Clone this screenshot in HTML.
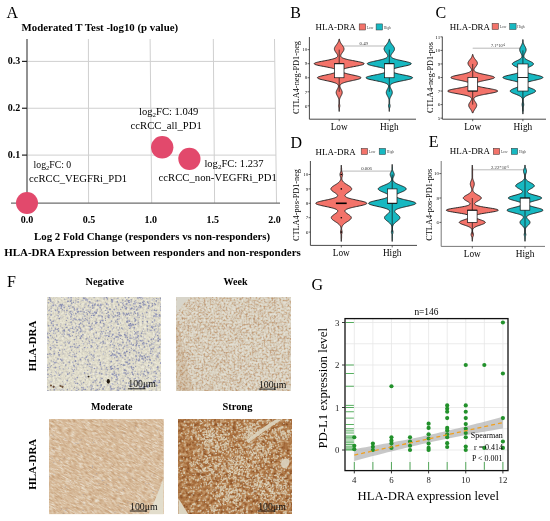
<!DOCTYPE html>
<html><head><meta charset="utf-8"><style>
html,body{margin:0;padding:0;background:#fff;}
svg{display:block;filter:blur(0.4px);font-family:"Liberation Serif", serif;}
</style></head><body>
<svg width="550" height="521" viewBox="0 0 550 521">
<text x="6.40" y="17.70" font-size="16">A</text>
<text x="21.60" y="31.00" font-size="10.9" font-weight="bold" textLength="156.50" lengthAdjust="spacingAndGlyphs">Moderated T Test -log10 (p value)</text>
<line x1="27.00" y1="155.10" x2="276.02" y2="155.10" stroke="#cfcfcf" stroke-width="1"/>
<line x1="27.00" y1="108.25" x2="275.44" y2="108.25" stroke="#cfcfcf" stroke-width="1"/>
<line x1="27.00" y1="61.40" x2="274.87" y2="61.40" stroke="#cfcfcf" stroke-width="1"/>
<line x1="88.40" y1="39.00" x2="88.60" y2="203.00" stroke="#cfcfcf" stroke-width="1"/>
<line x1="150.10" y1="39.00" x2="151.70" y2="203.00" stroke="#cfcfcf" stroke-width="1"/>
<line x1="213.30" y1="39.00" x2="214.60" y2="203.00" stroke="#cfcfcf" stroke-width="1"/>
<line x1="274.50" y1="39.00" x2="276.50" y2="203.00" stroke="#cfcfcf" stroke-width="1"/>
<line x1="27.00" y1="39.00" x2="27.00" y2="203.20" stroke="#6e6e6e" stroke-width="1.5"/>
<line x1="11.00" y1="203.20" x2="280.00" y2="203.20" stroke="#6e6e6e" stroke-width="1.3"/>
<line x1="22.00" y1="155.10" x2="27.00" y2="155.10" stroke="#222" stroke-width="1.2"/>
<text x="20.30" y="157.70" font-size="10" font-weight="bold" text-anchor="end">0.1</text>
<line x1="22.00" y1="108.25" x2="27.00" y2="108.25" stroke="#222" stroke-width="1.2"/>
<text x="20.30" y="110.85" font-size="10" font-weight="bold" text-anchor="end">0.2</text>
<line x1="22.00" y1="61.40" x2="27.00" y2="61.40" stroke="#222" stroke-width="1.2"/>
<text x="20.30" y="64.00" font-size="10" font-weight="bold" text-anchor="end">0.3</text>
<text x="27.00" y="222.70" font-size="10" font-weight="bold" text-anchor="middle">0.0</text>
<text x="88.90" y="222.70" font-size="10" font-weight="bold" text-anchor="middle">0.5</text>
<text x="150.80" y="222.70" font-size="10" font-weight="bold" text-anchor="middle">1.0</text>
<text x="212.70" y="222.70" font-size="10" font-weight="bold" text-anchor="middle">1.5</text>
<text x="274.60" y="222.70" font-size="10" font-weight="bold" text-anchor="middle">2.0</text>
<text x="34.00" y="240.20" font-size="10.9" font-weight="bold" textLength="236.20" lengthAdjust="spacingAndGlyphs">Log 2 Fold Change (responders vs non-responders)</text>
<text x="4.20" y="256.20" font-size="10.9" font-weight="bold" textLength="296.60" lengthAdjust="spacingAndGlyphs">HLA-DRA Expression between responders and non-responders</text>
<circle cx="27.00" cy="203.00" r="11" fill="#e2496c"/>
<circle cx="162.20" cy="147.30" r="11.2" fill="#e2496c"/>
<circle cx="189.40" cy="158.80" r="11.1" fill="#e2496c"/>
<text x="33.60" y="168.00" font-size="10.6" textLength="37.60" lengthAdjust="spacingAndGlyphs">log<tspan font-size="7" dy="2.2">2</tspan><tspan dy="-2.2">FC: 0</tspan></text>
<text x="29.00" y="182.40" font-size="10.6" textLength="98.20" lengthAdjust="spacingAndGlyphs">ccRCC_VEGFRi_PD1</text>
<text x="139.00" y="114.60" font-size="10.6" textLength="59.40" lengthAdjust="spacingAndGlyphs">log<tspan font-size="7" dy="2.2">2</tspan><tspan dy="-2.2">FC: 1.049</tspan></text>
<text x="130.60" y="129.00" font-size="10.6" textLength="71.20" lengthAdjust="spacingAndGlyphs">ccRCC_all_PD1</text>
<text x="204.40" y="167.00" font-size="10.6" textLength="59.20" lengthAdjust="spacingAndGlyphs">log<tspan font-size="7" dy="2.2">2</tspan><tspan dy="-2.2">FC: 1.237</tspan></text>
<text x="158.60" y="181.00" font-size="10.6" textLength="118.20" lengthAdjust="spacingAndGlyphs">ccRCC_non-VEGFRi_PD1</text>
<text x="315.60" y="30.00" font-size="9.2" textLength="40.20" lengthAdjust="spacingAndGlyphs">HLA-DRA</text>
<rect x="359.20" y="23.90" width="6.40" height="6.10" fill="#f3736a" stroke="#333" stroke-width="0.5"/>
<text x="366.80" y="28.50" font-size="3.6" fill="#444">Low</text>
<rect x="376.10" y="23.90" width="6.40" height="6.10" fill="#17b8c1" stroke="#333" stroke-width="0.5"/>
<text x="383.70" y="28.50" font-size="3.6" fill="#444">High</text>
<text x="290.20" y="17.70" font-size="16">B</text>
<line x1="309.40" y1="37.00" x2="309.40" y2="119.20" stroke="#333" stroke-width="0.9"/>
<line x1="309.40" y1="119.20" x2="416.00" y2="119.20" stroke="#333" stroke-width="0.9"/>
<line x1="307.60" y1="49.65" x2="309.40" y2="49.65" stroke="#222" stroke-width="0.7"/>
<text x="307.30" y="51.35" font-size="5" text-anchor="end" fill="#111">10</text>
<line x1="307.60" y1="63.70" x2="309.40" y2="63.70" stroke="#222" stroke-width="0.7"/>
<text x="307.30" y="65.40" font-size="5" text-anchor="end" fill="#111">9</text>
<line x1="307.60" y1="77.75" x2="309.40" y2="77.75" stroke="#222" stroke-width="0.7"/>
<text x="307.30" y="79.45" font-size="5" text-anchor="end" fill="#111">8</text>
<line x1="307.60" y1="91.80" x2="309.40" y2="91.80" stroke="#222" stroke-width="0.7"/>
<text x="307.30" y="93.50" font-size="5" text-anchor="end" fill="#111">7</text>
<line x1="307.60" y1="105.85" x2="309.40" y2="105.85" stroke="#222" stroke-width="0.7"/>
<text x="307.30" y="107.55" font-size="5" text-anchor="end" fill="#111">6</text>
<text x="299.10" y="77.50" font-size="8.8" text-anchor="middle" textLength="73.00" lengthAdjust="spacingAndGlyphs" transform="rotate(-90 299.10 77.50)">CTLA4-neg-PD1-neg</text>
<line x1="339.20" y1="46.00" x2="389.20" y2="46.00" stroke="#8a8a8a" stroke-width="0.6"/>
<text x="359.60" y="44.90" font-size="4.6" textLength="8.40" lengthAdjust="spacingAndGlyphs" fill="#333">0.49</text>
<polygon points="339.41,39.11 339.45,39.39 339.50,39.67 339.55,39.95 339.61,40.23 339.68,40.50 339.76,40.78 339.84,41.06 339.94,41.34 340.05,41.62 340.16,41.90 340.29,42.17 340.43,42.45 340.58,42.73 340.74,43.01 340.90,43.29 341.08,43.57 341.27,43.84 341.46,44.12 341.66,44.40 341.86,44.68 342.07,44.96 342.28,45.24 342.48,45.51 342.68,45.79 342.87,46.07 343.06,46.35 343.23,46.63 343.39,46.90 343.54,47.18 343.67,47.46 343.78,47.74 343.87,48.02 343.93,48.30 343.98,48.57 344.00,48.85 343.99,49.13 343.97,49.41 343.92,49.69 343.84,49.97 343.75,50.24 343.63,50.52 343.50,50.80 343.35,51.08 343.18,51.36 343.00,51.64 342.82,51.91 342.62,52.19 342.42,52.47 342.22,52.75 342.02,53.03 341.83,53.31 341.64,53.58 341.45,53.86 341.29,54.14 341.13,54.42 341.00,54.70 340.89,54.98 340.80,55.25 340.75,55.53 340.73,55.81 340.76,56.09 340.84,56.37 340.98,56.65 341.18,56.92 341.46,57.20 341.81,57.48 342.26,57.76 342.81,58.04 343.47,58.32 344.23,58.59 345.11,58.87 346.11,59.15 347.21,59.43 348.42,59.71 349.73,59.98 351.11,60.26 352.55,60.54 354.03,60.82 355.52,61.10 356.99,61.38 358.41,61.65 359.74,61.93 360.94,62.21 362.00,62.49 362.87,62.77 363.54,63.05 363.98,63.32 364.19,63.60 364.15,63.88 363.87,64.16 363.36,64.44 362.62,64.72 361.69,64.99 360.58,65.27 359.33,65.55 357.97,65.83 356.52,66.11 355.04,66.39 353.54,66.66 352.06,66.94 350.62,67.22 349.25,67.50 347.97,67.78 346.78,68.06 345.70,68.33 344.74,68.61 343.89,68.89 343.17,69.17 342.56,69.45 342.08,69.73 341.71,70.00 341.45,70.28 341.30,70.56 341.25,70.84 341.31,71.12 341.48,71.40 341.75,71.67 342.13,71.95 342.62,72.23 343.21,72.51 343.92,72.79 344.73,73.06 345.64,73.34 346.66,73.62 347.76,73.90 348.94,74.18 350.18,74.46 351.47,74.73 352.77,75.01 354.07,75.29 355.34,75.57 356.54,75.85 357.65,76.13 358.64,76.40 359.48,76.68 360.16,76.96 360.64,77.24 360.93,77.52 361.00,77.80 360.86,78.07 360.51,78.35 359.96,78.63 359.22,78.91 358.33,79.19 357.29,79.47 356.15,79.74 354.92,80.02 353.64,80.30 352.34,80.58 351.04,80.86 349.76,81.14 348.53,81.41 347.37,81.69 346.28,81.97 345.28,82.25 344.38,82.53 343.57,82.81 342.86,83.08 342.24,83.36 341.72,83.64 341.28,83.92 340.91,84.20 340.62,84.48 340.39,84.75 340.22,85.03 340.09,85.31 340.01,85.59 339.97,85.87 339.96,86.14 339.98,86.42 340.02,86.70 340.08,86.98 340.17,87.26 340.26,87.54 340.38,87.81 340.50,88.09 340.63,88.37 340.77,88.65 340.92,88.93 341.07,89.21 341.21,89.48 341.36,89.76 341.50,90.04 341.63,90.32 341.76,90.60 341.87,90.88 341.97,91.15 342.05,91.43 342.12,91.71 342.17,91.99 342.19,92.27 342.20,92.55 342.19,92.82 342.15,93.10 342.10,93.38 342.03,93.66 341.94,93.94 341.84,94.22 341.72,94.49 341.59,94.77 341.45,95.05 341.31,95.33 341.16,95.61 341.01,95.89 340.86,96.16 340.72,96.44 340.57,96.72 340.43,97.00 340.30,97.28 340.18,97.56 340.06,97.83 339.95,98.11 339.85,98.39 339.76,98.67 339.68,98.95 339.61,99.22 339.55,99.50 339.50,99.78 339.50,100.06 339.50,100.34 339.50,100.62 339.50,100.89 339.50,101.17 339.50,101.45 339.50,101.73 339.50,102.01 339.50,102.29 339.50,102.56 339.50,102.84 339.50,103.12 339.50,103.40 339.50,103.68 339.53,103.96 339.59,104.23 339.64,104.51 339.70,104.79 339.74,105.07 339.78,105.35 339.80,105.63 339.80,105.90 339.79,106.18 339.76,106.46 339.72,106.74 339.67,107.02 339.62,107.30 339.56,107.57 339.50,107.85 339.49,108.13 339.46,108.41 339.44,108.69 339.41,108.97 339.39,109.24 339.37,109.52 339.34,109.80 339.32,110.08 339.30,110.36 339.27,110.64 339.25,110.91 339.22,111.19 339.20,111.47 339.20,111.47 339.18,111.19 339.15,110.91 339.13,110.64 339.10,110.36 339.08,110.08 339.06,109.80 339.03,109.52 339.01,109.24 338.99,108.97 338.96,108.69 338.94,108.41 338.91,108.13 338.90,107.85 338.84,107.57 338.78,107.30 338.73,107.02 338.68,106.74 338.64,106.46 338.61,106.18 338.60,105.90 338.60,105.63 338.62,105.35 338.66,105.07 338.70,104.79 338.76,104.51 338.81,104.23 338.87,103.96 338.90,103.68 338.90,103.40 338.90,103.12 338.90,102.84 338.90,102.56 338.90,102.29 338.90,102.01 338.90,101.73 338.90,101.45 338.90,101.17 338.90,100.89 338.90,100.62 338.90,100.34 338.90,100.06 338.90,99.78 338.85,99.50 338.79,99.22 338.72,98.95 338.64,98.67 338.55,98.39 338.45,98.11 338.34,97.83 338.22,97.56 338.10,97.28 337.97,97.00 337.83,96.72 337.68,96.44 337.54,96.16 337.39,95.89 337.24,95.61 337.09,95.33 336.95,95.05 336.81,94.77 336.68,94.49 336.56,94.22 336.46,93.94 336.37,93.66 336.30,93.38 336.25,93.10 336.21,92.82 336.20,92.55 336.21,92.27 336.23,91.99 336.28,91.71 336.35,91.43 336.43,91.15 336.53,90.88 336.64,90.60 336.77,90.32 336.90,90.04 337.04,89.76 337.19,89.48 337.33,89.21 337.48,88.93 337.63,88.65 337.77,88.37 337.90,88.09 338.02,87.81 338.14,87.54 338.23,87.26 338.32,86.98 338.38,86.70 338.42,86.42 338.44,86.14 338.43,85.87 338.39,85.59 338.31,85.31 338.18,85.03 338.01,84.75 337.78,84.48 337.49,84.20 337.12,83.92 336.68,83.64 336.16,83.36 335.54,83.08 334.83,82.81 334.02,82.53 333.12,82.25 332.12,81.97 331.03,81.69 329.87,81.41 328.64,81.14 327.36,80.86 326.06,80.58 324.76,80.30 323.48,80.02 322.25,79.74 321.11,79.47 320.07,79.19 319.18,78.91 318.44,78.63 317.89,78.35 317.54,78.07 317.40,77.80 317.47,77.52 317.76,77.24 318.24,76.96 318.92,76.68 319.76,76.40 320.75,76.13 321.86,75.85 323.06,75.57 324.33,75.29 325.63,75.01 326.93,74.73 328.22,74.46 329.46,74.18 330.64,73.90 331.74,73.62 332.76,73.34 333.67,73.06 334.48,72.79 335.19,72.51 335.78,72.23 336.27,71.95 336.65,71.67 336.92,71.40 337.09,71.12 337.15,70.84 337.10,70.56 336.95,70.28 336.69,70.00 336.32,69.73 335.84,69.45 335.23,69.17 334.51,68.89 333.66,68.61 332.70,68.33 331.62,68.06 330.43,67.78 329.15,67.50 327.78,67.22 326.34,66.94 324.86,66.66 323.36,66.39 321.88,66.11 320.43,65.83 319.07,65.55 317.82,65.27 316.71,64.99 315.78,64.72 315.04,64.44 314.53,64.16 314.25,63.88 314.21,63.60 314.42,63.32 314.86,63.05 315.53,62.77 316.40,62.49 317.46,62.21 318.66,61.93 319.99,61.65 321.41,61.38 322.88,61.10 324.37,60.82 325.85,60.54 327.29,60.26 328.67,59.98 329.98,59.71 331.19,59.43 332.29,59.15 333.29,58.87 334.17,58.59 334.93,58.32 335.59,58.04 336.14,57.76 336.59,57.48 336.94,57.20 337.22,56.92 337.42,56.65 337.56,56.37 337.64,56.09 337.67,55.81 337.65,55.53 337.60,55.25 337.51,54.98 337.40,54.70 337.27,54.42 337.11,54.14 336.95,53.86 336.76,53.58 336.57,53.31 336.38,53.03 336.18,52.75 335.98,52.47 335.78,52.19 335.58,51.91 335.40,51.64 335.22,51.36 335.05,51.08 334.90,50.80 334.77,50.52 334.65,50.24 334.56,49.97 334.48,49.69 334.43,49.41 334.41,49.13 334.40,48.85 334.42,48.57 334.47,48.30 334.53,48.02 334.62,47.74 334.73,47.46 334.86,47.18 335.01,46.90 335.17,46.63 335.34,46.35 335.53,46.07 335.72,45.79 335.92,45.51 336.12,45.24 336.33,44.96 336.54,44.68 336.74,44.40 336.94,44.12 337.13,43.84 337.32,43.57 337.50,43.29 337.66,43.01 337.82,42.73 337.97,42.45 338.11,42.17 338.24,41.90 338.35,41.62 338.46,41.34 338.56,41.06 338.64,40.78 338.72,40.50 338.79,40.23 338.85,39.95 338.90,39.67 338.95,39.39 338.99,39.11" fill="#f3736a" stroke="#1a1a1a" stroke-width="0.9" stroke-linejoin="round"/>
<line x1="339.20" y1="91.80" x2="339.20" y2="49.65" stroke="#111" stroke-width="0.7"/>
<rect x="334.40" y="63.70" width="9.60" height="14.05" fill="#fff" stroke="#111" stroke-width="0.7"/>
<line x1="334.40" y1="63.70" x2="344.00" y2="63.70" stroke="#111" stroke-width="0.9"/>
<line x1="339.20" y1="119.20" x2="339.20" y2="121.20" stroke="#222" stroke-width="0.7"/>
<text x="339.20" y="129.60" font-size="9.3" text-anchor="middle">Low</text>
<polygon points="389.53,39.11 389.57,39.39 389.62,39.67 389.68,39.95 389.75,40.23 389.82,40.50 389.90,40.78 390.00,41.06 390.10,41.34 390.22,41.62 390.34,41.90 390.48,42.17 390.63,42.45 390.79,42.73 390.96,43.01 391.15,43.29 391.34,43.57 391.54,43.84 391.75,44.12 391.97,44.40 392.19,44.68 392.41,44.96 392.63,45.24 392.85,45.51 393.07,45.79 393.28,46.07 393.48,46.35 393.67,46.63 393.84,46.90 394.00,47.18 394.14,47.46 394.26,47.74 394.36,48.02 394.43,48.30 394.48,48.57 394.50,48.85 394.49,49.13 394.46,49.41 394.41,49.69 394.33,49.97 394.23,50.24 394.10,50.52 393.95,50.80 393.79,51.08 393.61,51.36 393.42,51.64 393.22,51.91 393.01,52.19 392.79,52.47 392.57,52.75 392.35,53.03 392.14,53.31 391.93,53.58 391.73,53.86 391.54,54.14 391.37,54.42 391.22,54.70 391.09,54.98 390.98,55.25 390.90,55.53 390.86,55.81 390.86,56.09 390.91,56.37 391.01,56.65 391.17,56.92 391.39,57.20 391.69,57.48 392.08,57.76 392.55,58.04 393.11,58.32 393.78,58.59 394.54,58.87 395.41,59.15 396.38,59.43 397.44,59.71 398.58,59.98 399.80,60.26 401.06,60.54 402.36,60.82 403.67,61.10 404.96,61.38 406.21,61.65 407.38,61.93 408.44,62.21 409.36,62.49 410.13,62.77 410.72,63.05 411.11,63.32 411.29,63.60 411.26,63.88 411.01,64.16 410.56,64.44 409.91,64.72 409.09,64.99 408.11,65.27 407.01,65.55 405.81,65.83 404.55,66.11 403.24,66.39 401.92,66.66 400.62,66.94 399.36,67.22 398.15,67.50 397.02,67.78 395.98,68.06 395.03,68.33 394.19,68.61 393.46,68.89 392.83,69.17 392.31,69.45 391.90,69.73 391.60,70.00 391.40,70.28 391.30,70.56 391.30,70.84 391.41,71.12 391.62,71.40 391.94,71.67 392.37,71.95 392.90,72.23 393.55,72.51 394.31,72.79 395.19,73.06 396.17,73.34 397.26,73.62 398.44,73.90 399.71,74.18 401.04,74.46 402.41,74.73 403.81,75.01 405.19,75.29 406.55,75.57 407.83,75.85 409.02,76.13 410.08,76.40 410.98,76.68 411.70,76.96 412.22,77.24 412.52,77.52 412.60,77.80 412.45,78.07 412.07,78.35 411.48,78.63 410.70,78.91 409.74,79.19 408.64,79.47 407.42,79.74 406.11,80.02 404.74,80.30 403.34,80.58 401.95,80.86 400.59,81.14 399.27,81.41 398.03,81.69 396.87,81.97 395.80,82.25 394.83,82.53 393.97,82.81 393.21,83.08 392.55,83.36 391.98,83.64 391.51,83.92 391.12,84.20 390.81,84.48 390.56,84.75 390.37,85.03 390.23,85.31 390.14,85.59 390.09,85.87 390.08,86.14 390.09,86.42 390.13,86.70 390.19,86.98 390.27,87.26 390.37,87.54 390.48,87.81 390.60,88.09 390.73,88.37 390.87,88.65 391.02,88.93 391.17,89.21 391.31,89.48 391.46,89.76 391.60,90.04 391.73,90.32 391.86,90.60 391.97,90.88 392.07,91.15 392.15,91.43 392.22,91.71 392.27,91.99 392.29,92.27 392.30,92.55 392.29,92.82 392.25,93.10 392.20,93.38 392.13,93.66 392.04,93.94 391.94,94.22 391.82,94.49 391.69,94.77 391.55,95.05 391.41,95.33 391.26,95.61 391.11,95.89 390.96,96.16 390.82,96.44 390.67,96.72 390.53,97.00 390.40,97.28 390.28,97.56 390.16,97.83 390.05,98.11 389.95,98.39 389.86,98.67 389.78,98.95 389.71,99.22 389.65,99.50 389.60,99.78 389.60,100.06 389.60,100.34 389.60,100.62 389.60,100.89 389.60,101.17 389.60,101.45 389.60,101.73 389.60,102.01 389.60,102.29 389.60,102.56 389.60,102.84 389.60,103.12 389.60,103.40 389.66,103.68 389.74,103.96 389.81,104.23 389.89,104.51 389.96,104.79 390.02,105.07 390.07,105.35 390.09,105.63 390.10,105.90 390.09,106.18 390.05,106.46 390.00,106.74 389.93,107.02 389.85,107.30 389.77,107.57 389.70,107.85 389.62,108.13 389.56,108.41 389.54,108.69 389.51,108.97 389.49,109.24 389.47,109.52 389.44,109.80 389.42,110.08 389.40,110.36 389.37,110.64 389.35,110.91 389.32,111.19 389.30,111.47 389.30,111.47 389.28,111.19 389.25,110.91 389.23,110.64 389.20,110.36 389.18,110.08 389.16,109.80 389.13,109.52 389.11,109.24 389.09,108.97 389.06,108.69 389.04,108.41 388.98,108.13 388.90,107.85 388.83,107.57 388.75,107.30 388.67,107.02 388.60,106.74 388.55,106.46 388.51,106.18 388.50,105.90 388.51,105.63 388.53,105.35 388.58,105.07 388.64,104.79 388.71,104.51 388.79,104.23 388.86,103.96 388.94,103.68 389.00,103.40 389.00,103.12 389.00,102.84 389.00,102.56 389.00,102.29 389.00,102.01 389.00,101.73 389.00,101.45 389.00,101.17 389.00,100.89 389.00,100.62 389.00,100.34 389.00,100.06 389.00,99.78 388.95,99.50 388.89,99.22 388.82,98.95 388.74,98.67 388.65,98.39 388.55,98.11 388.44,97.83 388.32,97.56 388.20,97.28 388.07,97.00 387.93,96.72 387.78,96.44 387.64,96.16 387.49,95.89 387.34,95.61 387.19,95.33 387.05,95.05 386.91,94.77 386.78,94.49 386.66,94.22 386.56,93.94 386.47,93.66 386.40,93.38 386.35,93.10 386.31,92.82 386.30,92.55 386.31,92.27 386.33,91.99 386.38,91.71 386.45,91.43 386.53,91.15 386.63,90.88 386.74,90.60 386.87,90.32 387.00,90.04 387.14,89.76 387.29,89.48 387.43,89.21 387.58,88.93 387.73,88.65 387.87,88.37 388.00,88.09 388.12,87.81 388.23,87.54 388.33,87.26 388.41,86.98 388.47,86.70 388.51,86.42 388.52,86.14 388.51,85.87 388.46,85.59 388.37,85.31 388.23,85.03 388.04,84.75 387.79,84.48 387.48,84.20 387.09,83.92 386.62,83.64 386.05,83.36 385.39,83.08 384.63,82.81 383.77,82.53 382.80,82.25 381.73,81.97 380.57,81.69 379.33,81.41 378.01,81.14 376.65,80.86 375.26,80.58 373.86,80.30 372.49,80.02 371.18,79.74 369.96,79.47 368.86,79.19 367.90,78.91 367.12,78.63 366.53,78.35 366.15,78.07 366.00,77.80 366.08,77.52 366.38,77.24 366.90,76.96 367.62,76.68 368.52,76.40 369.58,76.13 370.77,75.85 372.05,75.57 373.41,75.29 374.79,75.01 376.19,74.73 377.56,74.46 378.89,74.18 380.16,73.90 381.34,73.62 382.43,73.34 383.41,73.06 384.29,72.79 385.05,72.51 385.70,72.23 386.23,71.95 386.66,71.67 386.98,71.40 387.19,71.12 387.30,70.84 387.30,70.56 387.20,70.28 387.00,70.00 386.70,69.73 386.29,69.45 385.77,69.17 385.14,68.89 384.41,68.61 383.57,68.33 382.62,68.06 381.58,67.78 380.45,67.50 379.24,67.22 377.98,66.94 376.68,66.66 375.36,66.39 374.05,66.11 372.79,65.83 371.59,65.55 370.49,65.27 369.51,64.99 368.69,64.72 368.04,64.44 367.59,64.16 367.34,63.88 367.31,63.60 367.49,63.32 367.88,63.05 368.47,62.77 369.24,62.49 370.16,62.21 371.22,61.93 372.39,61.65 373.64,61.38 374.93,61.10 376.24,60.82 377.54,60.54 378.80,60.26 380.02,59.98 381.16,59.71 382.22,59.43 383.19,59.15 384.06,58.87 384.82,58.59 385.49,58.32 386.05,58.04 386.52,57.76 386.91,57.48 387.21,57.20 387.43,56.92 387.59,56.65 387.69,56.37 387.74,56.09 387.74,55.81 387.70,55.53 387.62,55.25 387.51,54.98 387.38,54.70 387.23,54.42 387.06,54.14 386.87,53.86 386.67,53.58 386.46,53.31 386.25,53.03 386.03,52.75 385.81,52.47 385.59,52.19 385.38,51.91 385.18,51.64 384.99,51.36 384.81,51.08 384.65,50.80 384.50,50.52 384.37,50.24 384.27,49.97 384.19,49.69 384.14,49.41 384.11,49.13 384.10,48.85 384.12,48.57 384.17,48.30 384.24,48.02 384.34,47.74 384.46,47.46 384.60,47.18 384.76,46.90 384.93,46.63 385.12,46.35 385.32,46.07 385.53,45.79 385.75,45.51 385.97,45.24 386.19,44.96 386.41,44.68 386.63,44.40 386.85,44.12 387.06,43.84 387.26,43.57 387.45,43.29 387.64,43.01 387.81,42.73 387.97,42.45 388.12,42.17 388.26,41.90 388.38,41.62 388.50,41.34 388.60,41.06 388.70,40.78 388.78,40.50 388.85,40.23 388.92,39.95 388.98,39.67 389.03,39.39 389.07,39.11" fill="#17b8c1" stroke="#1a1a1a" stroke-width="0.9" stroke-linejoin="round"/>
<line x1="389.30" y1="91.80" x2="389.30" y2="49.65" stroke="#111" stroke-width="0.7"/>
<rect x="384.50" y="63.70" width="9.60" height="14.05" fill="#fff" stroke="#111" stroke-width="0.7"/>
<line x1="384.50" y1="63.70" x2="394.10" y2="63.70" stroke="#111" stroke-width="0.9"/>
<line x1="389.30" y1="119.20" x2="389.30" y2="121.20" stroke="#222" stroke-width="0.7"/>
<text x="389.30" y="129.60" font-size="9.3" text-anchor="middle">High</text>
<text x="449.80" y="29.50" font-size="9.2" textLength="40.20" lengthAdjust="spacingAndGlyphs">HLA-DRA</text>
<rect x="492.10" y="23.40" width="6.40" height="6.10" fill="#f3736a" stroke="#333" stroke-width="0.5"/>
<text x="499.70" y="28.00" font-size="3.6" fill="#444">Low</text>
<rect x="509.70" y="23.40" width="6.40" height="6.10" fill="#17b8c1" stroke="#333" stroke-width="0.5"/>
<text x="517.30" y="28.00" font-size="3.6" fill="#444">High</text>
<text x="435.60" y="17.70" font-size="16">C</text>
<line x1="442.30" y1="36.70" x2="442.30" y2="119.20" stroke="#333" stroke-width="0.9"/>
<line x1="442.30" y1="119.20" x2="546.00" y2="119.20" stroke="#333" stroke-width="0.9"/>
<line x1="440.50" y1="36.85" x2="442.30" y2="36.85" stroke="#222" stroke-width="0.7"/>
<text x="440.20" y="38.55" font-size="5" text-anchor="end" fill="#111">11</text>
<line x1="440.50" y1="50.40" x2="442.30" y2="50.40" stroke="#222" stroke-width="0.7"/>
<text x="440.20" y="52.10" font-size="5" text-anchor="end" fill="#111">10</text>
<line x1="440.50" y1="63.95" x2="442.30" y2="63.95" stroke="#222" stroke-width="0.7"/>
<text x="440.20" y="65.65" font-size="5" text-anchor="end" fill="#111">9</text>
<line x1="440.50" y1="77.50" x2="442.30" y2="77.50" stroke="#222" stroke-width="0.7"/>
<text x="440.20" y="79.20" font-size="5" text-anchor="end" fill="#111">8</text>
<line x1="440.50" y1="91.05" x2="442.30" y2="91.05" stroke="#222" stroke-width="0.7"/>
<text x="440.20" y="92.75" font-size="5" text-anchor="end" fill="#111">7</text>
<line x1="440.50" y1="104.60" x2="442.30" y2="104.60" stroke="#222" stroke-width="0.7"/>
<text x="440.20" y="106.30" font-size="5" text-anchor="end" fill="#111">6</text>
<line x1="440.50" y1="118.15" x2="442.30" y2="118.15" stroke="#222" stroke-width="0.7"/>
<text x="440.20" y="119.85" font-size="5" text-anchor="end" fill="#111">5</text>
<text x="432.50" y="77.50" font-size="8.8" text-anchor="middle" textLength="71.00" lengthAdjust="spacingAndGlyphs" transform="rotate(-90 432.50 77.50)">CTLA4-neg-PD1-pos</text>
<line x1="472.70" y1="48.20" x2="522.90" y2="48.20" stroke="#8a8a8a" stroke-width="0.6"/>
<text x="491.00" y="47.10" font-size="4.6" textLength="14.00" lengthAdjust="spacingAndGlyphs" fill="#333">7.1*10<tspan font-size="3" dy="-1.2">-4</tspan></text>
<polygon points="472.91,54.47 472.94,54.69 472.98,54.91 473.03,55.14 473.08,55.36 473.13,55.59 473.20,55.81 473.27,56.03 473.35,56.26 473.43,56.48 473.53,56.71 473.63,56.93 473.74,57.15 473.86,57.38 473.99,57.60 474.12,57.83 474.27,58.05 474.42,58.27 474.58,58.50 474.74,58.72 474.91,58.95 475.09,59.17 475.26,59.40 475.45,59.62 475.63,59.84 475.81,60.07 475.99,60.29 476.16,60.52 476.33,60.74 476.49,60.96 476.65,61.19 476.79,61.41 476.92,61.64 477.04,61.86 477.14,62.08 477.23,62.31 477.30,62.53 477.35,62.76 477.38,62.98 477.40,63.20 477.40,63.43 477.37,63.65 477.33,63.88 477.27,64.10 477.19,64.33 477.10,64.55 476.99,64.77 476.87,65.00 476.73,65.22 476.59,65.45 476.43,65.67 476.27,65.89 476.10,66.12 475.92,66.34 475.74,66.57 475.56,66.79 475.39,67.01 475.21,67.24 475.04,67.46 474.87,67.69 474.72,67.91 474.57,68.13 474.43,68.36 474.31,68.58 474.20,68.81 474.10,69.03 474.02,69.26 473.97,69.48 473.94,69.70 473.93,69.93 473.95,70.15 474.00,70.38 474.09,70.60 474.22,70.82 474.39,71.05 474.61,71.27 474.88,71.50 475.21,71.72 475.59,71.94 476.04,72.17 476.56,72.39 477.14,72.62 477.79,72.84 478.51,73.06 479.30,73.29 480.16,73.51 481.07,73.74 482.04,73.96 483.06,74.19 484.11,74.41 485.19,74.63 486.27,74.86 487.36,75.08 488.42,75.31 489.45,75.53 490.42,75.75 491.33,75.98 492.14,76.20 492.86,76.43 493.46,76.65 493.93,76.87 494.26,77.10 494.46,77.32 494.50,77.55 494.39,77.77 494.14,78.00 493.75,78.22 493.22,78.44 492.57,78.67 491.81,78.89 490.95,79.12 490.02,79.34 489.02,79.56 487.97,79.79 486.89,80.01 485.80,80.24 484.72,80.46 483.65,80.68 482.61,80.91 481.61,81.13 480.66,81.36 479.77,81.58 478.95,81.80 478.19,82.03 477.51,82.25 476.90,82.48 476.37,82.70 475.92,82.93 475.54,83.15 475.23,83.37 475.00,83.60 474.85,83.82 474.77,84.05 474.76,84.27 474.82,84.49 474.96,84.72 475.17,84.94 475.47,85.17 475.84,85.39 476.29,85.61 476.83,85.84 477.44,86.06 478.15,86.29 478.93,86.51 479.80,86.73 480.75,86.96 481.77,87.18 482.86,87.41 484.00,87.63 485.19,87.86 486.42,88.08 487.67,88.30 488.92,88.53 490.15,88.75 491.36,88.98 492.51,89.20 493.58,89.42 494.57,89.65 495.45,89.87 496.20,90.10 496.81,90.32 497.27,90.54 497.57,90.77 497.70,90.99 497.65,91.22 497.44,91.44 497.07,91.66 496.53,91.89 495.85,92.11 495.04,92.34 494.11,92.56 493.07,92.79 491.96,93.01 490.78,93.23 489.56,93.46 488.32,93.68 487.07,93.91 485.83,94.13 484.62,94.35 483.45,94.58 482.33,94.80 481.28,95.03 480.29,95.25 479.38,95.47 478.54,95.70 477.78,95.92 477.10,96.15 476.50,96.37 475.97,96.60 475.52,96.82 475.13,97.04 474.80,97.27 474.53,97.49 474.31,97.72 474.14,97.94 474.02,98.16 473.93,98.39 473.88,98.61 473.86,98.84 473.86,99.06 473.89,99.28 473.94,99.51 474.01,99.73 474.09,99.96 474.19,100.18 474.30,100.40 474.42,100.63 474.55,100.85 474.69,101.08 474.84,101.30 474.98,101.53 475.13,101.75 475.28,101.97 475.43,102.20 475.58,102.42 475.73,102.65 475.87,102.87 476.00,103.09 476.13,103.32 476.24,103.54 476.35,103.77 476.44,103.99 476.52,104.21 476.59,104.44 476.64,104.66 476.68,104.89 476.70,105.11 476.70,105.33 476.69,105.56 476.66,105.78 476.62,106.01 476.56,106.23 476.48,106.46 476.40,106.68 476.30,106.90 476.18,107.13 476.06,107.35 475.93,107.58 475.80,107.80 475.65,108.02 475.50,108.25 475.35,108.47 475.20,108.70 475.04,108.92 474.89,109.14 474.74,109.37 474.59,109.59 474.44,109.82 474.30,110.04 474.17,110.26 474.04,110.49 473.92,110.71 473.80,110.94 473.69,111.16 473.59,111.39 473.50,111.61 473.41,111.83 473.33,112.06 473.25,112.28 473.19,112.51 473.13,112.73 472.27,112.73 472.21,112.51 472.15,112.28 472.07,112.06 471.99,111.83 471.90,111.61 471.81,111.39 471.71,111.16 471.60,110.94 471.48,110.71 471.36,110.49 471.23,110.26 471.10,110.04 470.96,109.82 470.81,109.59 470.66,109.37 470.51,109.14 470.36,108.92 470.20,108.70 470.05,108.47 469.90,108.25 469.75,108.02 469.60,107.80 469.47,107.58 469.34,107.35 469.22,107.13 469.10,106.90 469.00,106.68 468.92,106.46 468.84,106.23 468.78,106.01 468.74,105.78 468.71,105.56 468.70,105.33 468.70,105.11 468.72,104.89 468.76,104.66 468.81,104.44 468.88,104.21 468.96,103.99 469.05,103.77 469.16,103.54 469.27,103.32 469.40,103.09 469.53,102.87 469.67,102.65 469.82,102.42 469.97,102.20 470.12,101.97 470.27,101.75 470.42,101.53 470.56,101.30 470.71,101.08 470.85,100.85 470.98,100.63 471.10,100.40 471.21,100.18 471.31,99.96 471.39,99.73 471.46,99.51 471.51,99.28 471.54,99.06 471.54,98.84 471.52,98.61 471.47,98.39 471.38,98.16 471.26,97.94 471.09,97.72 470.87,97.49 470.60,97.27 470.27,97.04 469.88,96.82 469.43,96.60 468.90,96.37 468.30,96.15 467.62,95.92 466.86,95.70 466.02,95.47 465.11,95.25 464.12,95.03 463.07,94.80 461.95,94.58 460.78,94.35 459.57,94.13 458.33,93.91 457.08,93.68 455.84,93.46 454.62,93.23 453.44,93.01 452.33,92.79 451.29,92.56 450.36,92.34 449.55,92.11 448.87,91.89 448.33,91.66 447.96,91.44 447.75,91.22 447.70,90.99 447.83,90.77 448.13,90.54 448.59,90.32 449.20,90.10 449.95,89.87 450.83,89.65 451.82,89.42 452.89,89.20 454.04,88.98 455.25,88.75 456.48,88.53 457.73,88.30 458.98,88.08 460.21,87.86 461.40,87.63 462.54,87.41 463.63,87.18 464.65,86.96 465.60,86.73 466.47,86.51 467.25,86.29 467.96,86.06 468.57,85.84 469.11,85.61 469.56,85.39 469.93,85.17 470.23,84.94 470.44,84.72 470.58,84.49 470.64,84.27 470.63,84.05 470.55,83.82 470.40,83.60 470.17,83.37 469.86,83.15 469.48,82.93 469.03,82.70 468.50,82.48 467.89,82.25 467.21,82.03 466.45,81.80 465.63,81.58 464.74,81.36 463.79,81.13 462.79,80.91 461.75,80.68 460.68,80.46 459.60,80.24 458.51,80.01 457.43,79.79 456.38,79.56 455.38,79.34 454.45,79.12 453.59,78.89 452.83,78.67 452.18,78.44 451.65,78.22 451.26,78.00 451.01,77.77 450.90,77.55 450.94,77.32 451.14,77.10 451.47,76.87 451.94,76.65 452.54,76.43 453.26,76.20 454.07,75.98 454.98,75.75 455.95,75.53 456.98,75.31 458.04,75.08 459.13,74.86 460.21,74.63 461.29,74.41 462.34,74.19 463.36,73.96 464.33,73.74 465.24,73.51 466.10,73.29 466.89,73.06 467.61,72.84 468.26,72.62 468.84,72.39 469.36,72.17 469.81,71.94 470.19,71.72 470.52,71.50 470.79,71.27 471.01,71.05 471.18,70.82 471.31,70.60 471.40,70.38 471.45,70.15 471.47,69.93 471.46,69.70 471.43,69.48 471.38,69.26 471.30,69.03 471.20,68.81 471.09,68.58 470.97,68.36 470.83,68.13 470.68,67.91 470.53,67.69 470.36,67.46 470.19,67.24 470.01,67.01 469.84,66.79 469.66,66.57 469.48,66.34 469.30,66.12 469.13,65.89 468.97,65.67 468.81,65.45 468.67,65.22 468.53,65.00 468.41,64.77 468.30,64.55 468.21,64.33 468.13,64.10 468.07,63.88 468.03,63.65 468.00,63.43 468.00,63.20 468.02,62.98 468.05,62.76 468.10,62.53 468.17,62.31 468.26,62.08 468.36,61.86 468.48,61.64 468.61,61.41 468.75,61.19 468.91,60.96 469.07,60.74 469.24,60.52 469.41,60.29 469.59,60.07 469.77,59.84 469.95,59.62 470.14,59.40 470.31,59.17 470.49,58.95 470.66,58.72 470.82,58.50 470.98,58.27 471.13,58.05 471.28,57.83 471.41,57.60 471.54,57.38 471.66,57.15 471.77,56.93 471.87,56.71 471.97,56.48 472.05,56.26 472.13,56.03 472.20,55.81 472.27,55.59 472.32,55.36 472.37,55.14 472.42,54.91 472.46,54.69 472.49,54.47" fill="#f3736a" stroke="#1a1a1a" stroke-width="0.9" stroke-linejoin="round"/>
<line x1="472.70" y1="104.60" x2="472.70" y2="63.95" stroke="#111" stroke-width="0.7"/>
<rect x="467.90" y="77.50" width="9.60" height="13.55" fill="#fff" stroke="#111" stroke-width="0.7"/>
<line x1="467.90" y1="91.05" x2="477.50" y2="91.05" stroke="#111" stroke-width="0.9"/>
<line x1="472.70" y1="119.20" x2="472.70" y2="121.20" stroke="#222" stroke-width="0.7"/>
<text x="472.70" y="129.80" font-size="9.3" text-anchor="middle">Low</text>
<polygon points="522.95,39.56 522.96,39.85 522.98,40.13 523.00,40.42 523.02,40.71 523.05,40.99 523.08,41.28 523.12,41.57 523.16,41.85 523.22,42.14 523.27,42.43 523.34,42.71 523.42,43.00 523.50,43.29 523.60,43.57 523.70,43.86 523.81,44.15 523.94,44.43 524.07,44.72 524.21,45.01 524.35,45.29 524.50,45.58 524.66,45.87 524.82,46.15 524.97,46.44 525.13,46.73 525.28,47.01 525.43,47.30 525.56,47.59 525.69,47.87 525.80,48.16 525.90,48.45 525.98,48.73 526.04,49.02 526.08,49.31 526.10,49.59 526.10,49.88 526.08,50.17 526.03,50.45 525.97,50.74 525.89,51.03 525.79,51.31 525.68,51.60 525.55,51.89 525.42,52.17 525.27,52.46 525.12,52.75 524.97,53.03 524.82,53.32 524.67,53.61 524.52,53.89 524.39,54.18 524.26,54.46 524.15,54.75 524.05,55.04 523.96,55.32 523.90,55.61 523.86,55.90 523.85,56.18 523.87,56.47 523.91,56.76 523.99,57.04 524.11,57.33 524.27,57.62 524.47,57.90 524.72,58.19 525.01,58.48 525.35,58.76 525.74,59.05 526.18,59.34 526.66,59.62 527.18,59.91 527.74,60.20 528.32,60.48 528.93,60.77 529.54,61.06 530.15,61.34 530.74,61.63 531.31,61.92 531.84,62.20 532.31,62.49 532.71,62.78 533.04,63.06 533.29,63.35 533.44,63.64 533.50,63.92 533.46,64.21 533.32,64.50 533.09,64.78 532.78,65.07 532.38,65.36 531.92,65.64 531.40,65.93 530.84,66.22 530.25,66.50 529.64,66.79 529.03,67.08 528.42,67.36 527.83,67.65 527.27,67.94 526.75,68.22 526.27,68.51 525.84,68.80 525.47,69.08 525.15,69.37 524.90,69.66 524.71,69.94 524.60,70.23 524.56,70.52 524.60,70.80 524.72,71.09 524.93,71.38 525.24,71.66 525.65,71.95 526.16,72.24 526.77,72.52 527.50,72.81 528.34,73.10 529.28,73.38 530.32,73.67 531.44,73.96 532.64,74.24 533.89,74.53 535.16,74.82 536.43,75.10 537.67,75.39 538.85,75.68 539.93,75.96 540.88,76.25 541.68,76.54 542.29,76.82 542.69,77.11 542.89,77.40 542.86,77.68 542.60,77.97 542.14,78.26 541.48,78.54 540.64,78.83 539.65,79.12 538.54,79.40 537.34,79.69 536.09,79.98 534.82,80.26 533.55,80.55 532.31,80.84 531.14,81.12 530.04,81.41 529.03,81.70 528.12,81.98 527.32,82.27 526.63,82.56 526.05,82.84 525.59,83.13 525.23,83.42 524.97,83.70 524.81,83.99 524.74,84.28 524.76,84.56 524.87,84.85 525.05,85.13 525.32,85.42 525.65,85.71 526.06,85.99 526.54,86.28 527.08,86.57 527.67,86.85 528.31,87.14 528.99,87.43 529.71,87.71 530.44,88.00 531.17,88.29 531.90,88.57 532.60,88.86 533.26,89.15 533.87,89.43 534.40,89.72 534.85,90.01 535.20,90.29 535.44,90.58 535.58,90.87 535.59,91.15 535.49,91.44 535.28,91.73 534.95,92.01 534.53,92.30 534.02,92.59 533.43,92.87 532.78,93.16 532.09,93.45 531.37,93.73 530.63,94.02 529.89,94.31 529.16,94.59 528.46,94.88 527.79,95.17 527.16,95.45 526.58,95.74 526.05,96.03 525.57,96.31 525.14,96.60 524.77,96.89 524.44,97.17 524.16,97.46 523.92,97.75 523.72,98.03 523.56,98.32 523.42,98.61 523.31,98.89 523.23,99.18 523.20,99.47 523.20,99.75 523.20,100.04 523.20,100.33 523.20,100.61 523.20,100.90 523.20,101.19 523.20,101.47 523.22,101.76 523.28,102.05 523.34,102.33 523.40,102.62 523.47,102.91 523.53,103.19 523.59,103.48 523.64,103.77 523.67,104.05 523.69,104.34 523.70,104.63 523.69,104.91 523.67,105.20 523.63,105.49 523.58,105.77 523.52,106.06 523.45,106.35 523.39,106.63 523.32,106.92 523.25,107.21 523.20,107.49 523.20,107.78 523.20,108.07 523.20,108.35 523.20,108.64 523.20,108.93 523.20,109.21 523.20,109.50 523.20,109.79 523.20,110.07 523.20,110.36 523.20,110.65 523.18,110.93 523.15,111.22 523.13,111.51 523.10,111.79 523.08,112.08 523.05,112.37 523.03,112.65 523.00,112.94 522.98,113.23 522.95,113.51 522.93,113.80 522.90,114.09 522.90,114.09 522.87,113.80 522.85,113.51 522.82,113.23 522.80,112.94 522.77,112.65 522.75,112.37 522.72,112.08 522.70,111.79 522.67,111.51 522.65,111.22 522.62,110.93 522.60,110.65 522.60,110.36 522.60,110.07 522.60,109.79 522.60,109.50 522.60,109.21 522.60,108.93 522.60,108.64 522.60,108.35 522.60,108.07 522.60,107.78 522.60,107.49 522.55,107.21 522.48,106.92 522.41,106.63 522.35,106.35 522.28,106.06 522.22,105.77 522.17,105.49 522.13,105.20 522.11,104.91 522.10,104.63 522.11,104.34 522.13,104.05 522.16,103.77 522.21,103.48 522.27,103.19 522.33,102.91 522.40,102.62 522.46,102.33 522.52,102.05 522.58,101.76 522.60,101.47 522.60,101.19 522.60,100.90 522.60,100.61 522.60,100.33 522.60,100.04 522.60,99.75 522.60,99.47 522.57,99.18 522.49,98.89 522.38,98.61 522.24,98.32 522.08,98.03 521.88,97.75 521.64,97.46 521.36,97.17 521.03,96.89 520.66,96.60 520.23,96.31 519.75,96.03 519.22,95.74 518.64,95.45 518.01,95.17 517.34,94.88 516.64,94.59 515.91,94.31 515.17,94.02 514.43,93.73 513.71,93.45 513.02,93.16 512.37,92.87 511.78,92.59 511.27,92.30 510.85,92.01 510.52,91.73 510.31,91.44 510.21,91.15 510.22,90.87 510.36,90.58 510.60,90.29 510.95,90.01 511.40,89.72 511.93,89.43 512.54,89.15 513.20,88.86 513.90,88.57 514.63,88.29 515.36,88.00 516.09,87.71 516.81,87.43 517.49,87.14 518.13,86.85 518.72,86.57 519.26,86.28 519.74,85.99 520.15,85.71 520.48,85.42 520.75,85.13 520.93,84.85 521.04,84.56 521.06,84.28 520.99,83.99 520.83,83.70 520.57,83.42 520.21,83.13 519.75,82.84 519.17,82.56 518.48,82.27 517.68,81.98 516.77,81.70 515.76,81.41 514.66,81.12 513.49,80.84 512.25,80.55 510.98,80.26 509.71,79.98 508.46,79.69 507.26,79.40 506.15,79.12 505.16,78.83 504.32,78.54 503.66,78.26 503.20,77.97 502.94,77.68 502.91,77.40 503.11,77.11 503.51,76.82 504.12,76.54 504.92,76.25 505.87,75.96 506.95,75.68 508.13,75.39 509.37,75.10 510.64,74.82 511.91,74.53 513.16,74.24 514.36,73.96 515.48,73.67 516.52,73.38 517.46,73.10 518.30,72.81 519.03,72.52 519.64,72.24 520.15,71.95 520.56,71.66 520.87,71.38 521.08,71.09 521.20,70.80 521.24,70.52 521.20,70.23 521.09,69.94 520.90,69.66 520.65,69.37 520.33,69.08 519.96,68.80 519.53,68.51 519.05,68.22 518.53,67.94 517.97,67.65 517.38,67.36 516.77,67.08 516.16,66.79 515.55,66.50 514.96,66.22 514.40,65.93 513.88,65.64 513.42,65.36 513.02,65.07 512.71,64.78 512.48,64.50 512.34,64.21 512.30,63.92 512.36,63.64 512.51,63.35 512.76,63.06 513.09,62.78 513.49,62.49 513.96,62.20 514.49,61.92 515.06,61.63 515.65,61.34 516.26,61.06 516.87,60.77 517.48,60.48 518.06,60.20 518.62,59.91 519.14,59.62 519.62,59.34 520.06,59.05 520.45,58.76 520.79,58.48 521.08,58.19 521.33,57.90 521.53,57.62 521.69,57.33 521.81,57.04 521.89,56.76 521.93,56.47 521.95,56.18 521.94,55.90 521.90,55.61 521.84,55.32 521.75,55.04 521.65,54.75 521.54,54.46 521.41,54.18 521.28,53.89 521.13,53.61 520.98,53.32 520.83,53.03 520.68,52.75 520.53,52.46 520.38,52.17 520.25,51.89 520.12,51.60 520.01,51.31 519.91,51.03 519.83,50.74 519.77,50.45 519.72,50.17 519.70,49.88 519.70,49.59 519.72,49.31 519.76,49.02 519.82,48.73 519.90,48.45 520.00,48.16 520.11,47.87 520.24,47.59 520.37,47.30 520.52,47.01 520.67,46.73 520.83,46.44 520.98,46.15 521.14,45.87 521.30,45.58 521.45,45.29 521.59,45.01 521.73,44.72 521.86,44.43 521.99,44.15 522.10,43.86 522.20,43.57 522.30,43.29 522.38,43.00 522.46,42.71 522.53,42.43 522.58,42.14 522.64,41.85 522.68,41.57 522.72,41.28 522.75,40.99 522.78,40.71 522.80,40.42 522.82,40.13 522.84,39.85 522.85,39.56" fill="#17b8c1" stroke="#1a1a1a" stroke-width="0.9" stroke-linejoin="round"/>
<line x1="522.90" y1="111.38" x2="522.90" y2="50.40" stroke="#111" stroke-width="0.7"/>
<rect x="517.75" y="63.95" width="10.30" height="27.10" fill="#fff" stroke="#111" stroke-width="0.7"/>
<line x1="517.75" y1="77.50" x2="528.05" y2="77.50" stroke="#111" stroke-width="0.9"/>
<line x1="522.90" y1="119.20" x2="522.90" y2="121.20" stroke="#222" stroke-width="0.7"/>
<text x="522.90" y="129.80" font-size="9.3" text-anchor="middle">High</text>
<text x="315.60" y="154.50" font-size="9.2" textLength="40.20" lengthAdjust="spacingAndGlyphs">HLA-DRA</text>
<rect x="361.20" y="148.40" width="6.40" height="6.10" fill="#f3736a" stroke="#333" stroke-width="0.5"/>
<text x="368.80" y="153.00" font-size="3.6" fill="#444">Low</text>
<rect x="379.20" y="148.40" width="6.40" height="6.10" fill="#17b8c1" stroke="#333" stroke-width="0.5"/>
<text x="386.80" y="153.00" font-size="3.6" fill="#444">High</text>
<text x="290.60" y="148.40" font-size="16">D</text>
<line x1="310.40" y1="161.00" x2="310.40" y2="245.40" stroke="#333" stroke-width="0.9"/>
<line x1="310.40" y1="245.40" x2="417.00" y2="245.40" stroke="#333" stroke-width="0.9"/>
<line x1="308.60" y1="174.50" x2="310.40" y2="174.50" stroke="#222" stroke-width="0.7"/>
<text x="308.30" y="176.20" font-size="5" text-anchor="end" fill="#111">10</text>
<line x1="308.60" y1="188.90" x2="310.40" y2="188.90" stroke="#222" stroke-width="0.7"/>
<text x="308.30" y="190.60" font-size="5" text-anchor="end" fill="#111">9</text>
<line x1="308.60" y1="203.30" x2="310.40" y2="203.30" stroke="#222" stroke-width="0.7"/>
<text x="308.30" y="205.00" font-size="5" text-anchor="end" fill="#111">8</text>
<line x1="308.60" y1="217.70" x2="310.40" y2="217.70" stroke="#222" stroke-width="0.7"/>
<text x="308.30" y="219.40" font-size="5" text-anchor="end" fill="#111">7</text>
<line x1="308.60" y1="232.10" x2="310.40" y2="232.10" stroke="#222" stroke-width="0.7"/>
<text x="308.30" y="233.80" font-size="5" text-anchor="end" fill="#111">6</text>
<text x="298.80" y="205.00" font-size="8.8" text-anchor="middle" textLength="72.00" lengthAdjust="spacingAndGlyphs" transform="rotate(-90 298.80 205.00)">CTLA4-pos-PD1-neg</text>
<line x1="341.30" y1="171.10" x2="392.20" y2="171.10" stroke="#8a8a8a" stroke-width="0.6"/>
<text x="361.20" y="170.00" font-size="4.6" textLength="10.80" lengthAdjust="spacingAndGlyphs" fill="#333">0.006</text>
<polygon points="341.30,165.14 341.32,165.43 341.35,165.73 341.37,166.02 341.40,166.31 341.42,166.61 341.45,166.90 341.47,167.19 341.50,167.49 341.52,167.78 341.54,168.08 341.57,168.37 341.59,168.66 341.60,168.96 341.60,169.25 341.60,169.54 341.60,169.84 341.60,170.13 341.60,170.42 341.60,170.72 341.65,171.01 341.74,171.30 341.83,171.60 341.93,171.89 342.03,172.18 342.14,172.48 342.25,172.77 342.35,173.07 342.43,173.36 342.51,173.65 342.56,173.95 342.60,174.24 342.61,174.53 342.60,174.83 342.57,175.12 342.51,175.41 342.44,175.71 342.36,176.00 342.27,176.29 342.18,176.59 342.10,176.88 342.01,177.18 341.94,177.47 341.89,177.76 341.85,178.06 341.83,178.35 341.83,178.64 341.85,178.94 341.89,179.23 341.95,179.52 342.04,179.82 342.15,180.11 342.29,180.40 342.44,180.70 342.63,180.99 342.84,181.28 343.07,181.58 343.33,181.87 343.62,182.17 343.94,182.46 344.28,182.75 344.65,183.05 345.04,183.34 345.45,183.63 345.89,183.93 346.34,184.22 346.80,184.51 347.28,184.81 347.75,185.10 348.23,185.39 348.69,185.69 349.15,185.98 349.58,186.27 349.99,186.57 350.36,186.86 350.70,187.16 351.00,187.45 351.25,187.74 351.45,188.04 351.59,188.33 351.67,188.62 351.70,188.92 351.67,189.21 351.58,189.50 351.43,189.80 351.23,190.09 350.98,190.38 350.68,190.68 350.34,190.97 349.96,191.26 349.56,191.56 349.13,191.85 348.69,192.15 348.24,192.44 347.80,192.73 347.35,193.03 346.93,193.32 346.53,193.61 346.15,193.91 345.82,194.20 345.53,194.49 345.29,194.79 345.12,195.08 345.01,195.37 344.99,195.67 345.04,195.96 345.19,196.26 345.43,196.55 345.78,196.84 346.24,197.14 346.82,197.43 347.51,197.72 348.31,198.02 349.23,198.31 350.26,198.60 351.39,198.90 352.61,199.19 353.90,199.48 355.25,199.78 356.64,200.07 358.04,200.36 359.42,200.66 360.76,200.95 362.03,201.25 363.20,201.54 364.25,201.83 365.14,202.13 365.86,202.42 366.39,202.71 366.71,203.01 366.82,203.30 366.71,203.59 366.39,203.89 365.86,204.18 365.14,204.47 364.25,204.77 363.20,205.06 362.03,205.35 360.76,205.65 359.41,205.94 358.03,206.24 356.63,206.53 355.24,206.82 353.89,207.12 352.59,207.41 351.37,207.70 350.24,208.00 349.21,208.29 348.29,208.58 347.48,208.88 346.78,209.17 346.20,209.46 345.73,209.76 345.38,210.05 345.12,210.34 344.96,210.64 344.90,210.93 344.91,211.23 345.01,211.52 345.17,211.81 345.39,212.11 345.66,212.40 345.98,212.69 346.33,212.99 346.72,213.28 347.13,213.57 347.55,213.87 347.98,214.16 348.41,214.45 348.83,214.75 349.24,215.04 349.63,215.34 349.99,215.63 350.32,215.92 350.60,216.22 350.85,216.51 351.04,216.80 351.18,217.10 351.27,217.39 351.30,217.68 351.28,217.98 351.19,218.27 351.06,218.56 350.87,218.86 350.63,219.15 350.34,219.44 350.02,219.74 349.65,220.03 349.26,220.33 348.84,220.62 348.41,220.91 347.96,221.21 347.50,221.50 347.05,221.79 346.59,222.09 346.15,222.38 345.71,222.67 345.29,222.97 344.90,223.26 344.52,223.55 344.16,223.85 343.84,224.14 343.53,224.43 343.25,224.73 343.00,225.02 342.77,225.32 342.56,225.61 342.38,225.90 342.22,226.20 342.08,226.49 341.96,226.78 341.86,227.08 341.77,227.37 341.70,227.66 341.65,227.96 341.62,228.25 341.60,228.54 341.60,228.84 341.62,229.13 341.65,229.42 341.69,229.72 341.75,230.01 341.82,230.31 341.89,230.60 341.96,230.89 342.02,231.19 342.07,231.48 342.10,231.77 342.11,232.07 342.10,232.36 342.07,232.65 342.01,232.95 341.95,233.24 341.87,233.53 341.79,233.83 341.70,234.12 341.63,234.42 341.60,234.71 341.60,235.00 341.60,235.30 341.60,235.59 341.60,235.88 341.60,236.18 341.60,236.47 341.60,236.76 341.60,237.06 341.60,237.35 341.60,237.64 341.59,237.94 341.57,238.23 341.54,238.52 341.52,238.82 341.50,239.11 341.47,239.41 341.45,239.70 341.42,239.99 341.40,240.29 341.37,240.58 341.35,240.87 341.32,241.17 341.30,241.46 341.30,241.46 341.28,241.17 341.25,240.87 341.23,240.58 341.20,240.29 341.18,239.99 341.15,239.70 341.13,239.41 341.10,239.11 341.08,238.82 341.06,238.52 341.03,238.23 341.01,237.94 341.00,237.64 341.00,237.35 341.00,237.06 341.00,236.76 341.00,236.47 341.00,236.18 341.00,235.88 341.00,235.59 341.00,235.30 341.00,235.00 341.00,234.71 340.97,234.42 340.90,234.12 340.81,233.83 340.73,233.53 340.65,233.24 340.59,232.95 340.53,232.65 340.50,232.36 340.49,232.07 340.50,231.77 340.53,231.48 340.58,231.19 340.64,230.89 340.71,230.60 340.78,230.31 340.85,230.01 340.91,229.72 340.95,229.42 340.98,229.13 341.00,228.84 341.00,228.54 340.98,228.25 340.95,227.96 340.90,227.66 340.83,227.37 340.74,227.08 340.64,226.78 340.52,226.49 340.38,226.20 340.22,225.90 340.04,225.61 339.83,225.32 339.60,225.02 339.35,224.73 339.07,224.43 338.76,224.14 338.44,223.85 338.08,223.55 337.70,223.26 337.31,222.97 336.89,222.67 336.45,222.38 336.01,222.09 335.55,221.79 335.10,221.50 334.64,221.21 334.19,220.91 333.76,220.62 333.34,220.33 332.95,220.03 332.58,219.74 332.26,219.44 331.97,219.15 331.73,218.86 331.54,218.56 331.41,218.27 331.32,217.98 331.30,217.68 331.33,217.39 331.42,217.10 331.56,216.80 331.75,216.51 332.00,216.22 332.28,215.92 332.61,215.63 332.97,215.34 333.36,215.04 333.77,214.75 334.19,214.45 334.62,214.16 335.05,213.87 335.47,213.57 335.88,213.28 336.27,212.99 336.62,212.69 336.94,212.40 337.21,212.11 337.43,211.81 337.59,211.52 337.69,211.23 337.70,210.93 337.64,210.64 337.48,210.34 337.22,210.05 336.87,209.76 336.40,209.46 335.82,209.17 335.12,208.88 334.31,208.58 333.39,208.29 332.36,208.00 331.23,207.70 330.01,207.41 328.71,207.12 327.36,206.82 325.97,206.53 324.57,206.24 323.19,205.94 321.84,205.65 320.57,205.35 319.40,205.06 318.35,204.77 317.46,204.47 316.74,204.18 316.21,203.89 315.89,203.59 315.78,203.30 315.89,203.01 316.21,202.71 316.74,202.42 317.46,202.13 318.35,201.83 319.40,201.54 320.57,201.25 321.84,200.95 323.18,200.66 324.56,200.36 325.96,200.07 327.35,199.78 328.70,199.48 329.99,199.19 331.21,198.90 332.34,198.60 333.37,198.31 334.29,198.02 335.09,197.72 335.78,197.43 336.36,197.14 336.82,196.84 337.17,196.55 337.41,196.26 337.56,195.96 337.61,195.67 337.59,195.37 337.48,195.08 337.31,194.79 337.07,194.49 336.78,194.20 336.45,193.91 336.07,193.61 335.67,193.32 335.25,193.03 334.80,192.73 334.36,192.44 333.91,192.15 333.47,191.85 333.04,191.56 332.64,191.26 332.26,190.97 331.92,190.68 331.62,190.38 331.37,190.09 331.17,189.80 331.02,189.50 330.93,189.21 330.90,188.92 330.93,188.62 331.01,188.33 331.15,188.04 331.35,187.74 331.60,187.45 331.90,187.16 332.24,186.86 332.61,186.57 333.02,186.27 333.45,185.98 333.91,185.69 334.37,185.39 334.85,185.10 335.32,184.81 335.80,184.51 336.26,184.22 336.71,183.93 337.15,183.63 337.56,183.34 337.95,183.05 338.32,182.75 338.66,182.46 338.98,182.17 339.27,181.87 339.53,181.58 339.76,181.28 339.97,180.99 340.16,180.70 340.31,180.40 340.45,180.11 340.56,179.82 340.65,179.52 340.71,179.23 340.75,178.94 340.77,178.64 340.77,178.35 340.75,178.06 340.71,177.76 340.66,177.47 340.59,177.18 340.50,176.88 340.42,176.59 340.33,176.29 340.24,176.00 340.16,175.71 340.09,175.41 340.03,175.12 340.00,174.83 339.99,174.53 340.00,174.24 340.04,173.95 340.09,173.65 340.17,173.36 340.25,173.07 340.35,172.77 340.46,172.48 340.57,172.18 340.67,171.89 340.77,171.60 340.86,171.30 340.95,171.01 341.00,170.72 341.00,170.42 341.00,170.13 341.00,169.84 341.00,169.54 341.00,169.25 341.00,168.96 341.01,168.66 341.03,168.37 341.06,168.08 341.08,167.78 341.10,167.49 341.13,167.19 341.15,166.90 341.18,166.61 341.20,166.31 341.23,166.02 341.25,165.73 341.28,165.43 341.30,165.14" fill="#f3736a" stroke="#1a1a1a" stroke-width="0.9" stroke-linejoin="round"/>
<line x1="335.90" y1="203.30" x2="346.70" y2="203.30" stroke="#000" stroke-width="1.6"/>
<circle cx="341.30" cy="174.50" r="0.8" fill="#000"/>
<circle cx="341.30" cy="188.90" r="0.8" fill="#000"/>
<circle cx="341.30" cy="217.70" r="0.8" fill="#000"/>
<circle cx="341.30" cy="232.10" r="0.8" fill="#000"/>
<line x1="341.30" y1="245.40" x2="341.30" y2="247.40" stroke="#222" stroke-width="0.7"/>
<text x="341.30" y="256.40" font-size="9.3" text-anchor="middle">Low</text>
<polygon points="392.20,164.42 392.22,164.72 392.25,165.01 392.27,165.31 392.30,165.61 392.32,165.90 392.35,166.20 392.37,166.49 392.40,166.79 392.42,167.09 392.45,167.38 392.47,167.68 392.50,167.98 392.50,168.27 392.50,168.57 392.50,168.86 392.50,169.16 392.50,169.46 392.51,169.75 392.58,170.05 392.67,170.35 392.78,170.64 392.89,170.94 393.02,171.24 393.16,171.53 393.30,171.83 393.45,172.12 393.59,172.42 393.73,172.72 393.86,173.01 393.98,173.31 394.07,173.61 394.14,173.90 394.19,174.20 394.20,174.49 394.19,174.79 394.15,175.09 394.08,175.38 393.99,175.68 393.88,175.98 393.76,176.27 393.62,176.57 393.49,176.86 393.35,177.16 393.22,177.46 393.10,177.75 393.00,178.05 392.91,178.35 392.85,178.64 392.81,178.94 392.79,179.24 392.80,179.53 392.83,179.83 392.90,180.12 393.00,180.42 393.13,180.72 393.29,181.01 393.50,181.31 393.74,181.61 394.02,181.90 394.35,182.20 394.72,182.49 395.14,182.79 395.61,183.09 396.12,183.38 396.68,183.68 397.28,183.98 397.91,184.27 398.58,184.57 399.28,184.87 400.00,185.16 400.73,185.46 401.45,185.75 402.17,186.05 402.86,186.35 403.51,186.64 404.12,186.94 404.67,187.24 405.15,187.53 405.54,187.83 405.85,188.12 406.07,188.42 406.18,188.72 406.19,189.01 406.10,189.31 405.91,189.61 405.63,189.90 405.25,190.20 404.79,190.50 404.26,190.79 403.67,191.09 403.03,191.38 402.36,191.68 401.66,191.98 400.95,192.27 400.24,192.57 399.55,192.87 398.89,193.16 398.26,193.46 397.67,193.75 397.14,194.05 396.68,194.35 396.28,194.64 395.97,194.94 395.73,195.24 395.59,195.53 395.54,195.83 395.59,196.12 395.75,196.42 396.01,196.72 396.39,197.01 396.88,197.31 397.48,197.61 398.20,197.90 399.03,198.20 399.97,198.50 401.01,198.79 402.13,199.09 403.33,199.38 404.60,199.68 405.90,199.98 407.21,200.27 408.53,200.57 409.80,200.87 411.02,201.16 412.15,201.46 413.17,201.75 414.05,202.05 414.76,202.35 415.31,202.64 415.65,202.94 415.80,203.24 415.74,203.53 415.48,203.83 415.02,204.13 414.38,204.42 413.56,204.72 412.60,205.01 411.52,205.31 410.33,205.61 409.07,205.90 407.77,206.20 406.45,206.50 405.13,206.79 403.85,207.09 402.61,207.38 401.43,207.68 400.34,207.98 399.33,208.27 398.43,208.57 397.62,208.87 396.92,209.16 396.33,209.46 395.83,209.76 395.44,210.05 395.14,210.35 394.93,210.64 394.81,210.94 394.76,211.24 394.78,211.53 394.87,211.83 395.01,212.13 395.20,212.42 395.44,212.72 395.72,213.01 396.02,213.31 396.35,213.61 396.70,213.90 397.06,214.20 397.43,214.50 397.79,214.79 398.14,215.09 398.48,215.38 398.79,215.68 399.08,215.98 399.32,216.27 399.53,216.57 399.70,216.87 399.82,217.16 399.88,217.46 399.90,217.76 399.86,218.05 399.78,218.35 399.64,218.64 399.46,218.94 399.23,219.24 398.96,219.53 398.66,219.83 398.34,220.13 397.99,220.42 397.62,220.72 397.24,221.01 396.86,221.31 396.47,221.61 396.09,221.90 395.73,222.20 395.37,222.50 395.03,222.79 394.71,223.09 394.41,223.39 394.14,223.68 393.88,223.98 393.65,224.27 393.45,224.57 393.26,224.87 393.10,225.16 392.96,225.46 392.83,225.76 392.72,226.05 392.63,226.35 392.56,226.64 392.50,226.94 392.50,227.24 392.50,227.53 392.50,227.83 392.50,228.13 392.50,228.42 392.50,228.72 392.50,229.02 392.50,229.31 392.52,229.61 392.58,229.90 392.66,230.20 392.73,230.50 392.81,230.79 392.88,231.09 392.94,231.39 392.98,231.68 393.00,231.98 393.00,232.27 392.97,232.57 392.93,232.87 392.86,233.16 392.79,233.46 392.71,233.76 392.62,234.05 392.54,234.35 392.50,234.64 392.50,234.94 392.50,235.24 392.50,235.53 392.50,235.83 392.50,236.13 392.50,236.42 392.50,236.72 392.50,237.02 392.50,237.31 392.50,237.61 392.50,237.90 392.47,238.20 392.45,238.50 392.42,238.79 392.40,239.09 392.37,239.39 392.35,239.68 392.32,239.98 392.30,240.27 392.27,240.57 392.25,240.87 392.22,241.16 392.20,241.46 392.20,241.46 392.18,241.16 392.15,240.87 392.13,240.57 392.10,240.27 392.08,239.98 392.05,239.68 392.03,239.39 392.00,239.09 391.98,238.79 391.95,238.50 391.93,238.20 391.90,237.90 391.90,237.61 391.90,237.31 391.90,237.02 391.90,236.72 391.90,236.42 391.90,236.13 391.90,235.83 391.90,235.53 391.90,235.24 391.90,234.94 391.90,234.64 391.86,234.35 391.78,234.05 391.69,233.76 391.61,233.46 391.54,233.16 391.47,232.87 391.43,232.57 391.40,232.27 391.40,231.98 391.42,231.68 391.46,231.39 391.52,231.09 391.59,230.79 391.67,230.50 391.74,230.20 391.82,229.90 391.88,229.61 391.90,229.31 391.90,229.02 391.90,228.72 391.90,228.42 391.90,228.13 391.90,227.83 391.90,227.53 391.90,227.24 391.90,226.94 391.84,226.64 391.77,226.35 391.68,226.05 391.57,225.76 391.44,225.46 391.30,225.16 391.14,224.87 390.95,224.57 390.75,224.27 390.52,223.98 390.26,223.68 389.99,223.39 389.69,223.09 389.37,222.79 389.03,222.50 388.67,222.20 388.31,221.90 387.93,221.61 387.54,221.31 387.16,221.01 386.78,220.72 386.41,220.42 386.06,220.13 385.74,219.83 385.44,219.53 385.17,219.24 384.94,218.94 384.76,218.64 384.62,218.35 384.54,218.05 384.50,217.76 384.52,217.46 384.58,217.16 384.70,216.87 384.87,216.57 385.08,216.27 385.32,215.98 385.61,215.68 385.92,215.38 386.26,215.09 386.61,214.79 386.97,214.50 387.34,214.20 387.70,213.90 388.05,213.61 388.38,213.31 388.68,213.01 388.96,212.72 389.20,212.42 389.39,212.13 389.53,211.83 389.62,211.53 389.64,211.24 389.59,210.94 389.47,210.64 389.26,210.35 388.96,210.05 388.57,209.76 388.07,209.46 387.48,209.16 386.78,208.87 385.97,208.57 385.07,208.27 384.06,207.98 382.97,207.68 381.79,207.38 380.55,207.09 379.27,206.79 377.95,206.50 376.63,206.20 375.33,205.90 374.07,205.61 372.88,205.31 371.80,205.01 370.84,204.72 370.02,204.42 369.38,204.13 368.92,203.83 368.66,203.53 368.60,203.24 368.75,202.94 369.09,202.64 369.64,202.35 370.35,202.05 371.23,201.75 372.25,201.46 373.38,201.16 374.60,200.87 375.87,200.57 377.19,200.27 378.50,199.98 379.80,199.68 381.07,199.38 382.27,199.09 383.39,198.79 384.43,198.50 385.37,198.20 386.20,197.90 386.92,197.61 387.52,197.31 388.01,197.01 388.39,196.72 388.65,196.42 388.81,196.12 388.86,195.83 388.81,195.53 388.67,195.24 388.43,194.94 388.12,194.64 387.72,194.35 387.26,194.05 386.73,193.75 386.14,193.46 385.51,193.16 384.85,192.87 384.16,192.57 383.45,192.27 382.74,191.98 382.04,191.68 381.37,191.38 380.73,191.09 380.14,190.79 379.61,190.50 379.15,190.20 378.77,189.90 378.49,189.61 378.30,189.31 378.21,189.01 378.22,188.72 378.33,188.42 378.55,188.12 378.86,187.83 379.25,187.53 379.73,187.24 380.28,186.94 380.89,186.64 381.54,186.35 382.23,186.05 382.95,185.75 383.67,185.46 384.40,185.16 385.12,184.87 385.82,184.57 386.49,184.27 387.12,183.98 387.72,183.68 388.28,183.38 388.79,183.09 389.26,182.79 389.68,182.49 390.05,182.20 390.38,181.90 390.66,181.61 390.90,181.31 391.11,181.01 391.27,180.72 391.40,180.42 391.50,180.12 391.57,179.83 391.60,179.53 391.61,179.24 391.59,178.94 391.55,178.64 391.49,178.35 391.40,178.05 391.30,177.75 391.18,177.46 391.05,177.16 390.91,176.86 390.78,176.57 390.64,176.27 390.52,175.98 390.41,175.68 390.32,175.38 390.25,175.09 390.21,174.79 390.20,174.49 390.21,174.20 390.26,173.90 390.33,173.61 390.42,173.31 390.54,173.01 390.67,172.72 390.81,172.42 390.95,172.12 391.10,171.83 391.24,171.53 391.38,171.24 391.51,170.94 391.62,170.64 391.73,170.35 391.82,170.05 391.89,169.75 391.90,169.46 391.90,169.16 391.90,168.86 391.90,168.57 391.90,168.27 391.90,167.98 391.93,167.68 391.95,167.38 391.98,167.09 392.00,166.79 392.03,166.49 392.05,166.20 392.08,165.90 392.10,165.61 392.13,165.31 392.15,165.01 392.18,164.72 392.20,164.42" fill="#17b8c1" stroke="#1a1a1a" stroke-width="0.9" stroke-linejoin="round"/>
<line x1="392.20" y1="232.10" x2="392.20" y2="174.50" stroke="#111" stroke-width="0.7"/>
<rect x="387.40" y="188.90" width="9.60" height="14.40" fill="#fff" stroke="#111" stroke-width="0.7"/>
<line x1="387.40" y1="203.30" x2="397.00" y2="203.30" stroke="#111" stroke-width="0.9"/>
<line x1="392.20" y1="245.40" x2="392.20" y2="247.40" stroke="#222" stroke-width="0.7"/>
<text x="392.20" y="256.40" font-size="9.3" text-anchor="middle">High</text>
<text x="449.80" y="154.40" font-size="9.2" textLength="40.20" lengthAdjust="spacingAndGlyphs">HLA-DRA</text>
<rect x="493.30" y="148.30" width="6.40" height="6.10" fill="#f3736a" stroke="#333" stroke-width="0.5"/>
<text x="500.90" y="152.90" font-size="3.6" fill="#444">Low</text>
<rect x="511.30" y="148.30" width="6.40" height="6.10" fill="#17b8c1" stroke="#333" stroke-width="0.5"/>
<text x="518.90" y="152.90" font-size="3.6" fill="#444">High</text>
<text x="428.80" y="147.40" font-size="16">E</text>
<line x1="441.20" y1="161.00" x2="441.20" y2="246.40" stroke="#6a6a6a" stroke-width="0.9"/>
<line x1="441.20" y1="246.40" x2="545.00" y2="246.40" stroke="#6a6a6a" stroke-width="0.9"/>
<line x1="439.40" y1="173.60" x2="441.20" y2="173.60" stroke="#222" stroke-width="0.7"/>
<text x="439.10" y="175.30" font-size="5" text-anchor="end" fill="#111">10</text>
<line x1="439.40" y1="198.00" x2="441.20" y2="198.00" stroke="#222" stroke-width="0.7"/>
<text x="439.10" y="199.70" font-size="5" text-anchor="end" fill="#111">8</text>
<line x1="439.40" y1="222.40" x2="441.20" y2="222.40" stroke="#222" stroke-width="0.7"/>
<text x="439.10" y="224.10" font-size="5" text-anchor="end" fill="#111">6</text>
<text x="432.00" y="204.80" font-size="8.8" text-anchor="middle" textLength="72.00" lengthAdjust="spacingAndGlyphs" transform="rotate(-90 432.00 204.80)">CTLA4-pos-PD1-pos</text>
<line x1="472.30" y1="169.80" x2="525.00" y2="169.80" stroke="#8a8a8a" stroke-width="0.6"/>
<text x="491.00" y="168.70" font-size="4.6" textLength="18.00" lengthAdjust="spacingAndGlyphs" fill="#333">2.22*10<tspan font-size="3" dy="-1.2">-5</tspan></text>
<polygon points="472.30,165.06 472.33,165.35 472.36,165.65 472.39,165.94 472.42,166.23 472.44,166.53 472.47,166.82 472.50,167.11 472.53,167.41 472.56,167.70 472.59,167.99 472.60,168.29 472.60,168.58 472.60,168.87 472.60,169.17 472.60,169.46 472.60,169.75 472.60,170.05 472.60,170.34 472.60,170.63 472.60,170.93 472.60,171.22 472.60,171.51 472.60,171.81 472.60,172.10 472.60,172.39 472.60,172.69 472.60,172.98 472.60,173.27 472.60,173.56 472.60,173.86 472.60,174.15 472.60,174.44 472.60,174.74 472.60,175.03 472.60,175.32 472.60,175.62 472.60,175.91 472.60,176.20 472.60,176.50 472.60,176.79 472.60,177.08 472.60,177.38 472.60,177.67 472.60,177.96 472.65,178.26 472.71,178.55 472.79,178.84 472.87,179.14 472.96,179.43 473.06,179.72 473.16,180.02 473.27,180.31 473.39,180.60 473.50,180.90 473.62,181.19 473.73,181.48 473.84,181.78 473.95,182.07 474.04,182.36 474.12,182.66 474.19,182.95 474.24,183.24 474.28,183.54 474.30,183.83 474.30,184.12 474.28,184.42 474.24,184.71 474.19,185.00 474.12,185.30 474.04,185.59 473.95,185.88 473.84,186.18 473.74,186.47 473.63,186.76 473.51,187.06 473.40,187.35 473.30,187.64 473.20,187.94 473.11,188.23 473.03,188.52 472.96,188.81 472.91,189.11 472.88,189.40 472.86,189.69 472.87,189.99 472.90,190.28 472.96,190.57 473.04,190.87 473.15,191.16 473.30,191.45 473.48,191.75 473.69,192.04 473.95,192.33 474.24,192.63 474.58,192.92 474.95,193.21 475.36,193.51 475.80,193.80 476.27,194.09 476.77,194.39 477.28,194.68 477.80,194.97 478.33,195.27 478.84,195.56 479.33,195.85 479.78,196.15 480.20,196.44 480.56,196.73 480.85,197.03 481.08,197.32 481.23,197.61 481.30,197.91 481.28,198.20 481.18,198.49 481.01,198.79 480.75,199.08 480.43,199.37 480.06,199.67 479.63,199.96 479.16,200.25 478.66,200.55 478.15,200.84 477.64,201.13 477.13,201.43 476.64,201.72 476.18,202.01 475.76,202.31 475.39,202.60 475.08,202.89 474.84,203.19 474.68,203.48 474.61,203.77 474.65,204.06 474.80,204.36 475.09,204.65 475.53,204.94 476.13,205.24 476.89,205.53 477.84,205.82 478.97,206.12 480.29,206.41 481.77,206.70 483.40,207.00 485.16,207.29 487.00,207.58 488.87,207.88 490.73,208.17 492.51,208.46 494.15,208.76 495.58,209.05 496.76,209.34 497.62,209.64 498.15,209.93 498.30,210.22 498.08,210.52 497.50,210.81 496.58,211.10 495.36,211.40 493.88,211.69 492.21,211.98 490.41,212.28 488.54,212.57 486.66,212.86 484.82,213.16 483.06,213.45 481.43,213.74 479.96,214.04 478.65,214.33 477.53,214.62 476.58,214.92 475.82,215.21 475.23,215.50 474.80,215.80 474.53,216.09 474.40,216.38 474.41,216.68 474.53,216.97 474.77,217.26 475.13,217.56 475.58,217.85 476.12,218.14 476.75,218.44 477.46,218.73 478.22,219.02 479.04,219.31 479.88,219.61 480.74,219.90 481.58,220.19 482.39,220.49 483.14,220.78 483.81,221.07 484.37,221.37 484.82,221.66 485.12,221.95 485.28,222.25 485.28,222.54 485.13,222.83 484.83,223.13 484.39,223.42 483.83,223.71 483.17,224.01 482.42,224.30 481.61,224.59 480.76,224.89 479.90,225.18 479.05,225.47 478.22,225.77 477.43,226.06 476.69,226.35 476.02,226.65 475.41,226.94 474.87,227.23 474.40,227.53 473.99,227.82 473.65,228.11 473.37,228.41 473.13,228.70 472.95,228.99 472.80,229.29 472.69,229.58 472.61,229.87 472.60,230.17 472.60,230.46 472.60,230.75 472.60,231.05 472.60,231.34 472.66,231.63 472.74,231.93 472.83,232.22 472.94,232.51 473.05,232.81 473.16,233.10 473.27,233.39 473.36,233.69 473.43,233.98 473.48,234.27 473.50,234.56 473.49,234.86 473.45,235.15 473.38,235.44 473.29,235.74 473.18,236.03 473.07,236.32 472.95,236.62 472.84,236.91 472.74,237.20 472.64,237.50 472.60,237.79 472.60,238.08 472.59,238.38 472.56,238.67 472.53,238.96 472.50,239.26 472.47,239.55 472.44,239.84 472.42,240.14 472.39,240.43 472.36,240.72 472.33,241.02 472.30,241.31 472.30,241.31 472.27,241.02 472.24,240.72 472.21,240.43 472.18,240.14 472.16,239.84 472.13,239.55 472.10,239.26 472.07,238.96 472.04,238.67 472.01,238.38 472.00,238.08 472.00,237.79 471.96,237.50 471.86,237.20 471.76,236.91 471.65,236.62 471.53,236.32 471.42,236.03 471.31,235.74 471.22,235.44 471.15,235.15 471.11,234.86 471.10,234.56 471.12,234.27 471.17,233.98 471.24,233.69 471.33,233.39 471.44,233.10 471.55,232.81 471.66,232.51 471.77,232.22 471.86,231.93 471.94,231.63 472.00,231.34 472.00,231.05 472.00,230.75 472.00,230.46 472.00,230.17 471.99,229.87 471.91,229.58 471.80,229.29 471.65,228.99 471.47,228.70 471.23,228.41 470.95,228.11 470.61,227.82 470.20,227.53 469.73,227.23 469.19,226.94 468.58,226.65 467.91,226.35 467.17,226.06 466.38,225.77 465.55,225.47 464.70,225.18 463.84,224.89 462.99,224.59 462.18,224.30 461.43,224.01 460.77,223.71 460.21,223.42 459.77,223.13 459.47,222.83 459.32,222.54 459.32,222.25 459.48,221.95 459.78,221.66 460.23,221.37 460.79,221.07 461.46,220.78 462.21,220.49 463.02,220.19 463.86,219.90 464.72,219.61 465.56,219.31 466.38,219.02 467.14,218.73 467.85,218.44 468.48,218.14 469.02,217.85 469.47,217.56 469.83,217.26 470.07,216.97 470.19,216.68 470.20,216.38 470.07,216.09 469.80,215.80 469.37,215.50 468.78,215.21 468.02,214.92 467.07,214.62 465.95,214.33 464.64,214.04 463.17,213.74 461.54,213.45 459.78,213.16 457.94,212.86 456.06,212.57 454.19,212.28 452.39,211.98 450.72,211.69 449.24,211.40 448.02,211.10 447.10,210.81 446.52,210.52 446.30,210.22 446.45,209.93 446.98,209.64 447.84,209.34 449.02,209.05 450.45,208.76 452.09,208.46 453.87,208.17 455.73,207.88 457.60,207.58 459.44,207.29 461.20,207.00 462.83,206.70 464.31,206.41 465.63,206.12 466.76,205.82 467.71,205.53 468.47,205.24 469.07,204.94 469.51,204.65 469.80,204.36 469.95,204.06 469.99,203.77 469.92,203.48 469.76,203.19 469.52,202.89 469.21,202.60 468.84,202.31 468.42,202.01 467.96,201.72 467.47,201.43 466.96,201.13 466.45,200.84 465.94,200.55 465.44,200.25 464.97,199.96 464.54,199.67 464.17,199.37 463.85,199.08 463.59,198.79 463.42,198.49 463.32,198.20 463.30,197.91 463.37,197.61 463.52,197.32 463.75,197.03 464.04,196.73 464.40,196.44 464.82,196.15 465.27,195.85 465.76,195.56 466.27,195.27 466.80,194.97 467.32,194.68 467.83,194.39 468.33,194.09 468.80,193.80 469.24,193.51 469.65,193.21 470.02,192.92 470.36,192.63 470.65,192.33 470.91,192.04 471.12,191.75 471.30,191.45 471.45,191.16 471.56,190.87 471.64,190.57 471.70,190.28 471.73,189.99 471.74,189.69 471.72,189.40 471.69,189.11 471.64,188.81 471.57,188.52 471.49,188.23 471.40,187.94 471.30,187.64 471.20,187.35 471.09,187.06 470.97,186.76 470.86,186.47 470.76,186.18 470.65,185.88 470.56,185.59 470.48,185.30 470.41,185.00 470.36,184.71 470.32,184.42 470.30,184.12 470.30,183.83 470.32,183.54 470.36,183.24 470.41,182.95 470.48,182.66 470.56,182.36 470.65,182.07 470.76,181.78 470.87,181.48 470.98,181.19 471.10,180.90 471.21,180.60 471.33,180.31 471.44,180.02 471.54,179.72 471.64,179.43 471.73,179.14 471.81,178.84 471.89,178.55 471.95,178.26 472.00,177.96 472.00,177.67 472.00,177.38 472.00,177.08 472.00,176.79 472.00,176.50 472.00,176.20 472.00,175.91 472.00,175.62 472.00,175.32 472.00,175.03 472.00,174.74 472.00,174.44 472.00,174.15 472.00,173.86 472.00,173.56 472.00,173.27 472.00,172.98 472.00,172.69 472.00,172.39 472.00,172.10 472.00,171.81 472.00,171.51 472.00,171.22 472.00,170.93 472.00,170.63 472.00,170.34 472.00,170.05 472.00,169.75 472.00,169.46 472.00,169.17 472.00,168.87 472.00,168.58 472.00,168.29 472.01,167.99 472.04,167.70 472.07,167.41 472.10,167.11 472.13,166.82 472.16,166.53 472.18,166.23 472.21,165.94 472.24,165.65 472.27,165.35 472.30,165.06" fill="#f3736a" stroke="#1a1a1a" stroke-width="0.9" stroke-linejoin="round"/>
<line x1="472.30" y1="234.60" x2="472.30" y2="198.00" stroke="#111" stroke-width="0.7"/>
<rect x="467.50" y="210.20" width="9.60" height="12.20" fill="#fff" stroke="#111" stroke-width="0.7"/>
<line x1="467.50" y1="210.20" x2="477.10" y2="210.20" stroke="#111" stroke-width="0.9"/>
<line x1="472.30" y1="246.40" x2="472.30" y2="248.40" stroke="#222" stroke-width="0.7"/>
<text x="472.30" y="256.60" font-size="9.3" text-anchor="middle">Low</text>
<polygon points="525.07,165.06 525.09,165.35 525.12,165.65 525.15,165.94 525.20,166.23 525.25,166.53 525.31,166.82 525.38,167.11 525.46,167.41 525.55,167.70 525.65,167.99 525.75,168.29 525.86,168.58 525.97,168.87 526.07,169.17 526.18,169.46 526.27,169.75 526.35,170.05 526.42,170.34 526.47,170.63 526.49,170.93 526.50,171.22 526.48,171.51 526.45,171.81 526.39,172.10 526.32,172.39 526.23,172.69 526.14,172.98 526.03,173.27 525.93,173.56 525.82,173.86 525.71,174.15 525.62,174.44 525.52,174.74 525.44,175.03 525.38,175.32 525.32,175.62 525.30,175.91 525.30,176.20 525.30,176.50 525.30,176.79 525.30,177.08 525.30,177.38 525.31,177.67 525.37,177.96 525.46,178.26 525.57,178.55 525.70,178.84 525.86,179.14 526.06,179.43 526.28,179.72 526.54,180.02 526.84,180.31 527.18,180.60 527.55,180.90 527.97,181.19 528.42,181.48 528.90,181.78 529.40,182.07 529.93,182.36 530.47,182.66 531.01,182.95 531.54,183.24 532.06,183.54 532.55,183.83 532.99,184.12 533.39,184.42 533.72,184.71 533.99,185.00 534.17,185.30 534.28,185.59 534.30,185.88 534.23,186.18 534.08,186.47 533.85,186.76 533.55,187.06 533.18,187.35 532.76,187.64 532.29,187.94 531.80,188.23 531.28,188.52 530.75,188.81 530.23,189.11 529.73,189.40 529.25,189.69 528.82,189.99 528.43,190.28 528.09,190.57 527.83,190.87 527.63,191.16 527.52,191.45 527.50,191.75 527.57,192.04 527.74,192.33 528.01,192.63 528.40,192.92 528.89,193.21 529.50,193.51 530.21,193.80 531.02,194.09 531.93,194.39 532.91,194.68 533.94,194.97 535.02,195.27 536.10,195.56 537.17,195.85 538.19,196.15 539.13,196.44 539.95,196.73 540.65,197.03 541.18,197.32 541.53,197.61 541.69,197.91 541.66,198.20 541.42,198.49 541.00,198.79 540.41,199.08 539.66,199.37 538.78,199.67 537.81,199.96 536.76,200.25 535.68,200.55 534.59,200.84 533.51,201.13 532.48,201.43 531.52,201.72 530.64,202.01 529.85,202.31 529.17,202.60 528.61,202.89 528.18,203.19 527.86,203.48 527.68,203.77 527.62,204.06 527.69,204.36 527.90,204.65 528.23,204.94 528.70,205.24 529.29,205.53 530.00,205.82 530.83,206.12 531.77,206.41 532.79,206.70 533.89,207.00 535.05,207.29 536.22,207.58 537.40,207.88 538.54,208.17 539.61,208.46 540.58,208.76 541.43,209.05 542.11,209.34 542.61,209.64 542.91,209.93 543.00,210.22 542.88,210.52 542.54,210.81 542.01,211.10 541.30,211.40 540.44,211.69 539.44,211.98 538.36,212.28 537.21,212.57 536.03,212.86 534.85,213.16 533.70,213.45 532.60,213.74 531.57,214.04 530.62,214.33 529.78,214.62 529.04,214.92 528.40,215.21 527.87,215.50 527.44,215.80 527.11,216.09 526.87,216.38 526.72,216.68 526.64,216.97 526.64,217.26 526.69,217.56 526.80,217.85 526.96,218.14 527.16,218.44 527.39,218.73 527.65,219.02 527.93,219.31 528.21,219.61 528.50,219.90 528.78,220.19 529.05,220.49 529.30,220.78 529.52,221.07 529.70,221.37 529.85,221.66 529.94,221.95 529.99,222.25 529.99,222.54 529.95,222.83 529.85,223.13 529.71,223.42 529.52,223.71 529.30,224.01 529.05,224.30 528.78,224.59 528.49,224.89 528.19,225.18 527.88,225.47 527.58,225.77 527.29,226.06 527.01,226.35 526.75,226.65 526.50,226.94 526.28,227.23 526.08,227.53 525.90,227.82 525.75,228.11 525.61,228.41 525.49,228.70 525.40,228.99 525.32,229.29 525.30,229.58 525.30,229.87 525.30,230.17 525.30,230.46 525.30,230.75 525.30,231.05 525.30,231.34 525.30,231.63 525.30,231.93 525.30,232.22 525.30,232.51 525.39,232.81 525.48,233.10 525.57,233.39 525.66,233.69 525.73,233.98 525.78,234.27 525.80,234.56 525.79,234.86 525.75,235.15 525.68,235.44 525.59,235.74 525.50,236.03 525.40,236.32 525.31,236.62 525.30,236.91 525.30,237.20 525.30,237.50 525.30,237.79 525.30,238.08 525.29,238.38 525.26,238.67 525.23,238.96 525.20,239.26 525.17,239.55 525.14,239.84 525.12,240.14 525.09,240.43 525.06,240.72 525.03,241.02 525.00,241.31 525.00,241.31 524.97,241.02 524.94,240.72 524.91,240.43 524.88,240.14 524.86,239.84 524.83,239.55 524.80,239.26 524.77,238.96 524.74,238.67 524.71,238.38 524.70,238.08 524.70,237.79 524.70,237.50 524.70,237.20 524.70,236.91 524.69,236.62 524.60,236.32 524.50,236.03 524.41,235.74 524.32,235.44 524.25,235.15 524.21,234.86 524.20,234.56 524.22,234.27 524.27,233.98 524.34,233.69 524.43,233.39 524.52,233.10 524.61,232.81 524.70,232.51 524.70,232.22 524.70,231.93 524.70,231.63 524.70,231.34 524.70,231.05 524.70,230.75 524.70,230.46 524.70,230.17 524.70,229.87 524.70,229.58 524.68,229.29 524.60,228.99 524.51,228.70 524.39,228.41 524.25,228.11 524.10,227.82 523.92,227.53 523.72,227.23 523.50,226.94 523.25,226.65 522.99,226.35 522.71,226.06 522.42,225.77 522.12,225.47 521.81,225.18 521.51,224.89 521.22,224.59 520.95,224.30 520.70,224.01 520.48,223.71 520.29,223.42 520.15,223.13 520.05,222.83 520.01,222.54 520.01,222.25 520.06,221.95 520.15,221.66 520.30,221.37 520.48,221.07 520.70,220.78 520.95,220.49 521.22,220.19 521.50,219.90 521.79,219.61 522.07,219.31 522.35,219.02 522.61,218.73 522.84,218.44 523.04,218.14 523.20,217.85 523.31,217.56 523.36,217.26 523.36,216.97 523.28,216.68 523.13,216.38 522.89,216.09 522.56,215.80 522.13,215.50 521.60,215.21 520.96,214.92 520.22,214.62 519.38,214.33 518.43,214.04 517.40,213.74 516.30,213.45 515.15,213.16 513.97,212.86 512.79,212.57 511.64,212.28 510.56,211.98 509.56,211.69 508.70,211.40 507.99,211.10 507.46,210.81 507.12,210.52 507.00,210.22 507.09,209.93 507.39,209.64 507.89,209.34 508.57,209.05 509.42,208.76 510.39,208.46 511.46,208.17 512.60,207.88 513.78,207.58 514.95,207.29 516.11,207.00 517.21,206.70 518.23,206.41 519.17,206.12 520.00,205.82 520.71,205.53 521.30,205.24 521.77,204.94 522.10,204.65 522.31,204.36 522.38,204.06 522.32,203.77 522.14,203.48 521.82,203.19 521.39,202.89 520.83,202.60 520.15,202.31 519.36,202.01 518.48,201.72 517.52,201.43 516.49,201.13 515.41,200.84 514.32,200.55 513.24,200.25 512.19,199.96 511.22,199.67 510.34,199.37 509.59,199.08 509.00,198.79 508.58,198.49 508.34,198.20 508.31,197.91 508.47,197.61 508.82,197.32 509.35,197.03 510.05,196.73 510.87,196.44 511.81,196.15 512.83,195.85 513.90,195.56 514.98,195.27 516.06,194.97 517.09,194.68 518.07,194.39 518.98,194.09 519.79,193.80 520.50,193.51 521.11,193.21 521.60,192.92 521.99,192.63 522.26,192.33 522.43,192.04 522.50,191.75 522.48,191.45 522.37,191.16 522.17,190.87 521.91,190.57 521.57,190.28 521.18,189.99 520.75,189.69 520.27,189.40 519.77,189.11 519.25,188.81 518.72,188.52 518.20,188.23 517.71,187.94 517.24,187.64 516.82,187.35 516.45,187.06 516.15,186.76 515.92,186.47 515.77,186.18 515.70,185.88 515.72,185.59 515.83,185.30 516.01,185.00 516.28,184.71 516.61,184.42 517.01,184.12 517.45,183.83 517.94,183.54 518.46,183.24 518.99,182.95 519.53,182.66 520.07,182.36 520.60,182.07 521.10,181.78 521.58,181.48 522.03,181.19 522.45,180.90 522.82,180.60 523.16,180.31 523.46,180.02 523.72,179.72 523.94,179.43 524.14,179.14 524.30,178.84 524.43,178.55 524.54,178.26 524.63,177.96 524.69,177.67 524.70,177.38 524.70,177.08 524.70,176.79 524.70,176.50 524.70,176.20 524.70,175.91 524.68,175.62 524.62,175.32 524.56,175.03 524.48,174.74 524.38,174.44 524.29,174.15 524.18,173.86 524.07,173.56 523.97,173.27 523.86,172.98 523.77,172.69 523.68,172.39 523.61,172.10 523.55,171.81 523.52,171.51 523.50,171.22 523.51,170.93 523.53,170.63 523.58,170.34 523.65,170.05 523.73,169.75 523.82,169.46 523.93,169.17 524.03,168.87 524.14,168.58 524.25,168.29 524.35,167.99 524.45,167.70 524.54,167.41 524.62,167.11 524.69,166.82 524.75,166.53 524.80,166.23 524.85,165.94 524.88,165.65 524.91,165.35 524.93,165.06" fill="#17b8c1" stroke="#1a1a1a" stroke-width="0.9" stroke-linejoin="round"/>
<line x1="525.00" y1="234.60" x2="525.00" y2="173.60" stroke="#111" stroke-width="0.7"/>
<rect x="520.20" y="198.00" width="9.60" height="12.20" fill="#fff" stroke="#111" stroke-width="0.7"/>
<line x1="520.20" y1="198.00" x2="529.80" y2="198.00" stroke="#111" stroke-width="0.9"/>
<line x1="525.00" y1="246.40" x2="525.00" y2="248.40" stroke="#222" stroke-width="0.7"/>
<text x="525.00" y="256.60" font-size="9.3" text-anchor="middle">High</text>
<text x="7.00" y="287.30" font-size="16">F</text>
<text x="85.60" y="285.00" font-size="10.4" font-weight="bold" textLength="38.40" lengthAdjust="spacingAndGlyphs">Negative</text>
<text x="223.60" y="284.70" font-size="10.4" font-weight="bold" textLength="24.00" lengthAdjust="spacingAndGlyphs">Week</text>
<text x="91.00" y="410.20" font-size="10.4" font-weight="bold" textLength="41.50" lengthAdjust="spacingAndGlyphs">Moderate</text>
<text x="222.40" y="410.40" font-size="10.4" font-weight="bold" textLength="30.00" lengthAdjust="spacingAndGlyphs">Strong</text>
<text x="36.40" y="346.00" font-size="10.9" font-weight="bold" text-anchor="middle" textLength="50.50" lengthAdjust="spacingAndGlyphs" transform="rotate(-90 36.40 346.00)">HLA-DRA</text>
<text x="36.40" y="464.30" font-size="10.9" font-weight="bold" text-anchor="middle" textLength="51.00" lengthAdjust="spacingAndGlyphs" transform="rotate(-90 36.40 464.30)">HLA-DRA</text>
<rect x="47.00" y="297.00" width="114.00" height="93.80" fill="#d9d7cc"/>
<rect x="176.20" y="297.00" width="114.80" height="93.80" fill="#d7c6ab"/>
<rect x="49.10" y="419.20" width="114.40" height="94.90" fill="#d5b58e"/>
<rect x="178.20" y="419.20" width="113.80" height="94.70" fill="#b98c5d"/>
<defs>
<clipPath id="ci0"><rect x="47" y="297" width="114" height="93.8"/></clipPath>
<clipPath id="ci1"><rect x="176.2" y="297" width="114.8" height="93.8"/></clipPath>
<clipPath id="ci2"><rect x="49.1" y="419.2" width="114.4" height="94.9"/></clipPath>
<clipPath id="ci3"><rect x="178.2" y="419.2" width="113.8" height="94.7"/></clipPath>
<filter id="t0" x="0" y="0" width="100%" height="100%" color-interpolation-filters="sRGB"><feTurbulence type="fractalNoise" baseFrequency="0.45" numOctaves="2" seed="3"/><feColorMatrix type="matrix" values="1.6 0 0 0 -0.30000000000000004  1.6 0 0 0 -0.30000000000000004  1.6 0 0 0 -0.30000000000000004  0 0 0 0 1"/><feComponentTransfer><feFuncR type="table" tableValues="0.725 0.824 0.878 0.910 0.933"/><feFuncG type="table" tableValues="0.722 0.812 0.863 0.898 0.922"/><feFuncB type="table" tableValues="0.745 0.769 0.792 0.831 0.871"/><feFuncA type="table" tableValues="1 1"/></feComponentTransfer></filter>
<filter id="t1" x="0" y="0" width="100%" height="100%" color-interpolation-filters="sRGB"><feTurbulence type="fractalNoise" baseFrequency="0.5" numOctaves="2" seed="5"/><feColorMatrix type="matrix" values="1.6 0 0 0 -0.30000000000000004  1.6 0 0 0 -0.30000000000000004  1.6 0 0 0 -0.30000000000000004  0 0 0 0 1"/><feComponentTransfer><feFuncR type="table" tableValues="0.761 0.812 0.851 0.878 0.906"/><feFuncG type="table" tableValues="0.612 0.718 0.820 0.859 0.894"/><feFuncB type="table" tableValues="0.471 0.604 0.753 0.808 0.855"/><feFuncA type="table" tableValues="1 1"/></feComponentTransfer></filter>
<filter id="t2" x="0" y="0" width="100%" height="100%" color-interpolation-filters="sRGB"><feTurbulence type="fractalNoise" baseFrequency="0.22 0.85" numOctaves="2" seed="9"/><feColorMatrix type="matrix" values="1.7 0 0 0 -0.35  1.7 0 0 0 -0.35  1.7 0 0 0 -0.35  0 0 0 0 1"/><feComponentTransfer><feFuncR type="table" tableValues="0.769 0.812 0.847 0.878 0.910"/><feFuncG type="table" tableValues="0.620 0.682 0.737 0.800 0.878"/><feFuncB type="table" tableValues="0.471 0.549 0.612 0.698 0.824"/><feFuncA type="table" tableValues="1 1"/></feComponentTransfer></filter>
<filter id="t3" x="0" y="0" width="100%" height="100%" color-interpolation-filters="sRGB"><feTurbulence type="fractalNoise" baseFrequency="0.3" numOctaves="2" seed="11"/><feColorMatrix type="matrix" values="1.6 0 0 0 -0.30000000000000004  1.6 0 0 0 -0.30000000000000004  1.6 0 0 0 -0.30000000000000004  0 0 0 0 1"/><feComponentTransfer><feFuncR type="table" tableValues="0.541 0.635 0.690 0.753 0.816"/><feFuncG type="table" tableValues="0.314 0.408 0.478 0.580 0.706"/><feFuncB type="table" tableValues="0.141 0.227 0.282 0.408 0.557"/><feFuncA type="table" tableValues="1 1"/></feComponentTransfer></filter>
</defs>
<rect x="47" y="297" width="114" height="93.8" fill="#e4e1d0" filter="url(#t0)"/>
<g clip-path="url(#ci0)">
<path d="M122.4 307.3h0M147.6 356.9h0M89.4 301.8h0M110.5 386.8h0M151.5 326.9h0M100.3 322.6h0M111.3 361.3h0M64.2 307.4h0M142.6 358.7h0M65.6 324.7h0M157.3 367.5h0M95.2 380.8h0M114.4 345.6h0M71.1 322.1h0M137.5 337.2h0M140.4 388.5h0M130.3 323.7h0M75.5 360.9h0M80.5 337.9h0M117.3 312.8h0M79.9 319.8h0M55.3 328.9h0M140.2 380.3h0M93.1 382.3h0M148.8 385.2h0M119.2 332.6h0M134.6 318.4h0M156.4 314.3h0M57.0 324.8h0M151.7 363.0h0M103.2 388.8h0M156.3 300.8h0M59.1 306.0h0M108.2 327.3h0M133.9 303.7h0M94.8 305.0h0M74.2 344.1h0M70.4 346.8h0M141.6 333.2h0M114.5 373.1h0M128.9 383.1h0M126.8 321.5h0M129.5 321.2h0M71.3 300.0h0M112.6 353.9h0M53.5 305.4h0M144.6 384.2h0M147.4 326.1h0M58.5 331.0h0M143.4 387.1h0M106.8 303.9h0M138.0 297.9h0M117.0 356.5h0M132.7 374.1h0M110.0 309.4h0M71.1 297.8h0M108.7 317.4h0M149.0 305.6h0M124.9 306.5h0M50.4 299.4h0M131.9 308.2h0M84.9 316.0h0M69.0 334.7h0M93.1 355.9h0M156.6 385.5h0M156.3 310.5h0M127.2 337.5h0M89.1 323.2h0M62.2 304.4h0M49.5 297.7h0M66.9 310.5h0M139.2 359.1h0M124.4 370.1h0M134.6 311.9h0M148.3 385.4h0M67.2 380.3h0M145.2 357.6h0M90.3 326.8h0M124.3 389.2h0M112.0 302.0h0M84.2 312.1h0M99.3 359.8h0M132.9 369.6h0M159.3 315.9h0M55.5 339.5h0M138.1 335.6h0M81.9 387.5h0M72.5 328.2h0M82.9 334.6h0M123.2 380.7h0M132.0 384.4h0M97.2 389.6h0M124.8 365.1h0M132.8 324.3h0M155.0 371.6h0M153.5 338.9h0M109.9 331.7h0M129.5 363.5h0M118.0 324.2h0M125.0 334.9h0M59.3 375.1h0M144.5 346.9h0M146.7 343.6h0M96.2 332.6h0M157.8 366.9h0M147.8 372.5h0M81.5 336.2h0M123.0 342.6h0M119.6 314.2h0M53.9 330.8h0M154.5 329.9h0M131.2 388.8h0M120.1 335.4h0M78.7 311.6h0M108.9 336.2h0M126.5 304.1h0M116.2 336.8h0M126.8 314.3h0M118.7 304.8h0M148.7 305.9h0M70.7 301.2h0M96.5 390.7h0M130.9 309.0h0M50.5 320.1h0M135.7 319.9h0M137.8 313.1h0M126.8 303.7h0M113.9 351.1h0M91.4 354.6h0M60.8 359.3h0M131.2 325.7h0M88.6 305.7h0M77.4 383.5h0M68.9 306.3h0M123.6 313.2h0M129.2 302.4h0M126.9 314.5h0M126.7 351.6h0M84.6 372.9h0M144.6 371.4h0M99.9 382.3h0M136.1 345.7h0M130.0 378.9h0M141.9 356.4h0M108.2 312.2h0M111.4 321.0h0M118.4 353.3h0M132.1 372.3h0M127.6 321.5h0M77.5 347.5h0M120.1 388.4h0M156.2 373.4h0M114.1 309.6h0M124.5 352.4h0M77.4 347.4h0M119.9 344.5h0M50.6 335.6h0M111.3 388.8h0M123.3 365.1h0M121.8 328.1h0M134.4 327.7h0M154.1 315.9h0M150.8 353.3h0M154.5 310.2h0M48.3 337.6h0M111.4 366.3h0M140.5 303.3h0M106.9 335.5h0M117.8 336.8h0M112.6 334.9h0M129.7 340.9h0M138.9 352.7h0M137.6 374.0h0M73.4 332.2h0M51.1 314.9h0M130.1 338.1h0M87.9 359.9h0M73.5 371.1h0M97.6 385.5h0M148.6 372.8h0M91.9 346.6h0M74.3 308.9h0M135.1 320.9h0M129.5 325.4h0M155.7 326.0h0M75.8 313.7h0M77.1 309.1h0M136.8 309.9h0M101.2 384.8h0M92.8 305.8h0M138.7 360.6h0M102.8 320.4h0M61.5 306.3h0M97.8 305.2h0M152.6 322.0h0M139.0 345.7h0M140.3 355.0h0M80.4 359.3h0M143.5 342.6h0M86.0 299.9h0M117.5 315.7h0M116.9 376.8h0M80.4 331.6h0M79.4 324.3h0M133.3 344.9h0M91.2 345.8h0M67.7 374.2h0M152.6 327.9h0M126.6 307.5h0M159.9 315.9h0M129.6 385.6h0M140.6 307.4h0M97.5 300.7h0M111.7 299.8h0M64.3 330.9h0M78.1 301.9h0M85.2 389.5h0M100.1 307.5h0M96.1 313.2h0M112.1 300.5h0M160.5 298.5h0M116.2 374.9h0M58.9 311.9h0M144.0 301.6h0M73.0 307.0h0M96.0 338.3h0M99.0 315.7h0M54.4 389.7h0M143.2 387.8h0M128.6 300.9h0M136.1 356.5h0M135.8 332.8h0M127.4 362.3h0M123.2 348.1h0M87.6 364.5h0M144.1 304.3h0M100.9 304.4h0M92.7 308.1h0M117.4 390.2h0M136.5 359.3h0M58.0 358.9h0M139.8 305.7h0M90.0 364.1h0M126.6 313.7h0M103.8 343.0h0M159.3 353.1h0M149.9 345.1h0M99.4 373.0h0M69.0 306.4h0M148.3 308.1h0M136.0 355.6h0M48.6 325.7h0M118.8 374.8h0M55.6 310.4h0M140.3 340.6h0M67.7 301.3h0M77.3 377.6h0M80.7 323.2h0M92.1 328.7h0M100.9 305.5h0M100.3 362.6h0M95.7 323.1h0M134.0 350.5h0M137.9 315.1h0M117.1 360.5h0M127.2 318.0h0M101.7 369.0h0M145.0 304.5h0M159.8 346.9h0M74.8 356.6h0M158.2 341.1h0M111.6 368.7h0M131.0 313.0h0M159.6 314.8h0M71.6 314.7h0M59.1 355.1h0M119.4 353.5h0M127.9 339.9h0M61.9 360.6h0M101.8 373.8h0M153.0 348.4h0M54.9 362.7h0M94.1 315.3h0M134.6 350.3h0M148.7 341.3h0M101.8 331.8h0M126.1 335.8h0M114.2 338.7h0M146.8 312.4h0M74.4 339.5h0M80.9 311.4h0M131.7 367.4h0M79.0 319.5h0M158.5 338.0h0M117.3 301.7h0M102.2 316.6h0M53.3 325.6h0M112.9 374.4h0M98.8 338.4h0M91.9 340.0h0M65.8 365.1h0M117.6 319.3h0M114.6 354.7h0M161.0 362.9h0M78.0 364.4h0M56.9 340.5h0M61.1 308.2h0M157.3 356.1h0M82.1 390.2h0M71.7 303.1h0M113.6 316.9h0M117.0 352.0h0M128.7 325.2h0M144.2 355.8h0M87.3 314.1h0M147.8 302.3h0M111.7 355.4h0M100.3 364.3h0M50.8 301.1h0M125.6 355.8h0M128.7 313.3h0M151.2 349.5h0M103.1 341.4h0M102.0 378.5h0M120.4 355.6h0M80.3 328.3h0M119.3 312.8h0M159.3 380.8h0M129.7 359.9h0M109.0 315.5h0M147.2 321.5h0M149.8 359.5h0M134.0 309.0h0M115.4 315.6h0M151.3 339.4h0M153.7 382.2h0M54.4 353.7h0M76.0 319.6h0M142.8 343.7h0M158.1 338.8h0M110.6 366.9h0M155.4 304.4h0M61.5 305.4h0M47.9 374.3h0M131.3 366.6h0M119.5 313.2h0M125.1 372.9h0M141.0 306.5h0M73.9 365.4h0M86.3 338.8h0M144.0 374.4h0M116.9 379.6h0M83.9 325.9h0M53.5 386.3h0M107.0 308.2h0M118.1 368.6h0M126.1 362.1h0M111.3 369.2h0M157.1 356.6h0M91.2 389.8h0M51.5 323.1h0M83.6 298.2h0M94.8 312.2h0M79.4 345.5h0M133.8 350.6h0M126.3 308.7h0M55.2 367.6h0" stroke="#7a80ae" stroke-width="1.7" stroke-linecap="round" stroke-opacity="0.75" fill="none"/>
<path d="M90.8 367.0h0M160.6 310.3h0M87.4 387.0h0M88.0 322.1h0M150.6 351.2h0M130.1 326.1h0M130.4 387.0h0M151.9 373.1h0M55.6 305.0h0M102.5 333.8h0M83.3 314.7h0M113.0 384.2h0M134.2 339.2h0M126.7 299.6h0M108.5 314.6h0M47.8 367.4h0M85.1 347.5h0M69.8 331.3h0M64.6 349.5h0M135.7 337.1h0M68.8 297.7h0M83.6 387.4h0M135.2 371.4h0M83.0 300.3h0M71.3 316.5h0M154.1 342.4h0M144.8 343.2h0M100.8 315.6h0M76.6 326.2h0M134.5 307.1h0M139.1 307.7h0M59.5 366.7h0M82.2 357.4h0M134.3 378.7h0M51.4 311.5h0M90.4 302.3h0M141.7 358.7h0M69.7 308.4h0M110.8 386.0h0M112.1 383.6h0M47.9 332.9h0M98.0 305.4h0M105.0 297.7h0M51.6 330.2h0M152.2 300.0h0M79.4 351.4h0M121.0 355.6h0M119.1 363.2h0M89.2 343.3h0M138.4 336.3h0M86.1 310.2h0M93.4 360.3h0M76.4 331.2h0M115.8 379.6h0M152.1 326.5h0M158.4 382.7h0M53.3 361.7h0M103.1 297.0h0M103.1 362.1h0M140.1 315.1h0M145.6 317.2h0M154.5 319.7h0M72.4 369.6h0M51.4 321.9h0M61.0 345.4h0M130.6 327.4h0M112.5 329.0h0M96.6 344.8h0M133.7 337.3h0M63.3 305.5h0M132.9 345.1h0M128.0 320.2h0M77.9 308.3h0M53.4 333.3h0M95.2 313.9h0M70.8 305.7h0M90.8 373.0h0M85.6 359.1h0M110.0 322.8h0M134.5 334.3h0M70.1 341.6h0M96.6 379.3h0M87.6 370.4h0M148.9 356.2h0M101.1 342.4h0M113.3 334.2h0M48.2 340.7h0M114.5 371.3h0M158.1 347.7h0M148.7 303.4h0M158.0 298.8h0M81.5 335.9h0M74.9 319.3h0M117.9 298.5h0M130.2 305.2h0M90.5 328.9h0M72.2 312.2h0M92.2 342.1h0M51.0 381.8h0M59.6 349.9h0M115.4 355.8h0M157.6 369.1h0M72.6 346.5h0M86.2 298.8h0M157.1 316.6h0M148.7 386.7h0M92.2 313.6h0M143.1 304.7h0M104.3 365.4h0M142.5 313.5h0M118.7 345.7h0M117.5 383.3h0M96.5 323.0h0M83.1 388.1h0M131.7 324.2h0M155.6 315.0h0M55.5 347.7h0M85.7 376.9h0M150.6 369.0h0M121.1 356.9h0M150.9 383.8h0M91.3 317.5h0M47.2 364.9h0M74.5 366.5h0M128.2 373.2h0M100.8 365.1h0M97.6 348.3h0M142.6 340.4h0M93.8 334.6h0M123.5 305.4h0M154.5 320.7h0M146.6 359.1h0M155.2 313.5h0M125.5 297.7h0M110.7 342.2h0M107.3 369.7h0M108.0 332.7h0M103.3 354.0h0M141.5 371.1h0M56.5 372.9h0M143.2 316.5h0M81.7 329.9h0M159.9 359.6h0M68.6 297.8h0M141.9 299.1h0M129.9 352.9h0M74.3 310.2h0M94.7 351.7h0M87.5 347.6h0M137.0 324.0h0M155.3 376.5h0M68.6 368.1h0M77.3 390.2h0M78.6 327.0h0M59.8 304.8h0M95.3 303.8h0M138.6 338.9h0M113.8 327.7h0M72.8 326.7h0M138.3 385.8h0M47.9 343.4h0M157.6 332.0h0M160.6 306.5h0M94.6 368.4h0M52.2 305.3h0M100.2 327.0h0M116.5 357.4h0M75.1 379.5h0M63.9 390.3h0M133.6 387.7h0M101.8 347.3h0M90.3 307.4h0M131.7 368.5h0M141.8 341.1h0M153.7 316.6h0M57.5 308.0h0M116.4 376.7h0M67.6 318.3h0M132.8 360.3h0M123.2 302.7h0M143.3 329.0h0M61.7 306.9h0M131.7 338.3h0M160.4 339.2h0M89.3 366.4h0M68.4 362.1h0M111.5 336.4h0M147.5 387.3h0M130.5 335.3h0M75.2 302.9h0M121.1 318.1h0M81.5 384.0h0M76.8 311.1h0M148.0 374.1h0M153.1 354.4h0M142.0 349.3h0M122.7 357.7h0M89.7 311.8h0M97.3 309.5h0M113.8 355.5h0M53.4 341.7h0M52.2 302.3h0M74.1 329.4h0M57.2 315.6h0M66.3 314.5h0M47.7 377.4h0M73.1 373.6h0M142.8 298.2h0M139.4 347.6h0M126.3 345.5h0M148.4 382.2h0M127.6 345.2h0M91.6 377.4h0M112.6 301.2h0M70.4 336.4h0M156.1 328.8h0M74.7 381.7h0M85.1 363.8h0M157.0 354.9h0M112.2 373.4h0M78.5 347.1h0M130.0 304.8h0M71.6 390.4h0M59.9 368.8h0M69.5 329.9h0M94.4 337.0h0M133.5 387.7h0M128.2 360.1h0M153.1 344.2h0M73.0 354.5h0M143.2 336.9h0M108.2 305.0h0M151.9 306.5h0M144.9 338.8h0M94.3 325.1h0M69.6 335.2h0M88.7 340.1h0M87.8 370.1h0M54.8 375.5h0M130.0 335.0h0M104.5 386.7h0M117.2 340.1h0M128.2 373.5h0M114.8 367.7h0M119.2 318.9h0M87.5 356.0h0M109.6 351.3h0M122.4 387.8h0M67.5 341.9h0M156.1 324.0h0M139.7 360.1h0M111.2 325.7h0M92.6 304.8h0M130.8 301.9h0M129.2 341.8h0M83.3 343.7h0M112.9 388.8h0M53.2 325.6h0M142.9 318.6h0M91.5 388.2h0M102.2 318.0h0M61.7 297.1h0M122.7 303.5h0M156.9 377.1h0M48.5 302.8h0M106.5 304.3h0M87.6 299.5h0M70.9 319.4h0M97.5 310.9h0M149.6 346.6h0M143.6 305.4h0M62.1 334.2h0M155.3 381.8h0M100.1 337.1h0M159.3 333.3h0M87.9 376.4h0M125.6 315.5h0M126.6 371.0h0M112.8 347.6h0M116.5 308.2h0M151.7 330.5h0M147.5 301.8h0M96.8 348.0h0M149.8 390.7h0M93.1 315.3h0M101.5 320.4h0M155.8 333.9h0M51.6 348.3h0M155.6 335.0h0M106.2 374.7h0M118.7 334.4h0M82.4 318.3h0M125.1 332.8h0M117.7 378.5h0M150.5 360.2h0M129.4 349.7h0M136.0 302.4h0M156.4 314.9h0M74.3 318.4h0M112.5 344.2h0M56.0 362.5h0M139.8 297.6h0M160.0 325.1h0M47.8 336.9h0M103.5 331.4h0M96.2 372.2h0M135.4 303.8h0M133.3 363.8h0M128.6 302.2h0M137.3 308.3h0M86.3 357.3h0M95.2 374.1h0M143.2 362.5h0M64.5 334.3h0M76.2 356.8h0M137.3 382.3h0M115.9 375.5h0M90.2 330.2h0M157.0 381.9h0M161.0 304.3h0M111.0 390.4h0M72.7 362.3h0M62.9 359.1h0M96.9 368.3h0M141.6 297.3h0M89.9 353.0h0M101.9 312.9h0M84.3 320.5h0M48.7 310.8h0M47.8 354.3h0M77.6 311.2h0M70.8 311.2h0M94.4 357.4h0M92.4 386.3h0M112.5 311.8h0M137.7 332.0h0M114.5 375.5h0M154.3 347.0h0M158.2 357.3h0M118.4 337.8h0M143.8 344.8h0M138.0 381.8h0M84.6 307.6h0M91.5 329.3h0M121.3 345.8h0M74.4 369.4h0M105.0 335.8h0M135.8 300.7h0M123.5 373.0h0M138.8 307.5h0M160.8 379.0h0M110.9 389.1h0M138.3 377.8h0M111.7 377.7h0M99.8 305.8h0M62.0 389.7h0M86.0 303.9h0M160.5 363.3h0M127.1 347.1h0M50.4 331.3h0M69.1 330.6h0M55.2 333.3h0M94.0 342.2h0M152.6 351.1h0M100.2 387.4h0M87.5 300.8h0M155.4 378.5h0" stroke="#9196bf" stroke-width="1.4" stroke-linecap="round" stroke-opacity="0.7" fill="none"/>
<path d="M155.9 316.7h0M139.7 383.3h0M135.3 378.4h0M110.1 309.1h0M48.1 367.7h0M159.5 382.4h0M91.6 315.4h0M152.6 305.7h0M74.6 346.9h0M110.2 345.4h0M50.2 366.8h0M133.0 325.5h0M141.2 340.8h0M50.0 347.3h0M77.7 329.6h0M133.4 374.9h0M103.4 323.6h0M159.2 370.8h0M147.4 386.7h0M133.4 367.4h0M90.1 313.0h0M105.6 310.5h0M96.7 322.3h0M95.2 321.3h0M146.8 385.4h0M120.7 309.3h0M93.3 388.7h0M51.1 308.7h0M50.5 347.3h0M101.6 327.9h0M64.0 332.9h0M69.4 372.9h0M84.7 298.6h0M129.6 352.4h0M112.2 315.8h0M94.2 368.6h0M137.1 316.8h0M52.8 321.5h0M118.7 390.6h0M49.7 309.9h0M92.5 323.2h0M103.8 326.2h0M77.5 312.2h0M70.9 313.4h0M121.5 335.5h0M50.9 374.3h0M71.6 350.2h0M51.3 365.6h0M83.2 309.6h0M139.3 381.7h0M142.6 321.7h0M121.0 302.4h0M73.0 320.2h0M53.8 321.1h0M134.6 331.5h0M119.4 348.8h0M145.5 357.8h0M159.6 339.4h0M93.6 315.5h0M136.8 352.9h0M56.9 342.4h0M91.1 385.0h0M158.2 340.6h0M86.2 312.3h0M156.8 385.8h0M87.0 319.4h0M126.8 351.3h0M153.3 382.8h0M75.3 327.8h0M84.4 347.7h0M85.3 318.4h0M95.5 390.2h0M126.3 383.0h0M76.8 388.2h0M53.0 324.0h0M153.9 326.6h0M75.7 383.3h0M119.3 316.5h0M151.9 310.7h0M141.2 336.4h0M147.0 378.4h0M140.5 375.1h0M138.2 322.6h0M58.5 352.7h0M65.3 384.2h0M157.9 353.0h0M94.1 297.7h0M105.6 318.4h0M139.3 387.3h0M70.9 328.3h0M125.3 308.2h0M129.3 300.5h0M124.2 346.4h0M59.8 318.9h0M139.7 303.5h0M141.2 335.9h0M155.6 380.4h0M62.8 330.9h0M94.9 304.1h0M111.2 340.5h0M85.9 320.0h0M123.4 314.9h0M110.3 344.8h0M113.5 313.0h0M50.3 389.9h0M126.3 342.9h0M48.2 390.6h0M154.7 380.7h0M106.2 330.6h0M135.7 366.4h0M142.6 331.1h0M81.1 320.1h0M107.8 316.9h0M50.1 353.7h0M128.1 357.8h0M51.2 306.8h0M105.4 343.1h0M66.5 320.5h0M159.3 323.9h0M107.0 298.3h0M96.5 312.3h0M140.2 298.1h0M150.2 360.0h0M82.9 308.9h0M69.3 342.5h0M103.9 298.9h0M125.7 370.3h0M143.4 303.1h0M136.4 306.3h0M154.5 337.0h0M71.8 375.0h0M89.5 336.9h0M62.3 327.8h0M117.9 387.9h0M92.0 303.1h0M68.8 301.2h0M152.5 303.7h0M90.8 385.7h0M63.2 368.9h0M146.6 369.9h0M89.6 318.1h0M116.0 306.7h0M47.5 333.8h0M58.4 328.3h0M67.7 334.6h0M151.8 343.9h0M131.4 343.1h0M148.3 377.5h0M47.8 314.7h0M74.7 354.1h0M88.3 311.6h0M117.9 343.7h0M100.5 321.9h0M154.1 360.6h0M127.0 322.5h0M79.6 326.8h0M83.0 321.6h0M139.2 317.3h0M129.6 315.2h0M117.0 368.3h0M125.0 359.3h0M131.1 350.0h0M123.8 353.8h0M76.2 390.5h0M56.6 335.9h0M122.9 329.1h0M157.6 335.4h0M136.4 344.4h0M88.2 361.3h0M51.2 360.8h0M78.6 389.5h0M93.3 313.2h0M76.3 353.3h0M57.0 345.4h0M47.1 369.9h0M125.1 353.1h0M69.1 355.6h0M114.6 357.8h0M50.6 349.2h0M133.5 314.1h0M115.7 321.0h0M125.0 388.1h0M151.0 348.4h0M106.0 371.8h0M120.0 335.1h0M47.2 354.5h0M63.4 363.0h0M49.4 333.5h0M129.3 328.1h0M125.2 385.6h0M110.8 362.0h0M145.4 375.6h0M117.8 365.6h0M110.8 355.6h0M148.7 365.3h0M116.3 348.3h0M112.8 368.3h0M88.0 309.9h0M139.8 297.3h0M110.2 331.0h0M125.0 386.6h0M101.1 385.9h0M89.3 341.6h0M128.4 364.2h0M58.4 315.9h0M80.7 329.9h0M129.1 297.1h0M127.1 373.1h0M50.5 347.6h0M112.6 368.4h0M146.0 354.2h0M64.8 299.2h0M124.6 314.0h0M80.1 338.5h0M72.4 335.6h0M67.4 389.3h0M125.5 337.2h0M107.7 339.3h0M117.6 321.9h0M131.2 344.4h0M58.0 328.8h0M136.0 351.5h0M97.6 346.2h0M99.7 389.2h0M121.6 364.5h0M60.6 304.7h0M64.5 329.9h0M48.0 357.2h0M138.0 333.1h0M143.1 373.6h0M160.9 300.1h0M106.6 313.5h0M66.2 327.4h0M137.8 380.6h0M111.5 341.6h0M114.3 366.4h0M106.7 367.4h0M57.5 309.9h0M128.6 297.7h0M134.5 301.8h0M69.5 362.1h0M75.7 347.1h0M58.3 301.9h0M130.5 323.5h0M141.8 352.9h0M130.0 328.6h0M62.4 309.6h0M92.1 305.5h0M143.6 386.8h0M51.2 354.7h0M133.9 306.5h0M90.6 311.0h0M126.1 382.8h0M120.5 323.0h0M59.8 350.4h0M89.1 326.4h0M122.2 339.5h0M122.6 300.1h0M153.7 381.2h0M78.7 332.9h0M147.3 330.8h0M59.2 318.4h0M83.7 382.3h0M120.5 338.5h0M60.8 305.0h0M131.2 308.3h0M133.8 324.7h0M64.1 310.6h0M136.9 340.7h0M115.7 321.3h0M65.7 345.0h0M65.1 342.2h0M75.7 361.1h0M136.3 342.9h0M70.5 317.0h0M125.0 355.4h0M100.2 343.2h0M154.4 303.3h0M142.7 356.8h0M67.1 327.7h0M136.9 341.7h0M70.0 352.6h0M116.1 337.0h0M150.1 325.0h0M62.1 372.3h0M112.0 374.5h0M97.1 322.3h0M85.0 297.8h0M138.1 331.6h0M115.0 381.7h0M125.2 376.1h0M125.2 301.2h0M105.4 320.3h0M135.6 313.3h0M124.4 334.3h0M156.5 298.6h0M108.7 336.4h0M59.0 354.5h0M119.4 327.9h0M73.5 302.5h0M55.8 371.8h0M51.6 328.1h0M103.8 323.5h0M77.7 330.7h0M87.7 320.6h0M142.5 302.3h0M63.7 330.1h0M147.8 359.8h0M83.6 389.1h0M100.6 333.8h0M158.9 326.3h0M86.5 356.8h0M112.0 299.6h0M53.0 345.4h0M128.1 377.6h0M106.2 368.0h0M81.8 331.2h0M76.4 336.7h0M91.0 347.5h0M101.6 309.9h0M70.2 311.8h0M145.2 360.9h0M69.5 343.0h0M134.1 383.8h0M139.6 356.9h0M75.7 323.8h0M126.1 374.4h0M57.1 329.5h0M147.5 322.0h0M74.6 387.3h0M62.1 310.1h0M131.2 299.7h0M106.0 346.6h0M107.5 299.0h0M82.8 341.1h0M88.0 373.9h0M106.5 297.4h0M104.0 324.9h0M68.4 329.9h0M138.2 382.5h0M92.2 367.2h0M150.3 330.7h0M127.8 314.6h0M137.6 343.2h0M52.5 337.1h0M60.9 317.0h0M105.7 333.2h0M47.6 390.5h0M122.9 341.0h0M148.5 365.7h0M114.1 388.7h0M47.2 386.9h0M68.7 343.2h0M63.7 336.2h0M143.5 359.9h0M111.4 352.0h0M83.0 319.1h0M118.3 330.0h0M135.5 324.4h0M48.7 299.5h0M89.6 312.5h0M78.1 299.5h0M110.8 368.0h0M147.4 329.2h0M135.9 361.1h0M131.4 348.3h0" stroke="#6a70a4" stroke-width="1.2" stroke-linecap="round" stroke-opacity="0.7" fill="none"/>
<ellipse cx="108.3" cy="381.3" rx="1.6" ry="2.4" fill="#231a12"/>
<circle cx="88.6" cy="376.6" r="0.9" fill="#2a2018"/>
<path d="M53.7 386.8h0M62.5 386.8h0M51.0 385.5h0M60.5 386.0h0" stroke="#5a3418" stroke-width="2.2" stroke-linecap="round" stroke-opacity="0.8" fill="none"/>
</g>
<rect x="176.2" y="297" width="114.8" height="93.8" fill="#ddd6c6" filter="url(#t1)"/>
<g clip-path="url(#ci1)">
<path d="M230.6 387.5h0M274.5 320.6h0M244.5 356.5h0M226.3 325.6h0M230.4 352.2h0M220.6 371.8h0M196.0 373.2h0M187.6 365.2h0M204.9 316.4h0M261.8 367.9h0M206.1 379.8h0M217.0 376.8h0M214.4 360.1h0M263.5 337.7h0M206.1 343.8h0M204.8 310.1h0M235.1 318.2h0M179.5 313.2h0M248.9 389.3h0M190.0 314.3h0M238.1 363.1h0M180.7 361.7h0M274.5 315.5h0M226.4 341.3h0M205.7 326.4h0M254.4 343.5h0M187.7 354.7h0M202.3 378.8h0M197.5 368.7h0M251.0 307.0h0M181.5 366.1h0M207.9 348.0h0M197.9 388.8h0M262.5 368.0h0M184.4 325.4h0M241.4 330.1h0M260.4 305.7h0M281.2 341.3h0M198.8 383.1h0M199.9 318.4h0M219.6 378.8h0M177.5 336.6h0M243.1 363.6h0M258.0 326.2h0M244.5 319.6h0M255.9 351.0h0M191.2 352.7h0M179.6 335.7h0M201.5 322.4h0M231.3 353.2h0M199.5 345.4h0M179.6 353.0h0M246.0 305.5h0M206.9 357.8h0M194.7 323.1h0M266.3 317.4h0M267.2 326.8h0M264.8 339.7h0M236.2 374.2h0M181.5 339.7h0M263.1 364.5h0M277.2 341.2h0M286.4 337.2h0M227.6 314.2h0M183.2 354.7h0M261.2 360.9h0M262.6 358.7h0M252.3 302.0h0M257.5 381.2h0M252.7 347.1h0M191.2 310.7h0M234.1 303.9h0M246.9 298.5h0M245.9 332.5h0M195.9 327.6h0M186.5 356.9h0M287.0 299.0h0M256.5 310.7h0M272.1 358.4h0M202.3 371.9h0M203.0 314.8h0M275.7 382.8h0M199.3 316.6h0M239.6 299.1h0M263.1 332.2h0M187.2 369.9h0M211.8 322.4h0M262.6 363.0h0M221.3 308.2h0M247.0 372.9h0M191.0 370.9h0M196.1 368.6h0M207.0 356.3h0M217.1 336.7h0M183.6 383.9h0M213.3 375.1h0M226.9 363.9h0M219.9 365.9h0M198.0 383.9h0M229.4 343.2h0M274.5 300.7h0M214.6 347.3h0M180.2 336.0h0M289.3 341.1h0M240.6 336.5h0M240.1 365.6h0M202.5 365.2h0M288.5 369.2h0M202.3 336.3h0M177.3 355.7h0M203.8 314.1h0M277.1 318.5h0M178.6 359.2h0M290.0 355.1h0M262.7 386.5h0M178.2 354.3h0M268.1 328.9h0M244.9 347.1h0M259.4 335.3h0M264.2 321.4h0M180.0 327.6h0M179.2 312.5h0M184.0 377.6h0M224.8 354.8h0M205.6 305.1h0M182.4 383.1h0M203.7 359.5h0M283.2 388.0h0M204.2 302.8h0M272.8 367.4h0M182.9 332.9h0M218.2 381.7h0M199.9 303.9h0M289.6 352.6h0M274.0 358.0h0M290.9 384.5h0M238.9 330.7h0M264.7 301.4h0M253.9 319.9h0M190.4 299.2h0M254.7 375.3h0M189.3 308.7h0M252.1 378.2h0M250.5 389.9h0M220.4 341.0h0M269.5 372.9h0M198.9 305.0h0M182.9 317.3h0M254.1 358.7h0M234.5 347.2h0M181.8 299.7h0M226.4 311.2h0M253.5 324.4h0M177.3 374.0h0M264.0 353.2h0M199.9 302.0h0M255.9 350.2h0M272.0 329.6h0M184.2 389.3h0M217.9 363.5h0M222.9 350.3h0M240.5 358.2h0M274.7 352.7h0M263.8 366.0h0M192.4 309.4h0M241.5 313.1h0M206.6 365.0h0M289.1 341.4h0M246.9 313.6h0M267.1 297.1h0M182.6 332.0h0M181.7 353.3h0M230.2 300.1h0M231.2 351.2h0M281.2 377.7h0M215.1 362.9h0M185.7 385.6h0M186.6 356.5h0M191.9 339.7h0M187.2 343.0h0M270.8 352.0h0M205.6 384.3h0M188.5 327.2h0M195.1 326.8h0M242.3 385.4h0M256.2 323.4h0M183.1 329.7h0M194.8 366.3h0M245.1 335.5h0M212.6 299.5h0M183.2 339.7h0M277.7 314.3h0M259.9 343.7h0M222.0 335.3h0M176.6 338.1h0M183.0 364.4h0M206.7 357.5h0M234.8 312.9h0M177.4 369.4h0M222.5 358.6h0M218.7 307.8h0M222.0 310.7h0M192.3 388.0h0M266.5 320.5h0M240.3 298.5h0M186.8 388.1h0M206.8 319.1h0M176.5 299.0h0M277.7 336.1h0M218.7 346.5h0M242.1 366.2h0M280.0 299.8h0M180.9 378.1h0M263.5 322.8h0M254.1 334.4h0M242.3 366.5h0M207.9 312.4h0M275.7 381.8h0M177.7 312.4h0M206.5 379.2h0M227.1 346.8h0M177.4 371.8h0M235.4 388.3h0M182.9 327.7h0M260.5 314.0h0M257.2 380.3h0M180.6 361.6h0M188.7 340.0h0M179.1 387.8h0M247.5 313.8h0M290.3 362.2h0M221.4 351.1h0M181.2 314.9h0M285.0 314.3h0M225.1 388.4h0M190.1 379.4h0M188.0 325.8h0M200.9 352.4h0M178.5 325.9h0M188.8 325.4h0M273.9 383.6h0M192.3 379.0h0M236.6 390.1h0M215.4 321.2h0M267.9 323.4h0M275.0 355.0h0M269.3 307.4h0M275.4 317.5h0M244.3 383.1h0M186.6 344.4h0M202.0 308.4h0M186.2 360.3h0M223.9 310.2h0M233.3 374.4h0M207.0 314.7h0M184.5 319.3h0M233.5 318.8h0M286.0 384.3h0M224.4 306.2h0M238.3 386.5h0M209.4 388.9h0M253.9 346.4h0M248.1 298.2h0M177.6 373.9h0M215.3 367.9h0M199.4 322.2h0M280.8 326.5h0M181.5 323.8h0M193.5 307.1h0M263.3 327.7h0M247.3 332.5h0M256.5 361.2h0M236.3 376.1h0M282.7 371.5h0M211.4 317.7h0M235.2 305.5h0M277.8 351.0h0M240.7 358.9h0M247.5 301.1h0M277.6 326.8h0M214.8 356.3h0M229.2 328.9h0M233.1 383.9h0M181.6 348.8h0M289.5 349.6h0M206.9 343.7h0M213.8 335.2h0M286.6 376.6h0M251.6 345.0h0M179.8 310.3h0M271.1 334.1h0M189.1 302.8h0M228.0 323.4h0M255.1 367.9h0M245.4 373.8h0M254.7 302.2h0M208.2 388.6h0M207.9 301.7h0M200.6 342.8h0M197.5 324.9h0M246.7 384.1h0M200.5 342.3h0M206.1 299.0h0M280.0 336.8h0M208.8 353.5h0M181.4 336.7h0M250.9 318.7h0M204.3 356.2h0M190.5 326.0h0M200.6 333.7h0M187.9 329.8h0M241.1 299.6h0M188.4 337.7h0M244.8 361.5h0M268.6 323.8h0M289.6 328.6h0M285.7 360.9h0M236.1 338.1h0M189.2 302.7h0M197.8 327.9h0M246.6 322.1h0M207.2 329.0h0M248.7 316.3h0M190.3 355.0h0M188.2 347.0h0M275.1 381.2h0M278.2 319.2h0M189.4 358.6h0M239.9 307.2h0M239.6 352.6h0M209.5 322.2h0M191.0 312.5h0M195.5 366.7h0M193.4 361.9h0M186.7 388.5h0M246.6 368.4h0M238.0 382.8h0M266.9 383.7h0M253.7 339.9h0M266.9 382.5h0M265.5 386.9h0M283.2 307.1h0M232.7 322.0h0M234.4 369.2h0M181.5 300.7h0M189.0 336.4h0M271.9 298.7h0M242.7 329.1h0M284.0 300.3h0M241.0 379.0h0M233.7 330.4h0M210.3 297.9h0M273.7 309.7h0M229.7 327.2h0M188.7 361.5h0M221.7 337.1h0M272.5 300.4h0M187.5 304.3h0M257.5 301.2h0M212.0 325.4h0M240.5 352.9h0M231.2 340.0h0M285.8 336.9h0M239.2 303.0h0M262.5 343.9h0M235.5 339.5h0M223.9 345.1h0M193.7 384.5h0M190.2 304.6h0M223.3 381.5h0M209.2 375.2h0M180.3 319.8h0M213.3 327.7h0M177.9 306.3h0M281.9 346.7h0M288.5 305.4h0M284.3 324.1h0M231.7 338.6h0M281.4 386.6h0M259.8 384.4h0M248.9 300.8h0M266.8 302.3h0M183.2 353.3h0M267.8 348.3h0M201.2 375.3h0M272.4 317.4h0M209.2 320.5h0M235.2 327.9h0M191.2 328.8h0M224.4 352.6h0M186.5 297.3h0M269.2 371.6h0M178.9 307.2h0M226.8 347.6h0M284.7 364.6h0M250.3 334.7h0M187.4 379.7h0M269.7 312.0h0M261.3 328.0h0M235.3 376.7h0M224.3 377.3h0M226.5 300.9h0M187.2 356.0h0M193.0 357.7h0M223.3 307.6h0M188.5 299.8h0M249.1 377.7h0M269.5 384.1h0M253.2 380.7h0M188.7 315.3h0M254.2 373.5h0M267.8 366.6h0M258.8 368.6h0M255.5 311.3h0M211.0 322.4h0M187.5 315.1h0M243.1 325.6h0M194.9 349.3h0M271.6 354.7h0M274.7 303.7h0M223.5 329.2h0M193.8 362.4h0M260.7 389.5h0M222.9 390.0h0M212.8 337.5h0M214.9 347.7h0M283.4 390.7h0M206.8 390.4h0M201.4 367.6h0M180.5 298.9h0M257.8 344.8h0M181.0 338.8h0M219.7 333.7h0M217.9 310.7h0M182.6 318.4h0M281.2 303.9h0M278.2 339.9h0M199.6 385.0h0M267.6 357.4h0M212.2 387.2h0M194.5 368.3h0M268.2 366.6h0M188.7 349.3h0M201.5 377.1h0M242.5 325.3h0M194.1 314.2h0M241.5 334.7h0M195.7 345.5h0M279.7 388.7h0M192.3 360.8h0M196.6 305.1h0M268.9 340.7h0M290.2 338.5h0M247.2 314.3h0M251.8 336.5h0M191.2 375.5h0M179.4 321.1h0M186.8 306.1h0M217.1 323.6h0M257.5 307.4h0M195.1 333.5h0M177.4 351.9h0M281.1 368.0h0M214.1 334.5h0M245.6 306.0h0M263.8 321.6h0M211.8 370.4h0M217.8 331.2h0M224.5 369.9h0M191.3 332.2h0M179.4 326.2h0M185.0 361.2h0M219.8 372.0h0M287.7 378.5h0M249.1 319.8h0M197.4 382.2h0M201.8 355.3h0M261.7 337.3h0M182.6 358.8h0M197.1 318.8h0M186.1 360.3h0M207.3 380.6h0M258.7 322.8h0M266.1 323.4h0M249.6 306.9h0M232.1 321.3h0M241.9 310.1h0M227.6 367.6h0M284.7 342.9h0M188.8 330.7h0M266.8 334.2h0M186.2 323.8h0M191.0 371.7h0M221.2 362.3h0M216.8 299.7h0M249.6 373.4h0M280.3 385.2h0M239.6 381.8h0M213.4 387.0h0M181.2 384.7h0M282.5 373.6h0M234.8 374.2h0M218.9 328.4h0M253.0 350.4h0M225.0 382.3h0M231.2 298.7h0M289.9 377.8h0M290.4 332.9h0M196.1 343.1h0M238.1 383.9h0M286.1 329.9h0M192.2 304.2h0M274.9 376.2h0M289.0 315.9h0M255.7 322.1h0M189.2 390.2h0M264.4 384.3h0M260.1 344.4h0M251.0 376.3h0M177.0 357.2h0M290.8 344.9h0M241.0 314.2h0M240.8 306.7h0M270.9 350.3h0M192.2 387.5h0M259.4 366.6h0M219.4 328.9h0M218.3 390.0h0M263.3 299.0h0M191.5 328.7h0M182.8 390.4h0M177.2 338.2h0M238.6 345.1h0M180.2 387.2h0M207.1 333.1h0M258.0 383.0h0M279.2 379.1h0M242.3 376.6h0M217.4 359.4h0M260.1 314.0h0M215.8 332.6h0M202.8 336.1h0M208.7 345.3h0M286.9 389.5h0M226.7 316.1h0M198.2 341.2h0M282.5 357.5h0M181.1 376.3h0M275.2 357.0h0M257.0 306.2h0" stroke="#b08462" stroke-width="1.2" stroke-linecap="round" stroke-opacity="0.5" fill="none"/>
<path d="M186.9 375.6h0M287.1 320.0h0M228.5 338.6h0M241.6 350.5h0M275.1 359.4h0M233.8 358.9h0M181.7 317.8h0M240.4 355.9h0M270.0 380.5h0M266.4 361.3h0M208.3 331.8h0M287.4 364.7h0M287.3 318.5h0M210.0 385.3h0M256.7 320.2h0M250.0 318.7h0M185.3 357.3h0M214.0 370.1h0M277.6 350.0h0M270.5 383.1h0M270.0 337.8h0M236.4 310.7h0M187.6 325.5h0M224.8 379.4h0M274.4 331.2h0M212.5 379.6h0M202.4 344.9h0M261.2 315.7h0M283.2 342.9h0M198.8 319.4h0M205.5 325.1h0M255.5 323.1h0M208.8 337.2h0M208.0 364.4h0M188.2 358.0h0M288.4 381.5h0M219.6 379.6h0M188.8 313.3h0M248.3 359.2h0M181.6 302.8h0M205.8 351.5h0M186.6 345.5h0M239.7 359.3h0M278.7 359.1h0M225.6 311.0h0M249.4 383.0h0M213.9 366.1h0M227.5 349.2h0M181.2 299.7h0M176.8 299.8h0M226.5 310.3h0M182.7 354.8h0M205.7 376.1h0M271.5 331.0h0M194.3 321.4h0M289.9 373.7h0M281.2 346.5h0M199.1 324.5h0M209.5 361.3h0M183.3 358.1h0M179.4 376.8h0M276.1 347.2h0M186.2 370.6h0M256.0 323.5h0M233.1 329.6h0M271.7 298.0h0M199.8 326.0h0M236.3 314.7h0M250.4 297.9h0M183.1 365.7h0M196.4 345.9h0M264.9 387.1h0M277.0 386.0h0M194.8 373.7h0M185.6 300.1h0M198.9 368.9h0M266.5 350.2h0M273.9 345.1h0M187.1 390.3h0M179.6 371.1h0M266.6 322.2h0M230.5 387.3h0M285.2 372.9h0M263.1 314.2h0M220.2 307.7h0M179.3 348.8h0M257.2 311.4h0M235.1 302.6h0M180.5 359.7h0M242.5 320.1h0M213.7 342.0h0M216.5 323.5h0M181.7 382.8h0M195.6 318.8h0M237.4 387.0h0M190.6 380.6h0M232.4 330.1h0M227.9 318.6h0M269.2 371.4h0M198.6 310.7h0M190.1 336.7h0M198.9 339.0h0M244.5 331.8h0M201.1 318.3h0M283.4 345.0h0M199.5 351.5h0M270.5 355.3h0M185.2 387.8h0M181.8 378.9h0M253.8 374.4h0M260.8 306.1h0M247.7 374.6h0M179.6 345.0h0M247.2 373.8h0M264.7 311.7h0M210.8 322.9h0M177.4 306.6h0M219.5 302.0h0M188.7 320.3h0M231.7 375.4h0M189.1 323.2h0M262.7 363.5h0M191.7 370.5h0M210.4 326.1h0M227.4 378.3h0M240.9 344.4h0M277.2 310.2h0M234.0 328.4h0M202.3 301.3h0M178.4 322.1h0M199.1 300.2h0M219.4 347.8h0M192.8 349.5h0M217.9 356.2h0M254.4 318.9h0M256.9 369.3h0M224.5 320.6h0M278.4 359.9h0M283.0 330.2h0M219.5 336.6h0M289.8 301.3h0M282.0 365.2h0M193.4 364.4h0M239.2 339.7h0M183.5 298.2h0M236.4 317.7h0M282.0 361.9h0M235.6 305.0h0M280.1 331.2h0M244.7 316.0h0M256.0 331.1h0M277.6 308.7h0M249.3 311.0h0M258.8 388.0h0M221.2 342.1h0M232.5 370.6h0M217.5 387.2h0M256.0 353.0h0M242.4 298.2h0M280.3 348.6h0M204.5 378.8h0M248.6 344.2h0M272.9 350.1h0M198.3 298.7h0M258.2 335.5h0M241.8 370.5h0M274.6 323.4h0M275.0 334.4h0M234.6 348.6h0M184.1 315.4h0M176.4 342.4h0M214.0 331.1h0M221.6 347.1h0M245.8 358.7h0M220.1 309.8h0M288.2 302.6h0M183.8 365.0h0M187.2 374.4h0M211.9 388.5h0M205.5 310.0h0M183.3 342.7h0M262.1 334.2h0M220.0 309.4h0M276.6 354.3h0M236.0 337.5h0M196.2 365.6h0M208.2 347.5h0M229.4 301.8h0M212.1 390.0h0M236.8 316.3h0M233.5 339.7h0M197.1 311.2h0M176.6 375.9h0M259.1 350.5h0M232.2 379.3h0M230.8 380.9h0M217.3 365.2h0M200.6 315.7h0M178.7 355.8h0M289.1 377.4h0M282.5 368.9h0M228.8 323.8h0M202.8 329.7h0M273.9 347.7h0M207.6 367.7h0M201.8 337.1h0M281.4 342.7h0M215.7 300.8h0M274.8 297.9h0M216.4 382.5h0M284.7 381.2h0M229.6 354.3h0M237.7 350.5h0M210.2 326.2h0M233.7 321.9h0M190.8 337.6h0M249.2 362.6h0M246.3 351.0h0M281.3 321.2h0M180.6 334.8h0M264.1 388.8h0M281.1 334.5h0M219.4 389.9h0M229.2 360.9h0M221.1 339.2h0M183.2 354.4h0M194.6 322.8h0M199.5 383.9h0M290.6 354.2h0M191.0 306.0h0M276.8 322.7h0M276.6 374.8h0M206.2 327.4h0M275.6 303.6h0M222.7 328.6h0M258.7 299.7h0M281.5 337.7h0M237.7 367.2h0M178.0 365.2h0M268.4 333.6h0M191.9 341.9h0M223.2 337.7h0M238.1 353.9h0M209.3 337.9h0M241.8 378.6h0M262.4 313.6h0M233.7 382.3h0M217.1 326.7h0M231.1 327.2h0M251.7 339.6h0M283.4 345.5h0M275.4 327.1h0M188.6 331.6h0M251.6 366.2h0M275.7 350.7h0M223.6 368.7h0M189.2 314.5h0M237.0 311.9h0M184.8 382.1h0M219.6 335.4h0M237.2 324.3h0M253.2 343.7h0M218.3 363.6h0M257.1 366.3h0M286.1 382.4h0M201.9 320.9h0M218.4 310.2h0M247.1 379.7h0M220.1 382.7h0M220.8 382.0h0M222.5 362.0h0M268.9 329.1h0M188.8 341.2h0M264.0 338.5h0M187.9 327.5h0M190.2 350.7h0M265.6 381.7h0M226.6 359.8h0M189.4 309.1h0M220.1 363.8h0M180.1 390.4h0M211.0 314.9h0M189.4 371.6h0M177.5 342.9h0M278.3 390.6h0M272.4 349.5h0M232.4 348.2h0M271.3 355.2h0M259.6 310.3h0M277.4 320.3h0M200.0 330.1h0M182.9 373.8h0M271.1 364.5h0M225.9 381.2h0M224.8 332.8h0M247.0 301.6h0M229.8 380.5h0M199.1 347.8h0M201.0 342.9h0M244.3 304.6h0M177.4 326.1h0M221.8 319.5h0M251.8 327.6h0M210.3 329.2h0M195.2 357.7h0M248.0 302.6h0M231.8 329.6h0M284.8 374.4h0M224.3 304.6h0M221.7 348.9h0M202.3 332.9h0M288.4 313.3h0M198.7 357.5h0M206.1 322.6h0M215.1 377.7h0M253.2 343.6h0M189.4 382.3h0M237.7 336.0h0M180.1 332.0h0M262.2 345.7h0M278.5 384.6h0M228.1 377.7h0M183.2 368.5h0M220.1 323.3h0M186.8 319.5h0M203.3 379.3h0M178.9 346.3h0M206.2 349.2h0M253.3 387.7h0M179.6 306.1h0M266.8 358.7h0M260.0 313.7h0M289.9 328.8h0M262.6 326.3h0M203.5 348.9h0M202.2 387.0h0M247.3 368.9h0M211.5 340.7h0M249.4 312.1h0M290.1 349.3h0M251.9 311.0h0M191.9 357.1h0M226.0 390.2h0M177.4 381.6h0M191.5 363.8h0M191.1 364.7h0M202.1 341.9h0M185.8 379.1h0M239.9 311.6h0M283.9 362.3h0M202.9 308.0h0M239.6 338.4h0M246.1 308.1h0M248.7 345.2h0M272.8 343.1h0M235.2 340.2h0M263.2 322.3h0M234.2 352.1h0M231.3 387.5h0M190.1 368.9h0M220.7 368.4h0M268.0 344.4h0M193.0 326.8h0M271.2 316.3h0M196.7 386.8h0M264.7 301.6h0M237.2 312.1h0M238.3 340.4h0M223.1 351.3h0M284.7 342.5h0M278.7 364.3h0M229.6 356.8h0M273.3 325.1h0M274.1 305.6h0M204.7 311.8h0M183.7 314.6h0M206.5 369.7h0M214.8 323.9h0M233.7 372.5h0M189.7 301.2h0M219.9 316.9h0M232.1 310.5h0M237.7 380.4h0M281.6 313.9h0M291.0 345.7h0M219.6 306.6h0M278.6 363.0h0M194.5 298.0h0M252.5 389.5h0M206.9 316.4h0M231.0 324.4h0M243.9 366.2h0M261.9 377.9h0M194.9 340.6h0M265.6 373.1h0M290.6 362.0h0M250.2 365.8h0M235.8 390.0h0M219.6 339.1h0M201.2 329.3h0M223.2 334.2h0M213.0 351.5h0M196.4 341.2h0M272.8 354.1h0M231.8 320.4h0M217.3 363.0h0M264.2 387.8h0M247.4 377.9h0M186.8 335.1h0M257.7 355.5h0M218.7 313.3h0M210.0 376.5h0M234.5 328.9h0M221.8 323.3h0M201.9 329.4h0M246.9 330.6h0M285.1 324.2h0M270.7 321.7h0M204.8 306.5h0M231.3 318.7h0M178.5 346.0h0M178.4 322.9h0M186.2 325.6h0M227.9 298.6h0M199.7 388.3h0M210.8 384.0h0M200.5 348.4h0M282.9 371.8h0M272.3 347.6h0M176.5 358.3h0M182.8 377.5h0M244.2 333.9h0M215.8 303.1h0M259.8 299.1h0M265.4 356.5h0M265.4 363.9h0M185.0 357.8h0M187.0 336.6h0M184.5 365.1h0M187.0 349.8h0M185.2 327.4h0M261.2 362.0h0M183.8 343.5h0M238.5 386.1h0M271.2 349.6h0M242.8 366.3h0M188.7 353.9h0M204.0 342.8h0M221.0 298.5h0M210.7 337.0h0M269.1 301.0h0M212.2 304.4h0M182.4 366.0h0M219.7 371.8h0M271.5 320.8h0M204.0 308.5h0M261.0 309.4h0M177.4 312.9h0M196.8 335.6h0M220.2 298.0h0M246.8 357.8h0M203.4 350.2h0M182.4 375.2h0M235.0 371.7h0M193.6 302.9h0M278.5 344.7h0M265.4 374.7h0M223.7 330.1h0M182.4 374.7h0M233.6 361.2h0M253.7 321.8h0M177.2 329.0h0M194.1 363.6h0M196.9 314.5h0M197.2 383.1h0M271.0 345.9h0M255.0 376.1h0M219.6 314.4h0M258.9 344.6h0M243.9 297.1h0M225.6 383.9h0M193.6 334.2h0M268.1 338.6h0M201.8 310.4h0M194.3 372.0h0M282.4 331.7h0M208.4 365.5h0M203.4 311.5h0M231.9 368.1h0M223.8 323.4h0M220.4 347.2h0M265.2 369.2h0M276.7 301.6h0M185.9 363.0h0M219.3 340.8h0M222.0 317.1h0M235.1 382.3h0M217.8 314.2h0M280.3 381.1h0M198.1 314.1h0M190.0 354.1h0M286.6 342.7h0M257.2 368.6h0M285.1 390.7h0M210.5 365.3h0M183.7 298.4h0M256.8 324.2h0M222.5 370.1h0M179.7 384.1h0M241.6 382.1h0M183.0 303.8h0M217.0 366.4h0M264.8 346.7h0M283.8 385.5h0M284.2 339.0h0M280.4 370.0h0M251.0 338.2h0M242.0 388.0h0M186.9 390.0h0M195.8 377.7h0M224.6 387.8h0M213.1 328.5h0M198.5 368.9h0M178.0 364.9h0M207.7 373.9h0M252.7 333.3h0M228.9 335.4h0M251.8 313.8h0M228.8 359.9h0M279.9 338.0h0M197.6 357.4h0M201.4 332.8h0M280.7 348.4h0M290.7 339.1h0M180.9 361.0h0M243.8 301.1h0M282.9 325.7h0M266.8 345.8h0M178.4 350.7h0M223.8 307.2h0M185.5 352.9h0M271.3 328.9h0M277.4 315.7h0M264.3 320.8h0M258.3 305.2h0M241.0 368.8h0M244.6 350.1h0M224.1 352.2h0M237.3 375.1h0M289.9 373.9h0" stroke="#bf9e80" stroke-width="1.6" stroke-linecap="round" stroke-opacity="0.4" fill="none"/>
<path d="M228.3 371.3l0.5 5.4M227.5 361.2l-2.7 3.8M228.3 354.5l-2.9 1.2M272.9 374.0l-2.2 0.8M211.7 353.6l-5.3 1.4M252.0 307.2l2.6 2.5M178.2 321.2l0.7 2.2M253.7 388.1l2.8 2.7M282.4 314.3l3.5 4.6M267.7 384.5l-3.5 0.2M251.6 381.2l2.3 4.9M181.8 370.9l-1.2 4.1M267.0 314.0l-4.2 4.1M231.6 357.2l3.9 3.7M275.2 299.8l-0.5 3.5M208.7 387.8l5.5 1.1M275.9 322.6l3.7 0.3M256.3 365.2l-0.4 3.3M274.4 333.6l2.1 0.2M286.8 355.4l0.6 3.5M270.3 301.0l-2.3 5.2M235.4 379.6l3.2 0.4M240.2 323.3l-4.4 2.6M215.5 366.6l2.2 0.3M290.5 375.0l-0.1 3.8M249.6 318.4l-0.7 5.1M290.9 366.0l-3.1 3.2M209.9 299.2l3.1 2.4M278.0 372.6l-5.6 1.8M199.8 365.5l0.8 3.1M278.4 389.6l-2.5 0.7M234.3 366.5l-0.1 2.2M253.3 317.5l0.2 2.0M247.5 323.8l5.4 2.0M288.6 338.1l-5.1 1.0M218.4 351.1l-4.4 0.9M254.3 351.2l4.2 0.7M217.9 324.0l-1.2 1.9M189.5 354.8l-0.9 4.3M203.0 377.1l-0.5 2.5M276.0 358.1l2.0 2.3M219.6 375.1l-3.8 0.2M269.3 314.6l-0.7 2.1M273.4 359.8l2.2 1.7M239.5 311.4l3.0 1.9M189.3 319.4l-1.8 3.0M228.2 378.2l1.3 3.0M228.4 384.0l-0.1 2.9M242.3 365.9l-2.3 2.9M191.9 388.9l0.7 2.1M204.2 369.7l-2.7 0.8M182.6 328.1l4.5 1.1M252.1 304.7l2.3 1.8M198.4 329.0l-1.1 4.8M253.9 318.5l1.6 2.4M192.9 325.2l2.1 4.7M179.7 308.8l-1.5 1.7M277.1 306.7l-2.8 1.9M188.0 352.3l0.1 2.2M208.3 329.4l2.3 0.4M253.2 350.6l-1.0 5.6M206.1 388.4l-2.2 4.2M195.1 360.9l0.1 3.6M200.7 305.7l-3.0 2.3M186.0 382.4l-2.2 3.5M264.2 307.2l1.4 3.9M284.7 382.7l-3.9 3.5M179.1 355.5l-5.1 1.9M187.9 321.0l4.0 0.4M236.7 365.0l3.4 4.1M229.3 338.7l-2.4 3.4M274.4 350.7l-4.6 3.5M243.0 377.8l2.8 1.4M246.3 362.3l-0.1 3.0M282.3 390.6l3.0 1.7M184.5 365.5l-0.5 2.3M287.1 383.0l1.0 1.8M249.7 374.6l-5.2 1.1M220.7 297.8l-3.0 3.4M248.8 298.5l1.6 2.3M236.0 357.9l2.8 3.6M250.3 363.8l1.6 1.3M184.9 388.6l-2.3 1.3M244.5 341.3l-2.1 2.1M205.3 366.3l-2.1 4.0M210.0 385.6l3.3 3.3M255.5 356.5l-2.2 1.0M178.4 335.5l-0.8 4.9M240.1 340.2l2.5 2.2M240.2 330.1l-4.2 2.9M272.2 375.1l-2.6 2.7M226.6 307.5l1.1 3.8M216.5 376.8l4.3 1.1M217.6 365.5l1.9 4.0M239.6 312.5l-0.0 4.5M235.7 389.5l4.3 2.3M249.5 323.8l0.7 4.4M240.8 380.1l-1.6 5.1M230.3 351.3l2.7 0.0M198.5 336.9l-4.3 2.2M203.8 364.5l4.3 1.1M255.2 387.0l2.8 2.6M272.3 306.2l-2.6 1.0M289.5 312.3l-0.5 4.9M265.2 325.4l0.4 3.7M199.7 326.2l-0.5 3.1M191.0 375.2l-2.3 2.6M207.6 327.4l2.2 0.3M213.7 380.3l3.6 2.0M219.6 323.1l3.6 2.4M271.9 350.4l4.3 0.9M224.3 351.7l1.8 5.1M289.6 351.6l-1.2 2.9M269.7 336.1l2.8 1.0M182.8 374.2l-4.0 0.4M201.3 303.4l-4.7 1.1M181.9 351.9l1.1 3.2M186.6 324.1l3.6 2.8M215.4 351.4l1.0 3.9M213.0 347.4l0.2 4.2M219.4 304.4l-2.4 1.5M251.7 315.5l-3.6 0.1M199.5 312.6l5.2 1.3M245.3 356.7l-1.7 4.4M242.0 310.5l-1.9 1.0M234.2 362.1l0.9 5.9M247.3 382.1l-3.4 4.6M207.4 385.4l-4.9 2.9M251.0 364.8l-2.4 3.2M251.6 359.9l5.8 1.6M179.8 352.7l-2.1 0.7M260.3 363.6l4.7 0.3M280.6 369.6l-1.9 5.2M212.1 337.3l5.6 0.3M258.1 311.1l4.8 1.9M246.8 330.8l2.6 3.0M197.0 316.7l1.8 1.7M178.7 331.3l0.8 2.1M253.7 332.0l-2.3 1.1M219.3 382.0l5.7 0.4M211.5 323.1l-2.1 0.5M208.5 361.6l5.1 0.9M275.2 379.8l-1.1 4.5M180.7 371.9l3.3 2.1M271.8 302.9l-2.9 3.1M211.2 376.3l5.2 2.1M286.2 336.3l-3.6 2.2M274.5 304.3l1.5 1.9M221.9 334.3l3.6 1.0M278.5 333.9l2.6 4.2M213.3 344.9l-0.5 4.4M255.9 371.1l-0.2 3.0M233.6 379.6l-1.2 1.9M267.6 340.7l-3.2 2.9M238.6 332.5l-3.7 3.4M196.6 382.9l5.2 0.2M238.7 338.3l4.9 3.4M241.4 363.5l-1.2 5.7M231.8 387.5l2.5 4.6M225.6 368.6l-4.0 2.7M234.2 304.6l2.0 2.3M199.9 384.6l0.6 5.3M256.6 326.5l-3.2 0.2M242.8 364.8l2.2 2.8M185.3 389.4l-0.0 2.4M223.1 360.7l-2.4 0.1M199.9 384.6l3.2 2.4M182.4 304.3l5.4 0.1M213.4 355.7l-1.4 4.5M184.5 351.3l5.3 2.1M222.7 390.5l1.6 1.3M232.0 329.9l2.3 2.4M249.8 388.6l-0.1 5.9M239.4 328.9l3.5 3.7M277.8 327.0l3.4 1.6M267.1 323.7l2.8 2.5M215.5 374.5l2.0 4.7M277.7 336.8l0.9 2.9M193.3 384.8l3.5 3.1M237.3 308.1l-1.7 3.6M187.7 390.4l1.4 2.5M199.3 307.3l-3.0 2.6M261.1 324.4l-2.1 0.0M254.5 314.7l-0.0 4.8M282.2 354.7l4.2 2.7M190.1 385.8l0.1 3.2M207.4 344.9l1.4 4.7M210.0 328.8l0.8 4.4M204.1 328.6l-3.2 2.7M242.1 310.1l-2.7 0.1M285.9 365.6l2.0 1.3M211.2 321.9l5.3 0.8M253.8 351.7l-2.0 3.6M206.4 299.8l-2.6 2.6M189.5 302.9l-0.4 2.2M231.7 388.5l1.2 4.5M241.2 332.9l2.6 4.1M237.7 337.1l-2.1 0.5M221.3 317.4l-2.3 2.4M257.3 368.5l-3.6 4.1M259.8 323.1l2.7 1.5M196.8 346.1l1.5 5.6M275.7 328.9l-4.9 1.5M229.7 362.2l-1.4 5.4M229.7 378.6l3.6 2.2M246.6 369.3l-3.4 0.5M256.9 317.2l-3.2 1.6M198.2 370.0l-1.9 0.9M232.8 326.0l-5.1 2.0M207.3 328.2l0.8 3.0M260.3 330.8l1.3 2.2M214.7 310.5l3.4 4.8M218.1 350.7l1.3 4.6M240.7 326.9l-2.7 0.5M205.6 325.4l5.1 3.1M207.4 325.2l-4.1 3.9M274.1 325.7l-0.6 3.7M270.4 312.1l2.1 0.6M186.5 358.9l4.4 2.1M261.5 369.9l1.7 5.6M194.8 298.2l0.8 4.8M204.0 312.3l3.1 2.5M254.9 300.4l-2.3 4.9M179.4 345.8l5.2 1.2M288.1 334.5l3.4 2.8M214.9 329.0l3.2 3.5M274.9 382.3l-0.9 3.1M232.4 377.5l2.4 4.7M255.4 302.4l-1.0 4.2M278.6 326.3l4.2 0.5M226.6 352.6l0.1 5.9M196.3 373.3l0.4 2.4M262.7 321.7l3.0 1.7M183.2 388.7l1.3 3.2M272.8 322.8l3.4 0.3M275.4 352.0l-2.1 3.1M205.0 300.3l0.1 5.2M274.4 304.6l1.1 4.5M222.6 301.2l3.0 2.8M204.0 357.8l0.4 5.2M203.7 369.5l-2.2 0.8M176.4 376.7l-2.2 1.6M278.4 358.6l-1.3 2.3M226.4 323.3l0.2 6.0M200.1 337.5l-5.4 2.0M180.4 385.2l-2.7 0.8M212.5 357.8l-3.7 4.2M226.4 342.6l1.5 2.0M241.7 311.8l-1.8 3.5M211.5 298.9l1.9 1.2M265.9 340.5l-3.8 0.1M259.4 318.9l-3.1 3.7M225.4 345.8l3.4 3.3M195.5 389.0l2.6 5.3M241.3 310.6l4.2 4.2M211.3 365.8l0.7 1.9M291.0 350.6l-3.2 1.3M221.2 359.5l4.8 2.4M265.6 374.1l-3.2 0.5M201.3 374.5l1.1 2.5" stroke="#b48a66" stroke-width="0.7" stroke-linecap="round" stroke-opacity="0.4" fill="none"/>
<path d="M244.2 349.8h0M274.0 327.1h0M194.5 388.1h0M185.7 324.5h0M191.3 387.3h0M218.0 355.4h0M244.6 382.4h0M205.6 300.4h0M193.7 379.6h0M213.1 356.8h0M182.9 369.5h0M226.7 351.5h0M192.6 379.0h0M252.3 298.3h0M205.6 344.8h0M181.5 347.8h0M248.5 370.3h0M244.4 315.7h0M284.5 351.0h0M232.2 330.2h0M212.8 348.0h0M207.2 305.7h0M267.0 383.4h0M206.5 353.8h0M212.2 340.2h0M185.6 376.3h0M258.3 362.5h0M203.7 331.2h0M233.2 343.4h0M223.3 348.6h0M256.0 343.1h0M222.5 313.1h0M176.7 358.7h0M280.6 345.1h0M261.9 333.5h0M286.9 316.6h0M272.0 361.6h0M237.5 306.3h0M248.1 308.1h0M278.4 346.1h0M246.9 371.1h0M274.6 340.7h0M222.4 333.7h0M244.3 384.9h0M277.0 316.7h0M238.9 322.1h0M251.9 326.1h0M251.3 385.3h0M234.5 386.4h0M215.4 324.2h0M239.9 350.0h0M222.0 306.9h0M239.0 346.7h0M218.1 366.9h0M246.7 307.4h0M285.0 363.4h0M204.5 352.3h0M203.8 340.1h0M187.8 382.5h0M270.1 383.9h0M278.7 319.0h0M219.4 370.4h0M248.5 347.3h0M244.7 363.7h0M179.2 320.0h0M178.0 349.5h0M248.3 315.2h0M243.3 363.9h0M184.7 353.7h0M235.7 368.2h0M241.6 327.4h0M192.7 380.7h0M271.3 374.5h0M224.4 367.4h0M217.4 375.3h0M257.5 338.3h0M258.2 297.7h0M281.4 371.2h0M179.2 374.5h0M242.5 353.8h0M258.4 374.0h0M278.7 316.2h0M229.1 330.7h0M183.7 359.7h0M213.0 376.3h0M200.4 385.1h0M261.5 378.3h0M239.3 369.6h0M192.4 329.5h0M253.3 389.7h0M230.6 319.2h0M271.1 359.6h0M267.7 338.3h0M199.2 329.3h0M232.4 311.2h0M219.4 386.0h0M255.8 330.3h0M230.3 326.3h0M225.9 380.9h0M202.0 341.9h0M282.0 379.8h0M207.9 328.2h0M288.7 341.3h0M244.7 351.0h0M289.8 322.9h0M189.1 390.7h0M272.3 326.7h0M190.1 369.7h0M181.9 337.6h0M275.1 304.2h0M256.5 381.0h0M190.7 345.6h0M215.5 314.2h0M285.7 345.6h0M200.8 356.8h0M290.1 321.3h0M246.0 378.3h0M270.0 389.0h0M222.6 338.7h0M227.0 311.6h0M215.5 322.5h0M270.6 330.9h0M230.0 352.0h0M213.6 369.3h0M233.0 327.6h0M200.3 364.4h0M239.9 370.8h0M225.6 358.2h0M248.6 321.7h0M178.2 316.5h0M211.8 349.1h0M229.4 363.2h0M259.8 375.2h0M272.6 329.3h0M259.0 313.2h0M204.6 328.6h0M265.1 336.9h0M177.8 301.0h0M263.2 300.4h0M215.4 336.1h0M206.2 380.5h0M231.4 362.7h0M252.5 320.0h0M253.9 326.6h0M279.8 371.3h0M208.8 369.0h0M195.0 333.4h0M203.8 378.4h0M272.6 320.8h0M247.9 377.3h0M201.4 336.8h0M183.5 315.7h0M181.9 349.1h0M264.7 372.0h0M257.3 310.9h0M243.5 298.5h0M267.6 384.4h0M254.8 348.0h0M214.3 318.8h0M207.8 368.9h0M269.5 326.4h0M262.2 326.4h0M186.6 355.4h0M290.6 345.4h0M180.6 317.0h0M197.5 390.2h0M240.6 310.9h0M274.2 313.3h0M211.5 305.5h0M190.1 310.3h0M262.4 339.3h0M251.8 354.9h0M213.5 318.2h0M283.5 348.3h0M221.9 346.4h0M221.8 341.9h0M278.2 379.1h0M229.0 304.4h0M257.7 362.9h0M286.8 373.2h0M265.0 329.1h0M242.7 366.1h0M236.8 354.2h0M177.4 369.4h0M277.3 328.7h0M275.4 352.7h0M249.7 384.4h0M223.9 386.3h0M252.5 308.9h0M251.0 310.5h0M199.4 384.4h0M187.1 319.7h0M260.3 330.8h0M290.1 332.7h0M290.1 332.5h0M207.8 345.7h0M177.9 355.7h0M282.4 347.1h0M256.7 312.0h0M188.2 375.7h0M209.7 323.2h0M179.7 313.5h0M220.3 378.1h0M285.5 298.9h0M230.7 357.0h0M235.3 366.5h0M275.7 326.2h0M270.4 314.8h0M240.9 385.6h0M191.1 335.9h0M236.9 305.6h0M260.6 352.0h0M235.4 311.8h0M233.7 385.1h0M286.4 376.8h0M243.6 327.7h0M256.2 317.5h0M274.4 375.2h0M224.8 351.2h0M182.5 309.0h0M222.0 321.1h0M271.3 353.5h0M197.7 389.1h0M219.1 309.2h0M242.9 377.3h0M232.1 354.0h0M209.3 357.4h0M181.0 328.2h0M254.8 386.5h0M272.8 389.1h0M280.0 331.2h0M243.6 361.1h0M278.4 309.7h0M288.0 363.3h0M253.4 303.9h0M176.6 355.8h0M215.5 324.5h0M255.6 302.3h0M278.6 317.1h0M282.8 350.7h0M268.1 315.8h0M233.4 385.8h0M261.0 355.8h0M233.1 338.3h0M188.1 310.2h0M230.3 338.4h0M255.3 345.1h0M188.2 297.4h0M205.8 352.8h0M233.5 309.8h0M201.6 362.3h0M195.0 315.3h0M177.6 320.6h0M192.8 366.1h0M194.4 324.0h0M176.6 354.4h0M256.6 342.6h0M273.4 364.0h0M224.3 378.0h0M206.9 299.5h0M282.4 371.5h0M285.5 315.5h0M196.7 304.1h0M280.8 352.1h0M178.5 356.2h0M186.5 340.4h0M277.0 307.9h0M284.6 372.9h0M230.2 311.1h0M247.2 380.5h0M289.8 362.7h0M267.9 381.6h0M279.1 341.6h0M245.6 366.4h0M199.4 359.1h0M182.6 336.7h0M284.1 379.2h0M216.3 351.8h0M201.8 300.6h0M242.5 352.8h0M251.9 313.3h0M256.4 383.5h0M203.1 379.2h0M288.8 324.6h0M266.1 326.9h0M250.5 346.1h0M241.2 325.5h0M205.5 308.4h0M190.0 388.3h0M201.2 305.4h0M280.2 326.7h0M240.0 314.3h0M282.8 387.9h0M220.3 297.8h0M284.1 303.9h0M232.6 385.5h0M190.4 300.2h0M176.9 301.9h0M191.2 331.8h0M229.5 319.1h0M214.1 360.6h0M200.8 299.8h0M227.2 344.8h0M247.1 339.9h0M287.0 311.4h0M234.4 354.9h0M278.1 320.6h0M282.9 336.8h0M203.1 313.2h0M211.3 334.7h0M206.5 310.2h0M225.9 390.2h0M218.3 367.9h0M210.9 328.3h0M249.1 331.9h0M208.1 307.2h0M183.4 361.7h0M196.9 345.1h0M228.1 312.8h0M266.4 377.5h0M223.6 339.5h0M190.7 304.5h0M240.3 364.3h0M234.5 377.9h0M251.9 364.4h0M190.6 371.3h0M211.2 321.1h0M177.5 354.3h0M228.8 361.4h0M223.6 305.2h0M259.9 345.5h0M235.1 360.0h0M225.5 300.8h0M196.6 309.0h0M192.6 323.9h0M249.1 364.2h0M213.9 371.8h0M204.3 369.6h0M285.0 303.2h0M245.5 346.4h0M275.3 376.6h0M286.1 380.7h0M229.1 306.3h0M257.3 307.6h0M238.2 339.2h0M276.3 325.1h0M277.4 320.4h0M245.6 323.3h0M250.3 313.0h0M184.3 374.9h0M203.8 341.3h0M233.9 307.1h0M276.2 360.1h0M257.4 369.3h0M254.8 330.1h0M253.8 379.1h0M244.8 381.2h0M220.9 312.5h0M184.7 362.7h0M180.1 312.7h0M254.4 323.3h0M267.4 326.3h0M223.0 379.0h0M214.6 315.6h0M263.2 301.3h0M203.1 390.1h0M225.6 318.8h0M232.6 309.1h0M246.9 297.5h0M242.5 357.5h0M194.1 331.4h0M179.9 338.4h0M228.0 309.4h0M277.5 302.9h0M259.6 383.5h0M220.4 345.4h0M224.3 358.5h0M227.8 325.6h0M266.8 331.5h0M247.1 368.3h0M258.2 309.5h0M186.1 378.6h0M267.2 381.5h0M204.8 383.2h0M199.5 347.4h0M193.7 334.0h0M254.6 345.0h0M247.9 297.7h0M226.1 328.1h0M179.7 338.4h0M199.9 302.6h0M287.0 376.4h0M278.8 385.4h0M221.3 356.3h0M177.8 333.3h0M207.0 340.5h0M275.6 340.8h0M235.6 299.0h0M221.2 380.6h0M218.7 298.5h0M254.7 367.2h0M269.7 319.0h0M229.7 332.9h0M241.8 388.4h0M276.8 314.6h0M273.8 378.7h0M275.8 361.6h0M266.1 378.2h0M212.4 311.1h0M180.5 378.1h0M193.3 369.8h0M273.8 390.2h0M244.1 379.8h0M257.1 377.1h0M214.1 342.1h0M249.7 387.5h0M179.8 381.8h0M183.8 316.0h0M235.9 346.5h0M263.3 384.3h0M275.8 382.6h0M267.6 330.9h0M271.7 333.7h0M290.3 345.4h0M278.6 344.8h0M215.8 316.3h0M239.9 374.9h0M234.2 348.9h0M225.8 311.6h0M234.8 381.9h0M283.7 331.1h0M208.3 367.4h0M270.8 314.7h0M198.7 379.5h0M233.4 389.2h0M220.4 341.9h0M285.7 382.5h0M244.5 342.0h0M280.7 386.3h0M199.7 367.3h0M227.9 365.3h0M282.7 322.9h0M199.5 366.7h0M217.5 336.9h0M259.7 352.3h0M262.4 337.1h0M237.2 345.1h0M277.3 381.0h0M192.7 349.5h0M284.7 304.1h0M230.1 371.3h0M250.0 362.3h0M200.2 356.8h0M243.2 353.7h0M261.3 367.9h0M204.3 374.3h0M199.2 383.0h0M242.8 339.5h0M261.5 386.9h0M257.9 370.1h0M205.1 334.3h0M254.3 356.7h0M283.6 323.6h0M239.0 324.3h0M194.7 324.2h0M247.4 390.6h0M208.8 358.1h0M219.1 362.7h0M230.3 356.6h0M189.9 336.1h0M261.3 340.4h0M201.4 352.6h0M290.0 380.1h0M244.6 319.1h0M196.4 371.0h0M230.1 354.7h0M230.6 373.4h0M235.9 352.2h0M188.2 372.1h0M281.7 302.2h0M268.4 351.4h0M288.1 332.5h0M267.5 328.9h0M262.6 377.8h0M265.4 369.6h0M215.9 380.3h0M279.2 384.6h0M272.4 313.3h0M242.1 350.4h0M269.1 354.2h0M244.4 331.1h0M200.9 333.6h0M195.8 390.1h0M261.6 319.2h0M251.7 371.8h0M250.4 330.3h0M215.5 343.7h0M213.5 345.7h0M265.7 343.4h0M218.1 315.5h0" stroke="#e8e5dc" stroke-width="1.6" stroke-linecap="round" stroke-opacity="0.6" fill="none"/>
<path d="M176.2 311C180.2 337 186.2 367 194.2 390.8H176.2z" fill="#b48050" fill-opacity="0.18"/>
<path d="M176.2 297H191.2C184.2 302 179.2 308 176.2 316z" fill="#d8d5ca"/>
</g>
<g clip-path="url(#ci2)">
<rect x="16.30000000000001" y="376.65" width="180" height="180" fill="#d6b994" filter="url(#t2)" transform="rotate(30 106.30000000000001 466.65)"/>
<path d="M77.1 457.6l3.6 1.8M97.3 439.2l3.0 0.8M67.0 481.0l4.5 1.4M72.9 443.5l2.4 2.0M115.2 489.8l3.7 2.5M161.2 482.2l4.0 1.5M138.0 459.2l3.2 1.4M52.6 451.7l1.9 0.9M52.9 428.3l2.3 0.6M95.8 436.4l3.3 0.8M64.0 438.3l2.1 0.6M119.6 442.2l1.6 1.2M50.8 428.0l4.0 3.3M116.4 485.6l3.6 2.7M94.2 477.9l3.6 1.0M78.5 456.0l3.7 2.0M74.2 498.0l2.0 0.9M129.2 447.9l4.5 2.7M96.8 477.5l4.1 2.5M132.7 513.2l2.1 0.9M136.0 463.2l4.2 1.5M134.3 500.9l3.7 2.7M100.2 438.7l3.0 2.0M153.0 449.4l3.4 1.8M156.3 425.7l4.3 1.1M63.1 464.6l4.8 1.4M88.0 497.5l3.7 2.7M78.8 426.0l3.5 2.0M122.7 476.0l4.5 2.4M156.6 424.8l4.7 2.6M91.5 474.5l4.0 2.0M89.3 478.9l3.3 2.6M88.2 446.3l2.6 0.5M160.8 446.0l3.5 1.7M50.2 453.8l2.8 1.2M118.3 454.3l4.9 1.3M147.8 458.8l2.3 1.3M62.0 487.4l1.8 1.0M105.9 512.7l1.8 1.0M100.3 458.2l2.3 1.8M112.7 489.9l2.0 1.5M50.9 493.6l2.6 1.2M124.3 461.0l4.3 1.1M147.4 424.0l4.7 1.2M151.5 487.3l2.3 1.8M148.7 485.8l2.7 0.6M97.6 429.6l3.9 2.7M152.8 451.3l3.2 0.8M91.9 459.4l4.7 2.6M94.1 483.4l2.9 0.9M89.1 437.2l4.9 2.2M122.2 452.7l3.5 2.7M141.7 497.4l2.9 0.7M163.2 430.1l4.8 2.3M104.1 448.3l4.2 1.9M51.6 473.0l2.8 1.8M107.6 483.1l4.6 1.5M50.0 435.5l3.1 1.2M97.5 445.3l3.7 1.9M65.7 479.1l3.1 1.2M160.4 433.4l3.0 2.4M110.0 449.8l3.6 1.6M69.2 423.7l5.0 1.6M132.6 474.7l2.0 1.5M85.9 482.5l3.0 1.6M63.3 454.2l1.8 0.9M157.0 441.1l1.6 1.3M130.9 448.0l1.9 1.3M74.3 481.7l2.8 0.9M80.0 466.7l3.3 0.8M108.9 476.0l2.9 1.2M148.2 439.4l4.3 2.1M51.1 429.8l3.9 1.0M82.8 511.8l3.8 0.9M54.9 450.3l3.7 1.1M139.5 429.0l2.1 1.1M78.1 510.9l3.3 1.4M163.4 468.8l2.6 1.8M158.3 497.7l2.3 1.1M131.0 444.5l2.8 1.5M87.2 440.3l3.5 2.4M51.2 468.1l4.7 1.4M64.2 494.5l2.4 0.6M62.5 500.1l2.0 1.3M55.5 419.6l2.6 1.3M108.9 471.1l1.8 0.9M144.3 446.1l3.6 0.9M153.0 492.3l2.5 1.0M49.3 503.8l5.3 1.2M141.3 429.2l2.9 0.8M154.2 423.9l3.7 2.3M95.6 488.1l3.6 1.0M138.6 499.9l1.7 1.1M156.2 469.6l2.1 0.7M97.9 441.6l3.4 2.7M76.4 485.5l3.0 2.0M132.6 440.5l5.2 1.1M63.2 476.2l4.4 2.6M53.8 460.4l2.3 1.5M51.3 450.3l3.3 1.3M56.0 514.0l4.2 0.9M59.2 451.6l2.2 0.5M141.4 456.9l5.4 1.1M121.5 430.2l4.9 2.0M150.0 483.4l2.6 2.2M73.9 481.4l3.5 1.3M160.5 434.5l4.8 2.2M52.5 482.2l2.6 0.6M157.6 506.7l3.5 1.6M156.2 513.7l3.3 1.4M126.8 513.4l3.8 3.2M57.1 430.5l1.6 1.2M109.3 476.5l2.4 1.8M80.6 500.9l4.4 3.1M64.2 433.0l3.2 1.9M107.0 439.6l4.2 2.3M145.7 495.1l4.3 2.3M92.5 432.3l4.4 1.2M158.5 466.8l2.8 1.0M90.7 510.3l2.8 1.8M142.6 479.4l3.7 1.8M128.6 472.6l3.0 1.3M71.6 441.3l4.3 2.2M90.6 504.0l3.2 2.6M160.9 511.9l1.9 0.8M70.3 471.1l2.5 1.3M163.4 507.5l4.3 1.6M138.5 424.4l2.2 1.0M72.2 438.9l2.3 1.1M89.4 480.9l4.3 1.6M123.9 505.4l2.7 1.7M133.0 484.9l2.0 1.3M139.3 495.1l3.9 1.9M108.1 470.3l1.9 0.8M134.6 507.0l4.6 1.3M160.0 432.9l2.6 0.8M78.1 471.4l2.5 1.6M123.3 434.5l3.3 0.7M65.8 457.5l3.6 2.3M75.7 442.6l2.5 0.8M71.9 453.6l2.3 0.5M163.4 488.4l2.1 1.0M124.1 469.9l3.0 1.2M118.7 499.0l2.5 0.9M154.1 434.2l3.8 3.1M99.8 459.3l1.8 1.2M94.0 486.1l4.1 2.5M92.4 512.3l2.5 1.1M70.3 447.7l3.3 2.7M122.6 506.2l2.8 2.3M86.5 500.7l2.7 1.8M137.7 493.9l4.9 1.8M163.1 437.9l2.7 0.9M75.7 501.9l3.2 1.1M137.3 490.7l4.0 2.1M79.9 484.3l4.2 1.1M159.8 506.2l2.0 0.7M75.3 513.0l5.0 1.3M134.2 464.3l4.3 2.3M56.3 448.3l4.3 1.1M127.6 499.4l1.8 1.1M151.8 444.8l4.5 1.8M67.1 483.8l5.2 1.3M53.1 507.5l2.8 2.1M103.3 498.2l2.3 0.5M144.7 469.5l4.2 2.8M139.2 434.9l4.8 2.5M123.5 487.1l2.1 0.8M81.1 483.9l3.6 3.0M145.7 440.2l2.6 1.3M117.6 493.2l2.7 1.2M78.7 476.5l2.3 0.8M112.3 501.4l2.7 0.8M163.4 472.1l4.1 2.4M152.6 510.7l3.8 2.7M86.3 484.0l4.8 1.8M135.3 501.5l5.0 2.0M64.7 511.8l2.9 0.7M150.2 484.3l3.5 1.2M125.3 448.9l3.6 2.7M131.0 491.3l3.8 1.7M135.8 427.9l2.2 1.0M77.7 506.6l4.1 1.1M150.9 490.5l2.5 1.4M146.4 479.2l2.3 0.5M53.1 493.9l3.9 1.5M101.6 440.3l1.8 1.5M101.7 442.4l2.0 1.6M93.3 440.8l3.9 2.0M71.6 511.2l4.0 2.4M85.0 427.5l3.8 2.4M54.2 463.7l2.5 0.5M53.2 440.4l5.2 1.3M114.3 473.0l2.8 0.8M109.8 463.1l3.2 1.6M152.8 447.1l2.6 1.7M103.5 497.9l3.3 1.6M152.9 464.1l4.2 1.9M99.2 495.7l2.1 0.9M134.5 454.2l3.6 2.1M138.1 478.1l3.7 2.2M161.1 486.1l2.7 1.6M72.5 504.6l2.7 1.2M104.5 500.8l2.8 0.7M126.4 443.8l2.1 1.5M120.1 491.7l4.4 2.0M80.6 446.8l2.1 0.9M109.0 470.0l3.2 0.8M50.5 435.5l3.9 2.2M127.4 506.3l4.3 1.5M136.3 450.9l2.1 0.5M86.6 423.6l2.6 1.5M79.2 463.0l3.5 0.8M111.3 467.2l3.2 1.4M65.4 474.1l5.0 1.8M154.7 495.5l3.3 1.4M156.6 437.8l4.2 0.9M150.5 486.1l3.3 1.8M49.7 502.5l4.4 3.1M137.6 446.0l3.2 1.0M130.0 493.5l4.2 2.9M86.0 459.6l2.4 1.9M65.4 488.9l3.3 2.3M63.6 439.8l4.2 1.1M71.9 442.1l3.3 1.7M151.3 475.5l1.8 0.9M128.0 465.2l3.4 1.6M126.8 448.5l1.9 1.0M103.0 441.4l4.9 1.2M154.5 492.3l3.8 1.7M119.1 512.0l4.6 3.0M54.5 439.7l3.0 1.9M97.6 465.4l2.5 1.6M137.0 430.3l4.1 3.0M93.6 440.8l3.4 1.5M82.2 497.0l2.4 1.0M83.3 424.6l2.2 1.7M155.9 467.7l2.5 1.0M113.6 420.0l4.6 1.3M141.4 471.7l2.8 0.8M81.4 488.1l4.5 1.6M161.8 476.9l4.0 1.0M124.0 486.8l3.0 2.2M121.9 463.2l2.2 1.4M129.1 451.3l4.2 2.4M111.8 435.2l1.8 1.0M92.6 452.9l2.9 2.1M153.1 504.6l5.3 1.4M145.1 482.7l2.8 0.8M110.2 512.0l4.8 2.5M67.9 481.7l3.2 2.2M155.3 444.9l4.1 1.0M81.8 421.6l4.1 1.5M128.9 504.8l4.7 2.6M150.9 461.3l2.5 1.6M79.0 481.1l4.2 1.3M159.3 464.2l2.2 0.7M106.8 448.5l4.5 1.2M161.4 468.1l4.9 2.4M86.0 476.9l2.7 1.9M148.3 476.9l2.3 1.0M137.2 495.6l2.1 1.7M141.5 433.5l3.0 1.5M57.6 465.3l4.0 1.0M78.9 496.9l3.6 1.1M66.0 461.1l1.9 1.3M56.4 436.1l2.0 1.3M119.5 501.8l2.2 1.1M107.0 471.9l1.9 1.0M56.6 432.0l4.1 1.5M129.3 452.7l2.6 0.6M140.5 435.5l2.4 0.8M153.3 442.0l3.1 1.3M91.2 503.7l4.6 2.2M95.7 476.1l4.8 2.6M140.8 461.8l3.2 1.5M76.7 448.1l4.0 2.8M109.0 510.7l4.6 2.0M101.8 468.9l3.8 2.2M105.8 423.4l3.8 2.3M62.3 509.3l3.7 2.0M124.2 442.9l3.2 0.7M81.3 490.5l4.4 1.4M117.5 439.7l2.4 1.2M64.8 486.5l2.7 2.2M99.7 463.8l2.4 1.7M159.5 492.2l2.2 1.6M56.8 423.3l1.8 1.0M95.2 455.6l3.0 2.0M144.8 434.8l3.3 1.0M94.1 421.1l2.0 0.5M132.6 443.3l1.8 1.4M60.1 467.5l3.0 2.1M144.4 458.6l3.6 2.9M59.2 424.4l2.2 0.6M110.6 489.1l2.0 1.4M141.9 506.8l2.3 0.8M132.3 444.2l3.5 0.8M146.1 441.8l4.7 1.5M142.9 490.5l3.2 1.0" stroke="#ece4d6" stroke-width="0.9" stroke-linecap="round" stroke-opacity="0.6" fill="none"/>
<path d="M80.3 428.8l5.2 1.3M112.4 441.5l4.6 1.7M67.2 489.4l3.2 1.0M146.9 447.1l2.0 1.0M145.0 438.9l4.0 3.1M74.4 455.4l3.7 1.7M151.2 448.5l3.7 1.8M115.4 457.5l3.6 2.9M133.0 421.9l3.3 1.4M105.0 431.5l3.6 2.9M79.9 451.3l3.6 1.9M61.5 508.8l3.4 1.2M122.4 427.9l3.1 0.9M137.7 504.1l2.5 0.7M123.5 460.2l2.9 1.3M51.7 419.7l3.7 0.9M83.5 432.2l3.6 1.5M154.9 492.6l4.5 2.0M76.4 509.1l2.4 0.7M91.8 471.8l2.1 1.0M162.0 448.7l1.6 1.2M94.2 503.1l4.1 2.5M120.3 503.1l5.0 1.5M49.5 502.5l2.2 0.8M105.9 431.8l2.0 0.6M129.8 453.7l4.6 1.8M97.9 488.0l3.5 1.2M121.1 482.8l4.4 1.7M152.0 507.8l4.0 3.1M160.9 472.6l5.3 1.2M139.1 429.7l2.6 0.6M82.0 431.0l3.9 2.1M132.9 426.0l3.5 2.6M103.4 475.6l3.8 2.4M126.1 434.6l2.8 2.2M116.3 491.8l2.8 1.2M139.5 480.7l3.1 1.2M123.2 499.3l2.3 1.4M94.1 467.3l2.9 2.1M91.8 424.6l2.3 0.6M141.3 469.1l5.0 1.3M110.7 457.5l2.3 0.5M99.3 439.1l2.8 1.7M63.5 487.3l4.6 1.6M138.3 512.2l3.3 1.4M52.8 464.9l3.9 1.0M140.3 498.3l2.7 2.2M118.3 443.8l4.8 1.0M106.0 425.1l3.7 1.4M53.4 445.0l5.0 1.1M57.1 497.6l3.1 1.4M158.2 440.8l5.0 1.0M61.7 480.8l3.1 1.8M57.4 430.5l4.1 1.1M89.9 507.5l3.0 1.1M145.5 505.6l3.5 1.9M85.4 459.1l2.6 1.8M92.0 440.6l3.3 1.5M113.0 473.4l3.7 2.8M104.9 475.3l4.2 1.8M104.6 510.4l3.3 0.8M76.5 507.8l2.9 1.0M126.0 505.3l4.9 1.6M81.1 439.5l3.8 1.2M73.9 462.0l3.2 1.4M151.6 495.0l4.3 2.5M71.6 470.3l3.2 1.0M123.4 500.9l4.4 2.7M60.9 485.7l2.2 0.6M96.6 445.1l4.3 2.7M153.1 478.0l4.0 1.2M106.6 484.0l2.7 1.8M54.7 461.3l4.9 2.5M100.4 492.9l2.3 1.4M98.7 471.5l5.2 1.2M99.0 489.6l3.5 1.3M147.9 434.8l3.1 1.1M83.9 506.7l2.4 1.7M105.6 511.4l5.1 1.9M66.6 457.3l1.9 1.0M58.7 495.7l3.6 1.4M72.9 461.2l3.3 0.7M98.7 434.4l2.3 1.7M140.2 431.4l3.5 1.4M74.9 478.5l4.4 2.4M109.7 461.2l4.6 2.1M118.3 465.1l4.3 3.1M114.3 457.7l3.3 1.8M140.2 440.7l2.7 1.7M49.1 462.7l2.0 1.2M90.4 451.0l2.5 0.8M71.2 446.0l4.9 1.3M119.4 430.9l3.1 1.8M154.8 508.2l2.5 1.0M145.3 449.8l3.9 2.2M51.1 438.2l4.5 1.6M134.5 482.8l2.7 1.7M149.5 498.8l2.1 0.5M74.9 478.3l1.8 1.2M122.7 462.2l3.7 0.9M55.3 473.1l4.1 3.1M130.9 421.7l4.7 2.0M54.3 492.5l4.2 3.5M161.1 477.3l5.1 1.5M123.5 471.8l3.3 1.2M124.4 499.8l2.7 1.5M132.2 490.0l4.0 1.2M146.5 495.7l4.5 1.3M61.4 444.8l3.4 2.2M134.3 449.4l2.9 1.5M55.3 487.3l2.3 1.9M155.0 471.3l2.7 1.6M65.9 488.7l4.3 1.7M150.9 431.5l2.0 1.1M82.4 428.0l2.0 1.1M49.6 436.0l4.6 1.5M109.8 490.1l3.4 1.5M97.0 438.3l4.0 2.2M105.7 445.0l3.9 2.0M74.0 456.9l3.8 2.0M72.6 419.4l3.6 1.3M90.6 498.2l2.0 0.6M158.4 511.4l2.0 0.8M90.5 430.8l3.7 1.1M70.5 448.3l2.4 1.0M63.9 463.8l3.5 0.8M96.1 425.6l3.5 1.0M51.1 425.4l3.9 1.5M161.2 456.9l3.4 1.9M102.7 451.3l3.2 1.9M152.8 426.2l4.0 2.5M109.1 471.0l4.9 2.2M115.2 450.7l2.0 1.4M129.4 483.6l4.0 1.7M121.6 428.8l4.1 1.8M113.4 479.5l3.8 1.4M137.6 468.2l1.7 1.4M91.4 484.3l4.1 1.2M106.5 459.4l3.7 1.3M99.9 489.8l3.8 1.9M163.3 459.0l3.8 0.8M78.5 479.6l1.8 1.5M119.5 434.5l2.8 1.3M51.6 493.3l4.7 1.8M144.3 462.0l4.3 1.1M108.2 508.0l3.7 2.4M96.1 461.7l2.0 1.0M133.8 483.8l4.3 3.1M159.4 476.0l4.1 2.2M72.0 445.5l4.4 1.9M136.4 475.6l3.4 0.8M102.2 491.9l4.2 2.7M119.7 507.3l4.4 2.2M93.5 458.3l3.2 0.7M71.2 505.3l3.6 2.1M153.4 498.6l4.7 2.4M131.0 481.0l3.1 0.7M110.1 475.4l3.1 2.4M119.6 488.1l3.4 1.8M99.9 480.4l4.7 2.7M88.6 450.2l3.5 2.8M132.6 501.9l3.7 1.9M113.2 503.7l3.9 1.8M122.0 431.5l3.7 1.6M82.2 513.8l3.3 1.2M106.1 488.0l2.9 1.2M64.8 489.6l3.0 0.7M96.0 454.4l4.9 2.3M110.8 426.3l2.4 0.7M68.5 460.4l2.3 1.0M74.7 483.8l3.4 1.6M77.0 481.9l2.6 1.7M129.5 501.1l3.7 2.1M109.6 429.7l4.2 1.9M143.7 465.1l2.4 0.8M86.4 496.4l3.3 2.3M111.8 481.0l2.1 1.2M54.1 438.2l2.4 1.6M70.2 489.8l4.6 2.6M116.6 449.5l4.0 0.9M117.9 509.1l2.5 2.1M151.5 440.7l2.5 1.2M112.5 431.0l2.9 1.9M58.3 455.7l2.3 1.7M103.1 433.2l3.1 2.3M89.3 486.5l3.0 1.6M78.0 469.5l3.1 0.9M132.3 489.2l3.1 0.7M161.9 478.6l2.9 1.0M66.8 476.8l5.0 2.0M155.2 444.5l2.5 0.7M134.4 460.8l3.2 2.7M135.8 468.1l2.8 1.3M92.4 439.0l2.5 1.5M76.1 443.5l3.4 2.2M56.5 440.7l2.0 0.9M76.4 450.5l5.1 1.2M113.6 447.0l1.9 0.9M56.9 476.9l2.8 0.9M141.2 422.8l4.2 1.4M80.2 448.6l2.0 1.2M93.5 496.6l3.3 2.1M77.3 475.6l3.5 0.7M120.7 500.9l4.9 1.3M79.2 477.5l2.5 1.1M87.0 469.3l3.6 2.9M85.5 452.8l3.4 2.3M91.8 419.2l4.7 1.0M98.7 499.7l5.1 2.0M149.0 500.1l3.4 1.8M73.2 507.2l4.8 1.1M112.4 437.5l3.4 2.4M63.9 458.7l3.6 1.2M106.7 423.8l4.7 2.4M70.8 466.0l2.1 1.0M126.0 449.3l2.6 2.2M144.9 502.0l2.5 1.3M161.4 491.7l4.7 1.1M60.8 512.0l2.5 1.8M61.6 478.7l3.9 1.4" stroke="#c29a70" stroke-width="0.8" stroke-linecap="round" stroke-opacity="0.45" fill="none"/>
<path d="M102.6 422.0h0M124.0 433.1h0M118.2 505.1h0M135.6 426.8h0M114.1 436.3h0M148.8 483.6h0M83.1 510.4h0M127.9 502.7h0M64.0 458.6h0M67.0 508.9h0M83.4 494.6h0M78.0 454.3h0M75.3 443.5h0M65.4 510.7h0M85.9 453.7h0M96.6 473.5h0M117.9 426.3h0M157.4 430.1h0M102.4 480.6h0M119.0 477.2h0M83.9 504.1h0M130.1 455.9h0M93.6 476.5h0M61.3 509.2h0M140.0 510.8h0M116.9 490.0h0M53.2 449.3h0M80.1 478.1h0M153.8 475.0h0M136.1 448.5h0M159.1 504.9h0M153.4 492.4h0M81.3 439.5h0M77.9 443.4h0M53.9 474.0h0M63.3 513.1h0M132.2 507.9h0M104.0 480.5h0M98.9 483.5h0M65.1 439.0h0M158.1 490.4h0M121.8 509.0h0M106.3 484.4h0M52.1 458.1h0M93.3 442.6h0M49.4 476.4h0M92.5 467.4h0M53.3 435.2h0M161.2 503.9h0M115.1 512.3h0M123.3 490.3h0M127.3 472.6h0M79.9 440.4h0M107.7 453.2h0M53.8 462.5h0M132.3 477.9h0M59.6 460.7h0M65.4 486.9h0M92.5 465.9h0M145.5 483.8h0" stroke="#9a98a8" stroke-width="1.2" stroke-linecap="round" stroke-opacity="0.5" fill="none"/>
<path d="M163.5 478.1v36h-15q8 -16 15 -36z" fill="#e2ddcc"/>
</g>
<rect x="178.2" y="419.2" width="113.8" height="94.7" fill="#b07a48" filter="url(#t3)"/>
<g clip-path="url(#ci3)">
<path d="M211.9 441.1h0M232.4 496.2h0M241.6 419.3h0M254.8 480.8h0M264.5 506.8h0M265.0 447.1h0M251.0 505.0h0M285.9 487.8h0M200.5 472.3h0M242.1 430.0h0M243.1 439.4h0M213.8 447.4h0M267.1 499.8h0M239.6 464.4h0M221.2 486.5h0M193.5 427.4h0M181.8 433.2h0M232.3 461.4h0M279.1 420.5h0M234.9 437.4h0M252.0 430.3h0M266.7 485.0h0M221.8 455.4h0M194.3 432.9h0M243.7 479.1h0M198.8 434.9h0M211.9 510.2h0M261.8 434.4h0M256.4 453.5h0M278.3 456.3h0M265.1 461.5h0M221.0 451.7h0M205.5 500.2h0M230.4 455.2h0M259.4 486.5h0M265.2 505.8h0M281.0 432.3h0M235.4 464.7h0M215.4 448.2h0M219.0 425.1h0M258.6 504.5h0M287.8 420.7h0M276.2 495.6h0M269.8 475.1h0M197.4 459.8h0M283.4 431.3h0M266.7 437.9h0M217.0 431.3h0M290.0 504.0h0M224.1 439.1h0M228.1 495.7h0M234.2 470.3h0M279.0 474.6h0M258.3 458.1h0M257.4 513.5h0M283.2 438.9h0M193.9 491.3h0M290.8 433.0h0M203.3 479.0h0M223.4 444.4h0M199.8 505.3h0M227.3 501.3h0M208.4 492.8h0M255.2 491.4h0M234.7 441.5h0M247.6 427.8h0M239.7 456.7h0M247.4 420.9h0M278.5 429.2h0M217.5 444.2h0M259.9 429.4h0M234.6 461.1h0M253.5 496.7h0M225.2 499.2h0M260.0 484.2h0M247.8 436.9h0M268.6 461.6h0M221.9 438.9h0M270.3 499.3h0M245.0 465.5h0M242.9 454.6h0M248.7 448.3h0M236.9 461.6h0M223.3 473.1h0M263.2 446.6h0M211.5 470.9h0M258.9 434.9h0M257.6 485.5h0M180.0 507.3h0M201.1 437.3h0M251.1 499.7h0M254.0 491.6h0M191.1 464.7h0M239.4 469.5h0M239.3 425.2h0M221.4 479.2h0M245.8 441.1h0M212.6 437.6h0M219.4 436.6h0M234.1 500.1h0M271.4 448.3h0M240.0 489.2h0M216.4 459.7h0M241.6 458.2h0M227.3 471.3h0M223.4 510.0h0M244.3 475.3h0M213.9 471.2h0M276.4 468.1h0M244.3 420.5h0M218.9 476.2h0M222.9 466.3h0M241.1 481.0h0M252.2 432.7h0M279.4 485.5h0M282.4 437.7h0M209.6 483.0h0M256.6 455.4h0M249.9 458.3h0M237.4 456.5h0M246.8 458.3h0M196.0 462.3h0M270.2 444.5h0M287.2 419.5h0M281.3 433.9h0M228.1 441.5h0M193.8 452.0h0M232.8 492.2h0M270.2 490.2h0M283.0 437.0h0M211.1 493.6h0M200.8 472.7h0M225.3 496.3h0M261.5 498.8h0M217.3 442.1h0M207.7 449.5h0M199.6 449.2h0M266.6 453.1h0M250.7 434.0h0M240.4 434.8h0M193.9 504.4h0M213.2 433.6h0M192.2 494.9h0M266.5 474.7h0M260.2 430.2h0M270.3 491.3h0M218.8 425.5h0M209.5 441.0h0M229.5 489.6h0M208.8 432.5h0M286.4 436.2h0M240.0 504.8h0M207.0 461.4h0M242.2 473.2h0M192.4 465.6h0M252.6 424.3h0M271.1 487.3h0M261.1 439.7h0M259.3 439.0h0M203.3 479.3h0M240.3 424.1h0M240.2 452.8h0M280.3 496.3h0M275.1 479.7h0M219.6 472.3h0M257.7 434.1h0M281.4 508.2h0M198.5 455.5h0M251.3 509.4h0M181.5 473.4h0M288.1 472.7h0M282.3 493.2h0M216.2 432.9h0M252.2 454.1h0M191.8 438.0h0M242.1 475.1h0M216.1 457.2h0M219.4 457.4h0M287.1 439.2h0M261.4 481.1h0M291.8 456.0h0M206.0 448.8h0M221.7 469.1h0M279.8 428.0h0M274.2 433.2h0M257.8 447.0h0M206.6 496.7h0M278.3 506.0h0M234.4 502.8h0M230.0 502.7h0M250.7 437.5h0M242.6 451.8h0M289.2 431.0h0M270.7 475.1h0M197.0 469.7h0M213.5 472.0h0M246.2 467.2h0M206.1 482.6h0M200.2 463.1h0M277.9 476.5h0M241.3 447.9h0M189.5 497.0h0M240.1 450.9h0M235.9 473.3h0M274.2 497.5h0M251.3 438.1h0M210.8 470.4h0M260.2 452.5h0M226.2 439.3h0M278.3 493.8h0M249.8 429.2h0M252.6 450.2h0M257.5 475.6h0M266.9 430.2h0M258.4 477.2h0M233.1 501.7h0M257.5 440.4h0M255.8 484.2h0M191.2 425.2h0M283.5 437.4h0M233.3 488.8h0M291.9 429.6h0M217.2 496.9h0M237.5 464.5h0M250.5 428.3h0M283.6 512.6h0M285.6 475.5h0M190.4 457.6h0M276.5 434.8h0M191.8 438.2h0M257.6 476.6h0M230.7 488.6h0M215.4 465.7h0M227.0 481.7h0M218.1 463.8h0M208.4 440.9h0M217.2 505.9h0M220.5 487.1h0M256.9 432.3h0M246.7 512.4h0M250.6 452.0h0M263.1 448.2h0M237.4 489.8h0M226.0 449.7h0M217.8 423.7h0M229.6 512.7h0M228.8 433.3h0M206.0 444.5h0M283.0 479.4h0M259.7 420.7h0M244.6 427.8h0M218.6 464.6h0M183.7 469.0h0M200.0 458.7h0M228.7 491.2h0M213.3 424.1h0M226.0 478.4h0M216.2 469.4h0M251.1 442.8h0M253.0 492.4h0M180.3 460.5h0M258.1 468.0h0M258.3 487.8h0M281.7 469.5h0M207.8 458.0h0M232.4 424.4h0M233.5 462.6h0M280.9 461.4h0M204.5 448.1h0M235.5 480.1h0M266.5 453.8h0M237.8 464.4h0M277.0 510.4h0M272.0 437.5h0M215.2 498.2h0M206.6 484.6h0M180.7 493.5h0M224.5 499.8h0M256.6 427.1h0M240.1 454.8h0M265.1 459.1h0M269.5 424.2h0M258.4 469.6h0M264.2 491.4h0M270.7 447.2h0M277.0 483.8h0M213.2 508.0h0M250.3 485.0h0M237.6 427.9h0M206.1 463.2h0M216.3 450.7h0M198.3 471.6h0M283.9 439.0h0M284.8 480.4h0M223.7 432.8h0M268.6 458.3h0M248.6 467.0h0M255.4 481.2h0M214.4 434.0h0M254.0 452.6h0M255.9 466.5h0M257.0 484.7h0M237.9 506.7h0M233.9 436.7h0M257.0 426.6h0M240.9 495.9h0M256.7 419.2h0M205.2 446.1h0M267.7 429.8h0M193.7 461.9h0M227.3 493.8h0M258.3 443.9h0M211.8 443.3h0M211.5 481.6h0M209.9 454.8h0M249.9 446.2h0M215.8 496.0h0M286.0 491.9h0M260.7 494.6h0M184.4 421.9h0M257.1 423.2h0M243.0 434.8h0M231.0 460.6h0M250.5 433.0h0M275.0 513.0h0M276.9 458.3h0M237.5 469.4h0M198.3 439.2h0M272.9 462.2h0M258.2 474.2h0M184.1 473.2h0M278.7 487.7h0M215.9 487.7h0M209.4 434.6h0M262.6 466.4h0M286.9 504.9h0M236.0 468.7h0M268.8 419.8h0M274.5 492.9h0M189.9 463.6h0M203.2 434.5h0M248.3 431.2h0M255.2 513.7h0M185.9 479.6h0M239.3 494.9h0M213.3 432.9h0M283.9 431.4h0M226.3 489.2h0M206.1 440.2h0M251.7 442.2h0M214.0 505.5h0M225.9 438.6h0M209.6 442.1h0M257.9 468.0h0M266.5 508.5h0M204.7 479.1h0M252.8 455.2h0M285.6 435.1h0M226.9 448.1h0M225.4 465.4h0M281.8 434.8h0M268.6 500.6h0M195.4 469.2h0M200.8 485.8h0M241.5 437.4h0M252.7 486.1h0M277.4 479.5h0M204.1 439.0h0M212.9 435.0h0M271.9 491.8h0M230.4 468.2h0M224.6 472.9h0M281.1 485.2h0M214.3 511.0h0M218.3 448.2h0M247.1 458.9h0M200.6 431.2h0M250.3 433.9h0M264.9 460.9h0M262.5 500.3h0M267.1 487.4h0M186.9 459.1h0M278.0 493.1h0M286.2 436.2h0M262.1 474.3h0M246.3 484.1h0M288.2 489.9h0M284.8 490.5h0M214.0 489.8h0M276.2 420.9h0M229.7 486.8h0M246.5 512.3h0M213.0 463.3h0M185.8 433.9h0M270.6 452.6h0M221.5 445.4h0M200.0 435.7h0M275.3 481.8h0M238.5 480.0h0M220.5 463.8h0M198.5 479.1h0M237.7 450.2h0M281.0 488.0h0M245.0 491.4h0M251.5 427.6h0M223.3 429.4h0M198.3 506.0h0M230.6 454.1h0M265.0 434.2h0M270.1 442.9h0M224.8 499.6h0M199.1 441.5h0M243.9 501.1h0M279.4 481.3h0M272.8 484.4h0M285.1 490.5h0M203.2 469.2h0M224.3 464.1h0M203.3 459.7h0M247.4 446.6h0M191.3 505.9h0M218.5 501.2h0M226.1 492.1h0M201.5 464.1h0M236.5 496.4h0M220.2 487.6h0M221.0 490.3h0M241.9 456.8h0M285.9 435.9h0M218.3 464.3h0M229.7 478.5h0M223.7 434.4h0M273.3 486.0h0M239.6 469.7h0M197.3 462.6h0M251.1 459.2h0M285.3 480.9h0M262.7 455.3h0M223.3 499.0h0M261.3 420.1h0M223.9 478.2h0M242.3 509.7h0M263.3 449.9h0M207.0 436.5h0M226.1 446.5h0M210.1 505.2h0M281.6 486.3h0M272.6 430.7h0M269.6 422.7h0M243.8 486.6h0M243.2 513.0h0M252.9 430.8h0M200.9 471.3h0M182.1 480.2h0M247.2 483.6h0M227.1 443.3h0M242.7 449.8h0M273.5 467.0h0M213.5 450.7h0M220.6 488.5h0M248.2 436.4h0M217.8 448.9h0M212.3 461.2h0M250.0 452.8h0M249.9 447.8h0M224.6 447.4h0M274.3 496.5h0M243.2 444.9h0M242.6 466.7h0M188.6 431.7h0M196.8 467.6h0M274.7 460.3h0M282.1 459.9h0M197.6 480.8h0M212.6 436.9h0M263.6 443.8h0M278.9 446.4h0M246.7 476.5h0M244.4 428.7h0M261.3 446.3h0M226.3 499.2h0M209.7 441.7h0M247.9 434.5h0M277.4 485.2h0M276.6 492.3h0M241.6 460.2h0M200.3 420.4h0M250.3 485.2h0M230.6 455.6h0M255.6 461.5h0M263.2 450.6h0M289.3 494.7h0M221.0 445.3h0M225.3 487.5h0M255.5 457.2h0M223.2 439.6h0M262.7 493.6h0M280.2 430.1h0M255.6 428.5h0M283.5 466.9h0M271.7 444.6h0M276.9 438.9h0M264.4 495.0h0M283.1 433.6h0M278.5 487.6h0M224.4 445.9h0M236.1 500.3h0M207.8 467.8h0M193.4 430.7h0M202.3 442.9h0M251.0 427.0h0M246.1 424.7h0M243.9 459.5h0M249.6 441.9h0M230.5 450.2h0M254.2 435.7h0M243.8 491.0h0M208.0 448.6h0M226.3 439.3h0M226.3 492.1h0M272.4 493.0h0M222.0 435.0h0M183.5 487.4h0M225.0 429.4h0M269.8 491.2h0M257.7 489.5h0M199.9 456.3h0M210.1 436.3h0M237.3 461.3h0M254.0 449.4h0M227.0 480.2h0M255.8 484.6h0M258.9 494.3h0M239.0 446.1h0M229.2 469.8h0M255.1 471.0h0M215.8 499.1h0M257.2 450.9h0M207.8 419.7h0M224.7 485.4h0M197.0 444.2h0M222.1 493.1h0M186.3 449.8h0M227.8 508.0h0M213.0 436.0h0M229.2 468.0h0M229.9 464.5h0M236.8 503.6h0M282.5 431.5h0M245.4 492.8h0M237.2 491.1h0M247.1 438.7h0M277.5 456.8h0M259.9 426.2h0M209.6 474.2h0M261.0 490.3h0M225.5 444.5h0M236.1 501.6h0M210.4 430.9h0M267.4 434.5h0M283.2 493.7h0M227.4 498.6h0M258.2 426.4h0M227.0 460.9h0M267.4 484.4h0M262.6 487.9h0M225.0 443.9h0M222.8 483.6h0M193.0 508.7h0M278.5 492.6h0M256.4 485.5h0M231.0 492.2h0M243.3 471.5h0M225.5 425.0h0M261.0 482.2h0M246.8 509.7h0M256.7 465.9h0M235.9 462.9h0M262.5 464.7h0M240.0 463.0h0M223.0 431.7h0M193.4 493.7h0M221.9 465.7h0M285.3 494.2h0M273.1 497.3h0M226.3 427.7h0M277.8 499.5h0M212.5 459.2h0M249.7 426.8h0M208.5 463.4h0M193.7 508.3h0M259.1 465.2h0M288.4 499.7h0M273.8 493.4h0M275.8 432.6h0M245.3 495.3h0M224.7 464.4h0M179.5 443.2h0M221.1 424.6h0M251.6 494.1h0M208.9 475.4h0M260.0 485.7h0M217.3 509.9h0M221.0 439.6h0M258.2 424.2h0M287.4 439.2h0M259.0 493.2h0M215.2 510.2h0M204.8 458.8h0M249.3 494.3h0M281.3 486.3h0M286.1 502.9h0M238.0 486.0h0M228.5 462.8h0M241.7 426.4h0M204.8 436.9h0M211.5 439.1h0M253.7 476.9h0M245.5 471.9h0M286.3 487.9h0M286.0 450.8h0M229.9 470.9h0M247.6 426.1h0M275.5 450.1h0M233.8 485.3h0M258.3 480.2h0M235.8 471.8h0M217.4 494.9h0M245.7 437.1h0M198.9 451.7h0M273.3 489.9h0M286.7 492.8h0M279.9 449.2h0M245.6 491.9h0M264.4 439.5h0M229.9 509.0h0M285.4 436.3h0M203.9 462.3h0M281.8 427.3h0M195.9 434.1h0M226.9 493.0h0M262.1 453.2h0M268.0 449.0h0M266.9 471.2h0M277.1 447.9h0M224.7 449.3h0M199.7 449.2h0M254.4 432.0h0M215.4 507.7h0M277.3 440.4h0M222.9 452.6h0M252.3 429.6h0M223.7 490.7h0M255.3 463.0h0M285.9 437.5h0M250.5 423.4h0M274.0 432.1h0M280.8 428.4h0M244.4 493.4h0M215.4 446.0h0M188.4 492.6h0M244.7 481.1h0M240.9 491.1h0M258.5 445.9h0M183.5 429.1h0M247.1 427.4h0M212.4 433.3h0M220.3 503.8h0M268.8 450.3h0M208.5 431.8h0M222.4 470.1h0M204.4 470.0h0M286.0 513.6h0M234.9 464.4h0M227.2 432.1h0M214.3 431.0h0M238.1 498.4h0M272.5 431.9h0M248.0 446.2h0M193.2 432.7h0M291.2 486.2h0M263.0 451.2h0M240.0 427.5h0M272.9 486.1h0M209.1 442.6h0M268.8 483.5h0M216.4 466.3h0M274.3 510.3h0M219.4 487.6h0M246.2 461.1h0M230.4 501.9h0M220.0 495.3h0M205.2 456.0h0M210.0 436.4h0M285.7 486.2h0M285.5 487.4h0M216.5 445.5h0M201.1 486.9h0M200.4 490.5h0M212.7 429.8h0M249.1 434.7h0M271.1 446.2h0M262.9 423.2h0M270.7 469.1h0M219.3 509.7h0M223.0 467.1h0M265.3 498.2h0M221.5 481.8h0M220.8 425.2h0M286.2 427.1h0M234.7 492.5h0M217.2 474.2h0M191.4 424.9h0M279.1 479.3h0M262.4 493.3h0M209.5 424.4h0M208.2 511.2h0M279.3 441.3h0M231.7 421.3h0M230.1 473.8h0M263.3 438.2h0M196.3 435.6h0M245.2 496.9h0M209.1 447.8h0M211.8 428.6h0M220.7 504.9h0M250.5 479.3h0M211.6 439.3h0M240.1 461.4h0M263.9 478.1h0M211.3 509.1h0M240.4 452.8h0M218.2 486.4h0M249.8 436.0h0M244.9 433.9h0M274.3 442.9h0M285.6 494.6h0M246.2 431.4h0M258.8 478.7h0M242.0 466.3h0M182.3 461.1h0M275.5 483.2h0M285.3 433.8h0M215.6 503.2h0M255.9 490.9h0M217.8 445.9h0M289.5 498.2h0M195.8 479.8h0M268.2 481.9h0M210.8 486.1h0M201.1 444.9h0M255.3 484.0h0M205.6 462.4h0M212.2 469.7h0M254.0 490.7h0M242.6 460.0h0M223.5 437.5h0M206.1 456.4h0M259.6 460.2h0M273.7 480.1h0M237.7 451.6h0M217.0 428.7h0M247.8 473.9h0M236.5 490.1h0M268.3 452.7h0M254.5 448.4h0M265.9 451.6h0M211.9 441.0h0M283.7 433.4h0M186.7 482.5h0M285.8 507.3h0M270.6 437.0h0M287.6 431.9h0M231.4 446.2h0M271.9 437.5h0M275.1 465.6h0M255.4 475.5h0M291.2 486.7h0M238.4 474.9h0M236.5 499.2h0M251.1 434.9h0M215.8 467.7h0M278.6 466.5h0M213.0 473.6h0M212.9 442.8h0M228.5 451.7h0M217.6 465.6h0M256.7 427.2h0M227.0 470.5h0M231.7 467.9h0M219.5 440.4h0M195.2 464.5h0M287.8 430.6h0M197.7 438.7h0M253.0 461.9h0M205.1 441.6h0M253.0 469.8h0M189.7 479.8h0M215.7 474.6h0M239.6 473.4h0M254.9 449.0h0M246.7 427.4h0M264.0 433.3h0M209.4 469.0h0M240.1 500.0h0M265.5 462.2h0M248.6 433.0h0M229.9 497.6h0M266.8 454.9h0M232.3 472.0h0M218.4 501.0h0M232.6 491.5h0M227.1 470.4h0M182.4 441.0h0M257.1 443.6h0M272.7 490.0h0M259.5 477.9h0M225.0 463.4h0M232.9 464.3h0M254.3 423.9h0M241.0 480.9h0M259.0 487.0h0M278.4 436.5h0M247.6 480.6h0M276.0 504.6h0M266.1 494.2h0M248.4 464.3h0M264.4 508.8h0M255.0 425.0h0M223.8 504.3h0M289.0 473.8h0M270.0 485.4h0M249.5 465.8h0M210.7 440.6h0M286.1 508.3h0M259.9 446.9h0M243.7 437.2h0M253.4 488.5h0M280.7 477.1h0M273.0 442.1h0M219.0 447.1h0M217.6 496.6h0M266.2 452.2h0M244.8 433.7h0M215.7 447.7h0M221.9 448.0h0M215.2 476.4h0M225.6 442.4h0M239.2 465.7h0M218.9 440.4h0M277.3 473.8h0M246.0 437.5h0M203.2 500.3h0M268.9 441.7h0M186.1 425.3h0M262.2 454.2h0M231.4 496.2h0M275.7 438.0h0M237.3 467.8h0M288.3 434.9h0M220.5 463.9h0M236.5 489.0h0M235.7 479.6h0M236.2 509.4h0M273.4 446.7h0M266.7 458.7h0M202.7 438.9h0M236.3 503.7h0M289.2 432.1h0M233.0 501.8h0M227.8 482.6h0M282.6 478.5h0M247.2 451.9h0M240.8 467.2h0M227.0 489.0h0M216.3 505.5h0M261.2 445.7h0M242.4 480.0h0M204.9 428.9h0M206.9 434.3h0M245.8 435.9h0M193.6 478.9h0M275.6 429.4h0M212.5 422.5h0M278.7 508.5h0M277.3 455.7h0M277.7 509.1h0M211.1 434.8h0M268.6 477.8h0M242.4 493.4h0M231.8 497.0h0M218.8 446.9h0M226.2 494.7h0M206.5 432.5h0M254.3 425.1h0M237.1 492.9h0M247.8 463.6h0M223.3 438.4h0M228.3 458.4h0M278.7 487.9h0M243.5 463.6h0M282.5 427.6h0M264.3 503.3h0M208.6 468.3h0M260.1 444.6h0M191.3 462.6h0M266.3 460.0h0M258.7 481.4h0M225.1 434.4h0M231.1 464.5h0M218.1 486.1h0M236.6 513.9h0M191.2 511.5h0M207.8 437.2h0M234.2 499.6h0M269.8 454.3h0M281.5 451.2h0M212.6 439.0h0M247.8 468.9h0M239.3 455.8h0M273.8 454.8h0M215.1 466.1h0M198.6 487.8h0M236.0 444.8h0M230.9 497.4h0M274.1 505.4h0M222.4 447.7h0M228.3 499.6h0M207.8 444.6h0M266.8 475.9h0M250.8 429.4h0M227.5 428.7h0M283.7 506.8h0M257.6 421.8h0M252.6 466.4h0M239.3 445.4h0M245.0 444.8h0M192.8 511.3h0M225.2 485.7h0M222.3 428.9h0M237.2 459.8h0M279.6 485.1h0M211.1 441.6h0M278.1 480.2h0M197.8 419.7h0M209.4 448.7h0M221.6 469.5h0M237.1 467.5h0M257.1 485.0h0M185.9 487.8h0M240.7 477.4h0M254.2 453.7h0M258.6 478.4h0M218.6 512.9h0M232.4 466.6h0M253.0 444.5h0M284.4 470.2h0M239.2 496.7h0M260.5 482.5h0M232.9 490.4h0M238.2 479.6h0M211.5 484.7h0M229.1 460.3h0M209.3 440.0h0M228.9 477.5h0M191.2 436.3h0M202.1 453.8h0M275.2 431.1h0M210.9 436.6h0M204.5 444.4h0M237.7 436.5h0M229.5 492.7h0M252.8 425.2h0M199.0 444.3h0M247.1 487.3h0M195.6 427.7h0M246.6 467.1h0M198.6 511.1h0M275.9 475.3h0M238.2 493.8h0M287.9 434.6h0M228.9 490.5h0M190.8 436.8h0M210.7 485.1h0M282.4 498.9h0M222.1 489.5h0M234.9 431.8h0M188.3 510.8h0M269.0 488.9h0M265.8 459.4h0M250.7 482.7h0M222.9 488.2h0M208.5 428.4h0M237.4 427.1h0M194.9 504.7h0M193.2 463.9h0M200.5 423.8h0M268.1 495.8h0M230.5 448.9h0M249.7 432.0h0M287.3 481.6h0M262.6 491.7h0M251.7 465.3h0M270.9 493.5h0M201.7 477.4h0M194.3 487.4h0M228.3 434.8h0M201.3 466.6h0M237.7 500.7h0M219.5 496.1h0M232.5 469.3h0M215.6 440.6h0M229.1 434.2h0M272.2 469.7h0M247.7 429.2h0M199.1 505.5h0M195.9 432.5h0M242.6 480.5h0M215.2 437.2h0M194.3 503.7h0M237.1 494.1h0M244.6 499.7h0M251.1 447.9h0M178.7 472.5h0M211.7 472.7h0M263.6 458.5h0M284.7 502.0h0M262.8 449.5h0M277.7 504.2h0M220.1 483.5h0M247.6 421.0h0M231.8 459.1h0M280.1 437.4h0M255.5 453.4h0M243.4 439.4h0M206.8 459.3h0M228.3 474.9h0M280.8 480.2h0M231.5 491.8h0M205.4 467.9h0M205.9 439.8h0M226.0 497.0h0M199.6 500.0h0M210.3 478.9h0M235.4 452.6h0M277.9 442.5h0M204.8 432.1h0M280.6 489.2h0M252.1 445.3h0M202.5 452.0h0" stroke="#d8d0b8" stroke-width="1.8" stroke-linecap="round" stroke-opacity="0.8" fill="none"/>
<path d="M202.7 422.9h0M260.7 503.0h0M246.3 481.3h0M213.3 506.2h0M219.2 496.7h0M192.2 431.9h0M265.3 483.8h0M219.3 464.6h0M246.4 432.2h0M258.2 426.1h0M185.5 424.9h0M243.7 506.4h0M244.9 441.1h0M237.4 467.1h0M228.7 438.0h0M280.9 453.4h0M223.9 483.6h0M234.4 472.6h0M248.9 435.3h0M251.9 447.0h0M215.9 490.0h0M270.1 479.1h0M267.7 496.7h0M195.3 421.9h0M262.8 493.6h0M228.8 442.0h0M215.5 442.5h0M205.4 461.3h0M225.4 430.3h0M220.0 493.8h0M233.3 478.7h0M198.9 500.5h0M206.5 434.4h0M204.0 450.6h0M205.5 441.4h0M202.1 472.1h0M232.0 477.5h0M288.6 455.5h0M228.8 425.0h0M221.8 471.7h0M200.5 475.2h0M198.6 431.4h0M188.0 433.4h0M240.0 431.5h0M269.5 429.6h0M266.1 440.7h0M238.8 456.9h0M194.5 476.9h0M248.4 493.6h0M211.1 492.8h0M214.2 453.7h0M210.5 431.8h0M252.7 433.5h0M228.2 443.6h0M274.3 493.8h0M266.7 437.8h0M234.1 503.2h0M281.9 480.6h0M274.4 424.4h0M267.9 479.2h0M228.7 495.3h0M285.4 497.1h0M217.7 486.2h0M210.5 481.7h0M278.5 437.6h0M256.9 449.1h0M271.7 446.5h0M291.6 493.4h0M273.1 502.2h0M221.8 494.0h0M222.9 503.3h0M194.1 468.7h0M210.7 427.0h0M236.7 464.7h0M210.2 477.1h0M222.7 480.2h0M211.9 439.4h0M211.0 498.4h0M225.4 504.6h0M255.2 432.6h0M232.1 468.8h0M206.8 443.8h0M257.5 450.1h0M204.0 476.4h0M219.3 494.2h0M288.9 433.2h0M201.8 476.5h0M226.4 433.0h0M207.7 439.6h0M267.4 494.5h0M252.7 467.4h0M247.0 431.4h0M212.8 450.5h0M239.3 493.8h0M212.7 491.4h0M272.2 485.7h0M207.5 458.6h0M259.1 467.2h0M269.2 448.5h0M229.1 459.8h0M257.4 497.0h0M236.2 500.3h0M255.0 488.2h0M222.8 469.3h0M230.3 471.8h0M257.9 435.8h0M244.4 469.3h0M246.9 429.4h0M222.8 493.5h0M216.6 434.6h0M273.5 457.3h0M275.9 430.2h0M236.7 470.7h0M255.8 476.2h0M215.8 462.2h0M265.8 456.6h0M216.4 492.3h0M249.6 465.8h0M216.4 510.6h0M191.9 490.9h0M248.9 501.2h0M196.1 449.1h0M195.1 441.8h0M231.2 489.0h0M222.6 492.8h0M253.1 465.1h0M228.3 472.2h0M263.8 493.6h0M291.2 501.2h0M212.5 447.2h0M254.6 484.9h0M235.4 456.6h0M281.0 466.2h0M214.3 440.1h0M201.3 430.6h0M229.9 440.1h0M193.6 424.3h0M264.7 498.1h0M256.8 432.8h0M231.5 491.5h0M240.6 448.0h0M205.7 424.4h0M231.1 444.5h0M219.6 427.2h0M221.7 477.2h0M246.7 462.6h0M223.1 452.7h0M241.9 428.8h0M291.2 498.3h0M207.6 426.0h0M217.8 425.3h0M238.7 472.8h0M205.7 502.5h0M230.1 496.5h0M236.5 438.3h0M281.1 448.9h0M208.5 449.9h0M245.5 500.0h0M239.3 473.7h0M256.4 458.6h0M271.8 498.9h0M254.7 453.4h0M247.1 471.3h0M205.2 467.9h0M213.9 435.7h0M290.3 421.8h0M230.4 471.8h0M271.3 495.7h0M219.3 500.3h0M272.5 429.8h0M267.5 443.2h0M244.4 451.9h0M238.4 510.6h0M290.6 436.0h0M257.9 430.4h0M220.3 445.0h0M236.3 462.7h0M261.7 493.2h0M247.0 508.6h0M264.8 478.2h0M264.7 464.0h0M238.2 474.3h0M273.2 499.5h0M252.6 434.2h0M230.4 492.9h0M236.7 505.4h0M253.9 482.7h0M241.2 466.5h0M271.9 458.4h0M280.9 431.7h0M236.1 499.3h0M199.5 460.6h0M232.1 466.8h0M231.9 460.0h0M223.3 457.3h0M286.5 512.0h0M244.8 487.0h0M215.9 449.2h0M214.6 473.6h0M243.5 464.0h0M265.7 486.8h0M254.1 443.9h0M230.8 466.3h0M218.6 466.3h0M237.8 470.6h0M236.2 459.2h0M220.6 474.4h0M193.7 453.8h0M207.9 437.6h0M272.6 491.7h0M205.1 442.1h0M260.3 502.6h0M223.4 490.2h0M204.9 476.8h0M234.4 495.9h0M258.1 437.8h0M253.6 488.9h0M286.4 468.2h0M216.1 462.9h0M204.4 443.0h0M211.2 468.8h0M218.5 472.5h0M216.9 505.2h0M216.4 484.4h0M221.4 461.0h0M211.7 465.7h0M232.2 429.2h0M241.3 481.9h0M204.6 484.9h0M254.9 453.6h0M279.5 437.8h0M285.6 421.0h0M223.6 504.1h0M221.4 466.8h0M252.1 492.7h0M220.5 459.3h0M277.8 438.2h0M234.5 477.9h0M219.6 501.0h0M228.3 471.4h0M261.6 495.3h0M233.9 510.7h0M228.3 422.8h0M200.5 478.1h0M248.0 472.0h0M217.7 434.5h0M220.3 434.6h0M241.3 453.7h0M239.1 435.7h0M270.4 442.1h0M217.4 442.8h0M254.8 495.4h0M266.3 458.0h0M213.5 471.5h0M230.1 473.3h0M242.0 474.4h0M226.1 434.2h0M242.0 460.1h0M265.5 440.7h0M190.9 487.2h0M249.0 482.9h0M203.0 435.0h0M240.4 429.4h0M235.0 487.6h0M289.0 430.1h0M191.9 469.6h0M278.3 444.7h0M242.5 463.5h0M210.1 465.8h0M243.8 467.4h0M288.4 486.2h0M269.5 488.6h0M218.7 501.1h0M221.8 493.9h0M259.5 436.9h0M251.1 456.3h0M230.1 456.1h0M281.2 435.3h0M260.5 455.0h0M291.8 475.0h0M253.0 464.4h0M234.3 467.0h0M283.0 501.6h0M251.4 486.3h0M191.4 488.6h0M266.2 480.8h0M268.5 486.5h0M252.9 420.9h0M278.2 430.8h0M222.1 424.9h0M238.1 461.4h0M253.2 488.4h0M222.2 439.1h0M217.4 428.6h0M231.3 442.6h0M276.7 482.2h0M192.9 458.2h0M241.3 485.6h0M239.5 471.5h0M231.9 460.1h0M206.7 430.6h0M261.8 437.4h0M262.9 483.3h0M285.5 513.8h0M258.4 457.7h0M191.6 466.3h0M197.5 463.6h0M237.1 458.3h0M198.3 449.8h0M226.7 438.0h0M276.7 469.6h0M247.7 477.2h0M260.9 453.8h0M243.9 462.6h0M226.5 501.4h0M261.2 432.5h0M229.2 499.0h0M198.0 460.5h0M218.2 495.8h0M248.9 451.2h0M290.4 453.3h0M289.0 468.2h0M231.4 493.2h0M266.6 481.9h0M257.0 447.9h0M258.7 455.3h0M204.7 468.8h0M212.9 424.0h0M235.6 481.7h0M232.8 510.5h0M259.2 446.1h0M261.3 476.3h0M188.1 426.4h0M209.4 435.8h0M249.5 460.7h0M259.1 449.2h0M267.4 422.3h0M247.8 484.6h0M249.1 469.3h0M260.9 441.9h0M205.2 479.4h0M226.9 509.7h0M259.7 442.9h0M233.8 490.1h0M264.9 495.6h0M285.3 511.9h0M236.4 486.8h0M253.6 452.6h0M235.4 490.0h0M257.2 444.9h0M261.3 455.0h0M208.2 513.3h0M286.2 465.0h0M269.7 495.7h0M216.4 483.0h0M279.6 498.5h0M220.2 461.4h0M202.4 469.1h0M229.5 494.0h0M249.7 439.2h0M249.1 430.6h0M250.6 433.6h0M231.7 431.8h0M216.1 433.4h0M207.7 475.8h0M208.7 450.5h0M250.9 457.2h0M280.6 455.8h0M264.2 490.1h0M215.4 453.5h0M202.1 429.3h0M233.9 473.9h0M194.4 455.6h0M249.2 446.7h0M193.5 464.6h0M266.0 484.5h0M216.9 448.6h0M220.4 492.0h0M241.1 442.9h0M276.1 435.6h0M287.8 494.6h0M280.9 456.3h0M288.1 431.6h0M232.7 482.5h0M252.6 477.9h0M278.8 498.1h0M270.1 490.4h0M291.6 498.9h0M277.1 485.5h0M203.9 470.7h0M286.1 476.9h0M264.8 491.5h0M261.3 456.1h0M252.2 437.2h0M233.4 496.2h0M231.6 431.4h0M216.1 474.2h0M265.4 496.7h0M278.5 483.9h0M214.0 434.6h0M218.4 500.3h0M269.7 462.8h0M232.6 457.2h0M284.7 477.5h0M277.0 436.0h0M236.6 448.6h0M286.6 420.4h0M234.7 457.8h0M262.5 450.3h0M241.3 513.4h0M222.0 475.9h0M218.9 488.6h0M240.3 467.0h0M251.2 454.5h0M246.6 458.5h0M256.7 465.0h0M258.5 445.8h0M218.6 484.5h0M181.9 466.4h0M262.2 476.7h0M263.5 486.3h0M196.1 489.2h0M193.1 429.1h0M220.1 452.3h0M230.4 460.8h0M200.4 510.7h0M221.8 472.5h0M214.4 451.3h0M285.9 482.8h0M203.2 435.3h0M200.1 421.1h0M192.1 439.3h0M283.8 434.7h0M264.4 483.8h0M260.4 449.3h0M179.2 467.5h0M210.0 457.7h0M207.2 471.2h0M205.1 468.8h0M232.1 451.4h0M202.1 423.1h0M235.0 473.3h0M273.6 481.1h0M243.8 461.1h0M257.3 474.9h0M201.4 483.8h0M213.1 509.6h0M228.6 495.6h0M207.4 462.4h0M253.2 451.7h0M228.5 444.8h0M283.5 486.9h0M196.8 444.8h0M259.6 485.3h0M205.7 470.8h0M242.7 434.0h0M217.8 506.1h0M217.1 492.3h0M286.8 483.9h0M233.6 462.6h0M266.5 455.8h0M224.7 440.0h0M218.6 460.0h0M278.7 451.5h0M267.9 431.5h0M228.0 491.9h0M244.2 424.0h0M231.5 472.6h0M273.3 490.8h0M276.0 480.6h0M206.3 475.1h0M219.6 459.9h0M269.4 445.9h0M215.6 446.2h0M259.0 443.6h0M232.1 472.5h0M212.7 435.9h0M266.2 479.6h0M203.7 432.2h0M271.7 472.5h0M291.8 511.6h0M278.8 508.7h0M209.4 433.6h0M238.8 431.8h0M282.8 426.7h0M246.9 433.5h0M213.5 428.5h0M216.5 451.2h0M203.2 470.6h0M236.1 473.7h0M238.6 444.2h0M242.3 457.8h0M228.2 465.0h0M230.0 486.0h0M253.9 428.6h0M278.5 477.1h0M247.1 511.4h0M244.4 435.4h0M288.2 459.9h0M202.9 432.6h0M235.4 461.6h0M231.2 452.0h0M220.1 463.0h0M229.0 447.3h0M211.5 480.0h0M221.6 437.2h0M264.1 503.1h0M225.4 487.1h0M281.5 419.5h0M268.9 502.0h0M240.2 486.1h0M255.1 430.0h0M217.2 436.4h0M223.7 501.9h0M274.6 428.7h0M282.7 477.7h0M239.8 502.8h0M220.5 443.4h0M208.8 430.8h0M248.0 428.1h0M235.8 477.2h0M225.0 479.0h0M208.9 455.5h0M257.1 502.3h0M221.0 442.8h0M245.8 447.0h0M278.0 487.1h0M288.8 458.4h0M210.5 455.4h0M257.7 484.6h0M189.9 476.4h0M235.8 452.4h0M240.6 462.9h0M263.3 433.6h0M214.1 513.7h0M244.4 421.4h0M276.8 501.2h0M272.0 422.1h0M268.0 482.9h0M266.0 510.3h0M204.5 438.4h0M207.7 480.1h0M218.1 480.1h0M235.7 485.9h0M206.0 425.7h0M239.4 469.5h0M242.6 470.0h0M213.0 420.7h0M227.0 488.9h0M216.5 465.3h0M203.2 512.2h0M256.6 503.4h0M278.0 493.0h0M222.3 459.3h0M212.4 433.5h0M281.9 433.3h0M258.0 511.2h0M239.0 437.4h0M233.1 507.3h0M273.3 488.9h0M251.0 475.7h0M212.2 469.7h0M267.3 489.1h0M255.7 479.1h0M249.6 422.9h0M283.9 485.4h0M256.0 485.8h0M200.8 465.6h0M257.4 482.5h0M257.9 429.6h0M268.6 488.7h0M258.1 478.0h0M241.7 469.8h0M223.8 463.1h0M281.2 472.0h0M210.0 505.2h0M204.0 439.9h0M286.0 483.4h0M191.8 430.9h0M248.9 466.4h0M221.8 475.5h0M264.8 484.4h0M224.1 487.9h0M214.8 490.7h0M223.1 468.6h0M218.7 439.5h0M279.6 493.2h0M210.0 438.2h0M225.7 434.7h0M244.0 480.7h0M263.4 456.5h0M214.7 435.7h0M239.1 448.5h0M230.9 429.9h0M241.1 470.0h0M220.3 430.6h0M244.6 420.3h0M208.2 453.3h0M267.3 420.4h0M234.8 490.8h0M212.6 444.0h0M219.1 451.3h0M198.0 480.0h0M216.1 465.8h0M198.8 449.9h0M212.7 482.1h0M259.4 506.0h0M211.9 510.8h0M261.3 454.6h0M262.7 421.9h0M182.4 475.4h0M248.2 474.0h0M284.1 483.4h0M265.7 505.0h0M236.5 464.2h0M230.9 426.7h0M214.1 477.8h0M271.2 479.8h0M260.0 468.5h0M229.3 493.2h0M204.4 434.1h0M243.7 483.7h0M231.9 468.3h0M204.7 420.4h0M220.7 499.6h0M255.9 491.7h0M225.7 475.6h0M218.1 438.3h0M208.4 450.0h0M263.9 504.3h0M248.0 476.0h0M265.7 466.5h0M265.1 450.5h0M201.4 421.4h0M280.1 467.6h0M240.8 446.6h0M269.1 424.1h0M219.3 469.1h0M244.6 457.4h0M283.3 488.5h0M206.3 437.3h0M268.9 448.5h0M261.3 481.9h0M196.8 461.1h0M218.8 488.2h0M218.3 456.8h0M276.7 452.7h0M272.7 419.9h0M285.5 483.7h0M204.6 480.3h0M224.3 437.2h0M245.4 433.9h0M184.8 421.2h0M201.5 495.4h0M279.1 478.3h0M208.8 435.5h0M212.5 429.8h0M211.4 441.3h0M261.1 449.2h0M224.8 453.8h0M262.6 480.2h0M236.4 507.6h0M268.9 482.7h0M237.1 456.9h0M273.8 500.1h0M255.9 457.2h0M185.9 438.4h0M280.0 471.3h0M266.0 498.7h0M211.7 430.0h0M186.9 476.8h0M237.3 452.9h0M237.0 490.9h0M250.9 469.6h0M253.1 463.3h0M256.7 448.8h0M252.6 426.0h0M219.0 446.9h0M265.2 453.0h0M193.3 425.5h0M222.1 486.9h0M233.3 435.6h0M197.9 451.3h0M221.5 434.6h0M219.9 488.0h0M216.2 453.5h0M206.4 441.9h0M236.6 425.8h0M224.1 443.8h0M240.6 470.1h0M225.4 439.5h0M251.3 452.5h0M258.6 489.5h0M188.3 448.9h0M210.4 440.3h0M279.7 438.9h0M201.3 423.4h0M208.7 484.1h0M248.8 483.0h0M254.3 479.4h0M220.6 435.2h0M285.3 457.4h0M213.8 463.6h0M237.0 430.8h0M266.8 484.4h0M243.3 508.2h0M254.5 462.0h0M239.0 477.8h0M208.1 511.8h0M239.0 474.5h0M220.8 423.8h0M199.4 426.6h0M184.4 472.7h0M244.4 435.3h0M272.8 437.8h0M207.5 441.8h0M243.9 493.3h0M248.2 487.3h0M178.9 428.1h0M258.0 449.5h0M222.9 444.5h0M235.6 497.4h0M226.9 469.3h0M201.0 510.6h0M264.7 503.4h0M261.5 486.3h0M208.1 460.9h0M228.1 449.1h0M217.7 505.6h0M207.6 428.9h0M235.5 507.9h0M291.0 488.7h0M209.7 434.8h0M254.2 486.2h0M219.3 463.7h0M206.1 445.6h0M235.9 451.2h0M237.0 422.3h0M212.8 472.0h0M277.3 419.8h0M206.4 483.9h0M209.8 420.2h0M278.2 428.3h0M225.5 500.5h0M288.6 437.1h0M200.1 469.9h0M200.7 470.5h0M265.3 483.1h0M259.2 452.9h0M289.8 434.8h0M276.7 434.0h0M229.1 463.6h0M245.5 471.7h0M180.4 454.3h0M273.0 486.7h0M251.0 426.4h0M200.2 430.0h0M277.5 490.8h0M209.5 420.5h0M264.0 498.4h0M186.1 437.0h0M208.0 445.9h0M260.1 486.5h0M245.7 482.8h0M208.6 484.3h0M290.0 505.9h0M271.9 477.6h0M257.6 431.4h0M229.7 475.7h0M271.6 495.5h0M214.2 479.0h0M211.2 439.8h0M197.7 429.1h0M261.2 457.7h0M247.6 432.4h0M265.0 512.8h0M276.5 486.8h0M258.0 450.3h0M190.9 470.5h0M200.4 478.6h0M233.3 482.6h0M233.2 446.7h0M240.3 503.0h0M249.1 477.5h0M253.6 461.4h0M214.2 511.8h0M263.9 476.9h0M287.7 501.7h0M276.6 487.9h0M243.8 509.1h0M183.1 513.5h0M210.9 433.0h0M209.4 466.5h0M255.4 498.3h0M229.2 476.2h0M278.9 505.9h0M236.9 440.3h0M211.2 492.9h0M196.7 487.1h0M251.3 432.3h0M228.5 500.7h0M275.9 475.2h0M223.3 450.3h0M276.9 482.7h0M221.6 493.1h0M268.6 451.3h0M181.2 460.9h0M195.9 436.8h0M287.6 463.9h0M204.8 425.2h0M228.4 452.7h0M278.1 493.1h0M262.2 497.4h0M256.0 487.6h0M271.6 481.3h0M269.2 434.2h0M268.8 465.6h0M270.0 454.4h0M262.4 491.6h0M281.3 487.4h0M247.9 453.0h0M269.7 478.1h0M213.5 495.1h0M223.6 498.5h0M204.4 471.1h0M220.8 436.3h0M206.7 509.6h0M231.7 428.1h0M283.7 423.5h0M215.9 441.9h0M251.6 436.0h0M244.7 443.3h0M268.8 477.1h0M214.8 509.6h0M283.9 476.9h0M255.9 446.6h0M258.7 506.9h0M193.1 425.9h0M252.0 423.2h0M225.6 478.8h0M252.2 455.8h0M279.9 473.4h0M235.4 465.8h0M250.0 464.3h0M213.6 511.3h0M209.8 446.0h0M259.8 482.6h0M249.1 473.2h0M291.8 494.4h0M239.3 490.4h0M192.8 504.5h0M239.6 495.0h0M210.2 440.5h0M254.8 458.0h0M268.2 486.2h0M225.8 468.6h0M284.3 493.3h0M248.3 455.0h0M223.2 419.3h0M227.5 441.1h0M229.0 433.9h0M285.5 504.2h0M253.0 431.7h0M280.4 485.6h0M268.1 499.5h0M234.7 477.9h0M220.0 488.4h0M248.6 437.4h0M229.0 477.4h0M249.5 453.1h0M282.8 431.9h0M213.4 496.2h0M209.8 470.2h0M287.0 437.5h0M241.0 478.1h0M262.5 428.9h0M279.3 487.2h0M256.8 447.2h0M265.8 436.8h0M226.8 451.5h0M234.0 458.7h0M251.7 486.7h0M265.4 441.1h0M290.0 511.4h0M207.4 489.4h0M257.2 450.0h0M266.1 485.2h0M257.5 430.7h0M196.9 469.7h0M220.9 428.3h0M253.2 464.3h0M247.6 475.7h0M198.6 438.8h0M275.7 445.7h0M206.7 456.3h0M236.5 490.7h0M245.1 423.5h0M210.2 474.7h0M258.0 463.1h0M229.7 471.4h0M214.8 464.4h0M233.0 453.3h0M213.5 434.0h0M239.1 489.4h0M233.5 502.1h0M266.2 477.9h0M223.8 479.4h0M206.4 431.9h0M223.7 486.8h0M263.0 446.5h0M274.0 494.5h0M250.1 425.7h0M267.8 472.6h0M232.7 459.6h0M230.2 495.9h0M285.1 485.4h0M240.9 498.3h0M203.6 428.9h0M240.7 490.5h0M231.3 511.2h0M210.6 468.8h0M230.5 495.9h0M267.4 432.0h0M271.7 448.4h0M233.7 460.7h0M205.3 434.6h0M270.5 488.7h0M248.9 479.7h0M254.8 483.9h0M265.2 468.8h0M203.7 435.3h0M191.8 436.8h0M274.5 421.1h0M211.5 436.5h0M195.3 474.3h0M237.5 423.0h0M205.7 467.6h0M256.9 449.3h0M233.6 449.7h0M180.8 470.4h0M276.9 425.4h0M217.3 431.9h0M214.6 451.5h0M197.4 445.6h0M256.0 452.8h0M225.1 459.6h0M228.5 494.8h0M208.6 446.3h0M248.9 430.7h0M291.4 430.2h0M265.6 445.2h0M216.6 446.5h0M274.8 495.8h0M219.5 502.2h0M231.1 491.7h0M223.2 513.3h0M249.5 470.9h0M237.3 467.8h0M209.2 452.2h0M260.4 435.6h0M234.0 481.5h0M267.6 449.6h0M286.1 484.1h0M282.4 459.0h0M228.2 471.0h0M280.3 464.0h0M276.0 482.7h0M178.3 500.4h0M252.6 454.3h0M223.0 494.4h0M258.0 432.2h0M242.3 433.9h0M260.0 477.7h0M229.1 489.0h0M225.1 483.3h0M257.3 483.4h0M272.8 493.2h0M234.5 500.6h0M251.8 433.6h0M274.5 475.4h0M198.4 464.1h0M228.4 497.0h0M184.9 483.5h0M248.6 429.6h0M287.6 420.8h0M269.6 447.5h0M193.2 474.4h0M237.3 495.3h0M249.4 488.0h0M262.1 439.7h0M256.9 475.5h0M209.3 457.7h0M276.4 436.2h0M183.7 457.8h0M207.0 427.1h0M279.6 494.0h0M242.5 469.1h0M264.6 502.0h0M201.1 439.7h0M284.1 438.4h0M285.2 432.8h0M287.3 419.6h0M210.3 464.4h0M246.6 451.5h0M278.3 508.8h0M202.7 465.8h0M232.5 457.4h0M226.5 443.2h0M202.6 442.3h0M247.4 440.7h0M253.6 504.1h0M209.0 470.7h0M273.7 488.8h0M260.4 474.1h0M266.8 433.9h0M222.4 449.7h0M259.1 460.8h0M284.4 433.1h0M233.4 476.7h0M248.7 500.7h0M234.8 473.6h0M253.8 503.2h0M263.7 490.8h0M246.4 469.7h0M260.7 487.3h0M244.6 461.8h0M218.5 436.2h0M251.8 445.3h0M212.9 459.2h0M267.9 451.0h0M249.0 483.1h0M241.5 497.1h0M265.6 478.4h0M257.0 423.9h0M254.5 484.2h0M246.5 469.6h0M232.3 439.0h0M239.7 458.0h0M185.2 445.0h0M267.0 423.2h0M283.4 491.7h0M249.3 428.6h0M210.6 466.3h0M210.9 497.7h0M230.7 474.8h0M250.5 451.0h0M270.2 435.5h0M239.4 435.6h0M284.6 452.9h0M266.5 427.8h0" stroke="#e2dcc8" stroke-width="1.4" stroke-linecap="round" stroke-opacity="0.8" fill="none"/>
<path d="M242.3 485.7h0M258.5 508.1h0M233.4 482.2h0M286.4 463.7h0M246.9 500.1h0M200.6 472.6h0M199.7 456.8h0M211.6 495.6h0M221.6 507.7h0M234.8 458.1h0M189.7 473.5h0M276.6 498.4h0M214.5 473.4h0M204.3 477.4h0M226.1 464.4h0M281.8 448.1h0M264.2 477.5h0M275.0 483.5h0M287.5 468.8h0M237.4 424.8h0M272.7 507.6h0M203.9 450.5h0M286.5 504.1h0M200.8 463.0h0M189.2 444.8h0M278.9 450.6h0M215.3 478.1h0M219.6 488.3h0M238.8 476.0h0M200.4 459.8h0M183.2 439.6h0M192.9 494.6h0M252.3 498.7h0M247.3 433.4h0M289.0 474.4h0M200.5 462.1h0M252.7 481.1h0M219.6 500.2h0M280.2 491.3h0M255.3 492.4h0M239.7 454.0h0M265.1 447.6h0M196.4 501.3h0M228.9 430.8h0M257.0 470.6h0M226.5 432.9h0M223.5 443.1h0M279.5 480.5h0M195.0 501.7h0M235.1 462.3h0M196.5 444.0h0M218.4 472.5h0M234.5 511.3h0M259.3 464.1h0M260.5 493.2h0M203.5 479.0h0M214.4 453.6h0M273.5 490.2h0M249.2 480.7h0M230.0 477.3h0M198.9 474.1h0M223.0 433.7h0M228.2 449.7h0M192.7 442.9h0M232.1 428.8h0M281.1 437.6h0M261.5 479.3h0M209.9 461.5h0M286.7 498.7h0M231.9 474.1h0M187.2 476.5h0M186.7 492.9h0M273.3 481.3h0M280.4 437.3h0M277.9 501.5h0M289.3 486.9h0M216.6 425.1h0M239.4 501.1h0M209.7 508.8h0M238.0 478.4h0M186.8 420.7h0M248.2 447.8h0M276.0 481.5h0M239.4 465.9h0M226.8 428.1h0M286.1 498.5h0M210.9 438.3h0M241.4 482.1h0M249.8 448.6h0M199.5 442.1h0M178.6 422.0h0M245.5 498.6h0M202.4 435.2h0M216.7 473.6h0M213.9 433.5h0M263.0 453.2h0M249.5 484.1h0M279.0 487.5h0M214.7 490.2h0M274.1 486.3h0M192.2 500.2h0M186.7 506.6h0M240.9 483.6h0M246.3 490.8h0M227.7 442.3h0M232.2 458.9h0M287.0 424.1h0M181.8 438.1h0M261.8 450.9h0M182.1 461.5h0M226.4 463.7h0M237.8 504.2h0M259.4 497.8h0M277.7 468.7h0M237.6 420.3h0M287.0 478.2h0M291.9 510.4h0M207.3 488.8h0M180.3 492.4h0M253.3 471.3h0" stroke="#7a4420" stroke-width="1.6" stroke-linecap="round" stroke-opacity="0.5" fill="none"/>
<path d="M246.2 440.2 C256.2 432.2 266.2 425.2 276.2 419.2 L282.2 419.2 C270.2 427.2 258.2 435.2 248.2 443.2z" fill="#ddd5c0" fill-opacity="0.9"/>
<ellipse cx="285.2" cy="463.2" rx="4" ry="5" fill="#ddd5c2" fill-opacity="0.9" transform="rotate(30 285.2 463.2)"/>
<path d="M178.2 497.9L188.2 513.9H178.2z" fill="#ddd6c2"/>
</g>
<text x="155.90" y="387.30" font-size="10.2" text-anchor="end" textLength="27.60" lengthAdjust="spacingAndGlyphs" fill="#111">100μm</text>
<line x1="128.10" y1="388.80" x2="145.40" y2="388.80" stroke="#111" stroke-width="0.9"/>
<text x="286.50" y="387.60" font-size="10.2" text-anchor="end" textLength="27.60" lengthAdjust="spacingAndGlyphs" fill="#111">100μm</text>
<line x1="258.70" y1="389.10" x2="276.00" y2="389.10" stroke="#111" stroke-width="0.9"/>
<text x="157.60" y="509.50" font-size="10.2" text-anchor="end" textLength="27.60" lengthAdjust="spacingAndGlyphs" fill="#111">100μm</text>
<line x1="129.80" y1="511.00" x2="147.10" y2="511.00" stroke="#111" stroke-width="0.9"/>
<text x="285.80" y="509.50" font-size="10.2" text-anchor="end" textLength="27.60" lengthAdjust="spacingAndGlyphs" fill="#111">100μm</text>
<line x1="258.00" y1="511.00" x2="275.30" y2="511.00" stroke="#111" stroke-width="0.9"/>
<text x="311.60" y="289.80" font-size="16">G</text>
<text x="426.40" y="314.60" font-size="9.4" text-anchor="middle">n=146</text>
<line x1="354.30" y1="318.60" x2="354.30" y2="470.60" stroke="#e6e6e6" stroke-width="0.8"/>
<line x1="372.88" y1="318.60" x2="372.88" y2="470.60" stroke="#e6e6e6" stroke-width="0.8"/>
<line x1="391.45" y1="318.60" x2="391.45" y2="470.60" stroke="#e6e6e6" stroke-width="0.8"/>
<line x1="410.02" y1="318.60" x2="410.02" y2="470.60" stroke="#e6e6e6" stroke-width="0.8"/>
<line x1="428.60" y1="318.60" x2="428.60" y2="470.60" stroke="#e6e6e6" stroke-width="0.8"/>
<line x1="447.18" y1="318.60" x2="447.18" y2="470.60" stroke="#e6e6e6" stroke-width="0.8"/>
<line x1="465.75" y1="318.60" x2="465.75" y2="470.60" stroke="#e6e6e6" stroke-width="0.8"/>
<line x1="484.33" y1="318.60" x2="484.33" y2="470.60" stroke="#e6e6e6" stroke-width="0.8"/>
<line x1="502.90" y1="318.60" x2="502.90" y2="470.60" stroke="#e6e6e6" stroke-width="0.8"/>
<line x1="345.00" y1="450.00" x2="508.00" y2="450.00" stroke="#e6e6e6" stroke-width="0.8"/>
<line x1="345.00" y1="428.75" x2="508.00" y2="428.75" stroke="#e6e6e6" stroke-width="0.8"/>
<line x1="345.00" y1="407.50" x2="508.00" y2="407.50" stroke="#e6e6e6" stroke-width="0.8"/>
<line x1="345.00" y1="386.25" x2="508.00" y2="386.25" stroke="#e6e6e6" stroke-width="0.8"/>
<line x1="345.00" y1="365.00" x2="508.00" y2="365.00" stroke="#e6e6e6" stroke-width="0.8"/>
<line x1="345.00" y1="343.75" x2="508.00" y2="343.75" stroke="#e6e6e6" stroke-width="0.8"/>
<line x1="345.00" y1="322.50" x2="508.00" y2="322.50" stroke="#e6e6e6" stroke-width="0.8"/>
<polygon points="354.30,449.13 358.01,448.48 361.73,447.84 365.44,447.19 369.16,446.54 372.88,445.88 376.59,445.22 380.31,444.55 384.02,443.87 387.74,443.19 391.45,442.50 395.17,441.80 398.88,441.10 402.60,440.38 406.31,439.65 410.02,438.92 413.74,438.17 417.45,437.41 421.17,436.63 424.88,435.85 428.60,435.05 432.31,434.24 436.03,433.41 439.75,432.58 443.46,431.73 447.17,430.86 450.89,429.99 454.61,429.11 458.32,428.21 462.03,427.30 465.75,426.39 469.46,425.46 473.18,424.53 476.89,423.59 480.61,422.65 484.32,421.70 488.04,420.74 491.75,419.77 495.47,418.81 499.18,417.83 502.90,416.86 502.90,428.44 499.18,429.08 495.47,429.73 491.75,430.38 488.04,431.04 484.32,431.70 480.61,432.37 476.89,433.04 473.18,433.72 469.46,434.41 465.75,435.11 462.03,435.81 458.32,436.53 454.61,437.25 450.89,437.98 447.17,438.73 443.46,439.49 439.75,440.26 436.03,441.04 432.31,441.83 428.60,442.64 424.88,443.46 421.17,444.30 417.45,445.14 413.74,446.00 410.02,446.88 406.31,447.76 402.60,448.65 398.88,449.55 395.17,450.47 391.45,451.39 387.74,452.32 384.02,453.26 380.31,454.20 376.59,455.15 372.88,456.11 369.16,457.07 365.44,458.04 361.73,459.01 358.01,459.98 354.30,460.96" fill="#b0b0b0" fill-opacity="0.7"/>
<line x1="345.80" y1="450.00" x2="353.90" y2="450.00" stroke="#2e9c3a" stroke-width="1.0" stroke-opacity="0.8"/>
<line x1="345.80" y1="449.15" x2="353.90" y2="449.15" stroke="#2e9c3a" stroke-width="1.0" stroke-opacity="0.8"/>
<line x1="345.80" y1="447.88" x2="353.90" y2="447.88" stroke="#2e9c3a" stroke-width="1.0" stroke-opacity="0.8"/>
<line x1="345.80" y1="446.18" x2="353.90" y2="446.18" stroke="#2e9c3a" stroke-width="1.0" stroke-opacity="0.8"/>
<line x1="345.80" y1="444.48" x2="353.90" y2="444.48" stroke="#2e9c3a" stroke-width="1.0" stroke-opacity="0.8"/>
<line x1="345.80" y1="442.77" x2="353.90" y2="442.77" stroke="#2e9c3a" stroke-width="1.0" stroke-opacity="0.8"/>
<line x1="345.80" y1="441.07" x2="353.90" y2="441.07" stroke="#2e9c3a" stroke-width="1.0" stroke-opacity="0.8"/>
<line x1="345.80" y1="438.95" x2="353.90" y2="438.95" stroke="#2e9c3a" stroke-width="1.0" stroke-opacity="0.8"/>
<line x1="345.80" y1="437.25" x2="353.90" y2="437.25" stroke="#2e9c3a" stroke-width="1.0" stroke-opacity="0.8"/>
<line x1="345.80" y1="435.98" x2="353.90" y2="435.98" stroke="#2e9c3a" stroke-width="1.0" stroke-opacity="0.8"/>
<line x1="345.80" y1="433.00" x2="353.90" y2="433.00" stroke="#2e9c3a" stroke-width="1.0" stroke-opacity="0.8"/>
<line x1="345.80" y1="430.88" x2="353.90" y2="430.88" stroke="#2e9c3a" stroke-width="1.0" stroke-opacity="0.8"/>
<line x1="345.80" y1="428.75" x2="353.90" y2="428.75" stroke="#2e9c3a" stroke-width="1.0" stroke-opacity="0.8"/>
<line x1="345.80" y1="424.50" x2="353.90" y2="424.50" stroke="#2e9c3a" stroke-width="1.0" stroke-opacity="0.8"/>
<line x1="345.80" y1="418.12" x2="353.90" y2="418.12" stroke="#2e9c3a" stroke-width="1.0" stroke-opacity="0.8"/>
<line x1="345.80" y1="411.75" x2="353.90" y2="411.75" stroke="#2e9c3a" stroke-width="1.0" stroke-opacity="0.8"/>
<line x1="345.80" y1="407.50" x2="353.90" y2="407.50" stroke="#2e9c3a" stroke-width="1.0" stroke-opacity="0.8"/>
<line x1="345.80" y1="405.38" x2="353.90" y2="405.38" stroke="#2e9c3a" stroke-width="1.0" stroke-opacity="0.8"/>
<line x1="345.80" y1="386.25" x2="353.90" y2="386.25" stroke="#2e9c3a" stroke-width="1.0" stroke-opacity="0.8"/>
<line x1="345.80" y1="373.50" x2="353.90" y2="373.50" stroke="#2e9c3a" stroke-width="1.0" stroke-opacity="0.8"/>
<line x1="345.80" y1="365.00" x2="353.90" y2="365.00" stroke="#2e9c3a" stroke-width="1.0" stroke-opacity="0.8"/>
<line x1="345.80" y1="322.50" x2="353.90" y2="322.50" stroke="#2e9c3a" stroke-width="1.0" stroke-opacity="0.8"/>
<line x1="354.30" y1="462.00" x2="354.30" y2="469.80" stroke="#22912b" stroke-width="0.9" stroke-opacity="0.85"/>
<line x1="372.88" y1="462.00" x2="372.88" y2="469.80" stroke="#22912b" stroke-width="0.9" stroke-opacity="0.85"/>
<line x1="391.45" y1="462.00" x2="391.45" y2="469.80" stroke="#22912b" stroke-width="0.9" stroke-opacity="0.85"/>
<line x1="410.02" y1="462.00" x2="410.02" y2="469.80" stroke="#22912b" stroke-width="0.9" stroke-opacity="0.85"/>
<line x1="428.60" y1="462.00" x2="428.60" y2="469.80" stroke="#22912b" stroke-width="0.9" stroke-opacity="0.85"/>
<line x1="447.18" y1="462.00" x2="447.18" y2="469.80" stroke="#22912b" stroke-width="0.9" stroke-opacity="0.85"/>
<line x1="465.75" y1="462.00" x2="465.75" y2="469.80" stroke="#22912b" stroke-width="0.9" stroke-opacity="0.85"/>
<line x1="484.33" y1="462.00" x2="484.33" y2="469.80" stroke="#22912b" stroke-width="0.9" stroke-opacity="0.85"/>
<line x1="502.90" y1="462.00" x2="502.90" y2="469.80" stroke="#22912b" stroke-width="0.9" stroke-opacity="0.85"/>
<circle cx="354.30" cy="437.25" r="2.1" fill="#22912b"/>
<circle cx="354.30" cy="445.75" r="2.1" fill="#22912b"/>
<circle cx="354.30" cy="449.15" r="2.1" fill="#22912b"/>
<circle cx="372.88" cy="443.62" r="2.1" fill="#22912b"/>
<circle cx="372.88" cy="446.81" r="2.1" fill="#22912b"/>
<circle cx="372.88" cy="450.00" r="2.1" fill="#22912b"/>
<circle cx="391.45" cy="386.25" r="2.1" fill="#22912b"/>
<circle cx="391.45" cy="437.25" r="2.1" fill="#22912b"/>
<circle cx="391.45" cy="440.65" r="2.1" fill="#22912b"/>
<circle cx="391.45" cy="443.62" r="2.1" fill="#22912b"/>
<circle cx="391.45" cy="447.88" r="2.1" fill="#22912b"/>
<circle cx="410.02" cy="437.25" r="2.1" fill="#22912b"/>
<circle cx="410.02" cy="441.50" r="2.1" fill="#22912b"/>
<circle cx="410.02" cy="445.75" r="2.1" fill="#22912b"/>
<circle cx="410.02" cy="450.00" r="2.1" fill="#22912b"/>
<circle cx="428.60" cy="423.65" r="2.1" fill="#22912b"/>
<circle cx="428.60" cy="427.90" r="2.1" fill="#22912b"/>
<circle cx="428.60" cy="434.27" r="2.1" fill="#22912b"/>
<circle cx="428.60" cy="438.52" r="2.1" fill="#22912b"/>
<circle cx="428.60" cy="443.62" r="2.1" fill="#22912b"/>
<circle cx="428.60" cy="447.88" r="2.1" fill="#22912b"/>
<circle cx="428.60" cy="450.00" r="2.1" fill="#22912b"/>
<circle cx="447.18" cy="405.38" r="2.1" fill="#22912b"/>
<circle cx="447.18" cy="408.77" r="2.1" fill="#22912b"/>
<circle cx="447.18" cy="411.75" r="2.1" fill="#22912b"/>
<circle cx="447.18" cy="418.12" r="2.1" fill="#22912b"/>
<circle cx="447.18" cy="427.90" r="2.1" fill="#22912b"/>
<circle cx="447.18" cy="430.45" r="2.1" fill="#22912b"/>
<circle cx="447.18" cy="434.27" r="2.1" fill="#22912b"/>
<circle cx="447.18" cy="437.25" r="2.1" fill="#22912b"/>
<circle cx="447.18" cy="443.20" r="2.1" fill="#22912b"/>
<circle cx="447.18" cy="447.02" r="2.1" fill="#22912b"/>
<circle cx="465.75" cy="365.00" r="2.1" fill="#22912b"/>
<circle cx="465.75" cy="405.38" r="2.1" fill="#22912b"/>
<circle cx="465.75" cy="411.75" r="2.1" fill="#22912b"/>
<circle cx="465.75" cy="418.12" r="2.1" fill="#22912b"/>
<circle cx="465.75" cy="424.07" r="2.1" fill="#22912b"/>
<circle cx="465.75" cy="428.75" r="2.1" fill="#22912b"/>
<circle cx="465.75" cy="433.00" r="2.1" fill="#22912b"/>
<circle cx="465.75" cy="437.25" r="2.1" fill="#22912b"/>
<circle cx="465.75" cy="446.60" r="2.1" fill="#22912b"/>
<circle cx="465.75" cy="450.00" r="2.1" fill="#22912b"/>
<circle cx="484.33" cy="365.00" r="2.1" fill="#22912b"/>
<circle cx="484.33" cy="447.88" r="2.1" fill="#22912b"/>
<circle cx="502.90" cy="322.50" r="2.1" fill="#22912b"/>
<circle cx="502.90" cy="373.50" r="2.1" fill="#22912b"/>
<circle cx="502.90" cy="418.12" r="2.1" fill="#22912b"/>
<circle cx="502.90" cy="441.50" r="2.1" fill="#22912b"/>
<circle cx="502.90" cy="447.88" r="2.1" fill="#22912b"/>
<line x1="354.3" y1="455.04" x2="502.9" y2="422.65" stroke="#f0a020" stroke-width="1.3" stroke-dasharray="4 3"/>
<rect x="345.00" y="318.60" width="163.00" height="152.00" fill="none" stroke="#111" stroke-width="1.3"/>
<text x="502.80" y="438.10" font-size="8.8" text-anchor="end" textLength="32.00" lengthAdjust="spacingAndGlyphs">Spearman</text>
<text x="503.00" y="449.70" font-size="8.8" text-anchor="end" textLength="29.00" lengthAdjust="spacingAndGlyphs">r = 0.414</text>
<text x="502.40" y="461.40" font-size="8.8" text-anchor="end" textLength="30.40" lengthAdjust="spacingAndGlyphs">P &lt; 0.001</text>
<text x="326.90" y="388.30" font-size="12.7" text-anchor="middle" textLength="120.50" lengthAdjust="spacingAndGlyphs" transform="rotate(-90 326.90 388.30)">PD-L1 expression level</text>
<text x="357.60" y="500.00" font-size="12.6" textLength="141.40" lengthAdjust="spacingAndGlyphs">HLA-DRA expression level</text>
<line x1="342.00" y1="450.00" x2="345.00" y2="450.00" stroke="#222" stroke-width="0.9"/>
<text x="339.40" y="453.00" font-size="8.8" text-anchor="end" fill="#222">0</text>
<line x1="342.00" y1="407.50" x2="345.00" y2="407.50" stroke="#222" stroke-width="0.9"/>
<text x="339.40" y="410.50" font-size="8.8" text-anchor="end" fill="#222">1</text>
<line x1="342.00" y1="365.00" x2="345.00" y2="365.00" stroke="#222" stroke-width="0.9"/>
<text x="339.40" y="368.00" font-size="8.8" text-anchor="end" fill="#222">2</text>
<line x1="342.00" y1="322.50" x2="345.00" y2="322.50" stroke="#222" stroke-width="0.9"/>
<text x="339.40" y="325.50" font-size="8.8" text-anchor="end" fill="#222">3</text>
<line x1="354.30" y1="470.60" x2="354.30" y2="473.40" stroke="#222" stroke-width="0.9"/>
<text x="354.30" y="483.20" font-size="8.8" text-anchor="middle" fill="#222">4</text>
<line x1="391.45" y1="470.60" x2="391.45" y2="473.40" stroke="#222" stroke-width="0.9"/>
<text x="391.45" y="483.20" font-size="8.8" text-anchor="middle" fill="#222">6</text>
<line x1="428.60" y1="470.60" x2="428.60" y2="473.40" stroke="#222" stroke-width="0.9"/>
<text x="428.60" y="483.20" font-size="8.8" text-anchor="middle" fill="#222">8</text>
<line x1="465.75" y1="470.60" x2="465.75" y2="473.40" stroke="#222" stroke-width="0.9"/>
<text x="465.75" y="483.20" font-size="8.8" text-anchor="middle" fill="#222">10</text>
<line x1="502.90" y1="470.60" x2="502.90" y2="473.40" stroke="#222" stroke-width="0.9"/>
<text x="502.90" y="483.20" font-size="8.8" text-anchor="middle" fill="#222">12</text>
</svg>
</body></html>
